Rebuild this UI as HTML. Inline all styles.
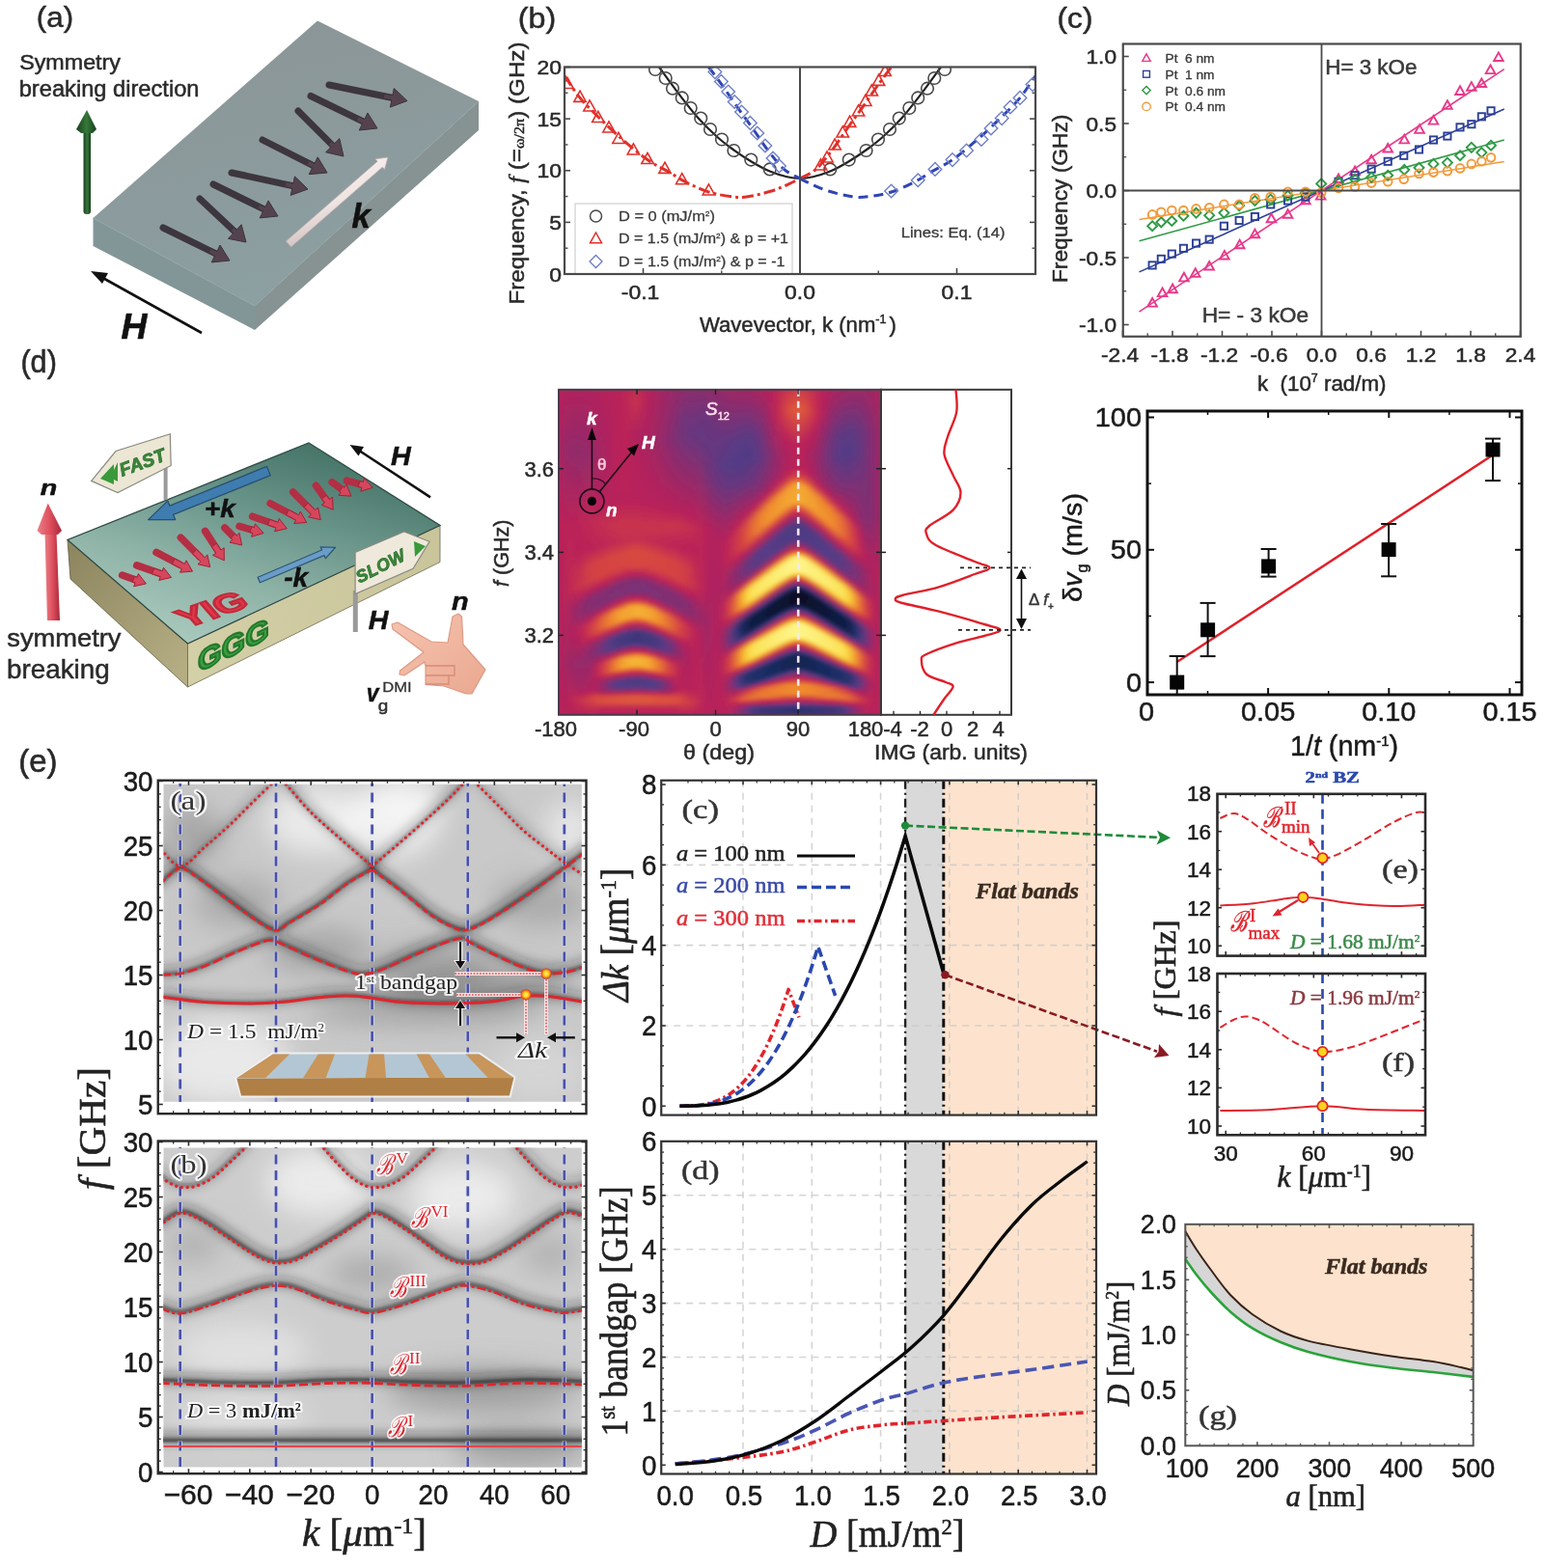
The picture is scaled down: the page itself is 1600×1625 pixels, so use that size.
<!DOCTYPE html>
<html lang="en">
<head>
<meta charset="utf-8">
<title>Figure</title>
<style>
html,body{margin:0;padding:0;background:#fff;}
body{width:1600px;height:1625px;overflow:hidden;font-family:"Liberation Sans",sans-serif;}
svg{display:block;filter:blur(0.6px);}
</style>
</head>
<body>
<svg width="1600" height="1625" viewBox="0 0 1600 1625">
<rect x="0" y="0" width="1600" height="1625" fill="#ffffff"/>
<g id="panel_a">
<text font-family="Liberation Sans, sans-serif" font-size="29.68" fill="#2a2a2a" transform="translate(37.87 28.27) scale(1.057 1)"  stroke="#2a2a2a" stroke-width="0.5">(a)</text>
<text font-family="Liberation Sans, sans-serif" font-size="21.98" fill="#2a2a2a" transform="translate(20.2 71.63) scale(1.060 1)"  stroke="#2a2a2a" stroke-width="0.5">Symmetry</text>
<text font-family="Liberation Sans, sans-serif" font-size="23.53" fill="#2a2a2a" transform="translate(19.71 99.56) scale(1.006 1)"  stroke="#2a2a2a" stroke-width="0.5">breaking direction</text>
<defs><linearGradient id="gA" x1="0" y1="0" x2="1" y2="0"><stop offset="0" stop-color="#1a3f1e"/><stop offset="0.5" stop-color="#35783a"/><stop offset="1" stop-color="#1a3f1e"/></linearGradient><linearGradient id="slabTop" x1="0" y1="0" x2="0.3" y2="1"><stop offset="0" stop-color="#8b9496"/><stop offset="1" stop-color="#8c9fa1"/></linearGradient><linearGradient id="kA" x1="0" y1="0" x2="0.4" y2="1"><stop offset="0" stop-color="#fbf6f6"/><stop offset="0.6" stop-color="#efe4e2"/><stop offset="1" stop-color="#c8b8b8"/></linearGradient></defs>
<rect x="86.5" y="132" width="7.5" height="90" fill="url(#gA)" rx="3"/>
<polygon points="90,114 100,134 96,138 84,138 79,134" fill="url(#gA)" />
<polygon points="96.5,226 264,317 264,342 96.5,255" fill="#829698" />
<polygon points="264,317 496,105 496,135 264,342" fill="#879292" />
<polygon points="329,21.5 496,105 264,317 96.5,226" fill="url(#slabTop)" />
<path d="M96.5,226 L264,317 L496,105" fill="none" stroke="#94a4a5" stroke-width="1" />
<line x1="169" y1="236" x2="224.2" y2="263.2" stroke="#3d363e" stroke-width="7" stroke-linecap="round"/>
<polygon points="216.19,262.04 222.54,265.17 219.23,271.9 238,270 228.07,253.96 224.75,260.69 218.41,257.56" fill="#54434f" stroke="#3d343c" stroke-width="1" stroke-linejoin="round"/>
<line x1="207" y1="206" x2="245.4" y2="242" stroke="#3d363e" stroke-width="7" stroke-linecap="round"/>
<polygon points="238.89,239.32 241.62,241.88 236.49,247.35 255,251 250.17,232.76 245.04,238.23 242.31,235.68" fill="#54434f" stroke="#3d343c" stroke-width="1" stroke-linejoin="round"/>
<line x1="221" y1="191" x2="274.6" y2="217.4" stroke="#3d363e" stroke-width="7" stroke-linecap="round"/>
<polygon points="266.8,216.34 272.54,219.17 269.23,225.9 288,224 278.07,207.96 274.75,214.69 269,211.86" fill="#54434f" stroke="#3d343c" stroke-width="1" stroke-linejoin="round"/>
<line x1="240" y1="179" x2="303.2" y2="192.6" stroke="#3d363e" stroke-width="7" stroke-linecap="round"/>
<polygon points="294.77,193.34 302.83,195.08 301.25,202.41 319,196 305.46,182.86 303.88,190.19 295.83,188.46" fill="#54434f" stroke="#3d343c" stroke-width="1" stroke-linejoin="round"/>
<line x1="272" y1="145" x2="325.6" y2="172.2" stroke="#3d363e" stroke-width="7" stroke-linecap="round"/>
<polygon points="317.77,171.03 323.6,173.99 320.21,180.68 339,179 329.26,162.84 325.86,169.53 320.03,166.57" fill="#54434f" stroke="#3d343c" stroke-width="1" stroke-linejoin="round"/>
<line x1="309" y1="115" x2="346.6" y2="152.6" stroke="#3d363e" stroke-width="7" stroke-linecap="round"/>
<polygon points="340.13,149.67 342.92,152.45 337.62,157.76 356,162 351.76,143.62 346.45,148.92 343.67,146.13" fill="#54434f" stroke="#3d343c" stroke-width="1" stroke-linejoin="round"/>
<line x1="322" y1="99.5" x2="377.2" y2="126.3" stroke="#3d363e" stroke-width="7" stroke-linecap="round"/>
<polygon points="369.21,125.2 375.51,128.26 372.24,135.01 391,133 380.97,117.02 377.7,123.76 371.39,120.7" fill="#54434f" stroke="#3d343c" stroke-width="1" stroke-linejoin="round"/>
<line x1="341" y1="88" x2="405.8" y2="101.2" stroke="#3d363e" stroke-width="7" stroke-linecap="round"/>
<polygon points="397.2,102 405.82,103.76 404.33,111.11 422,104.5 408.32,91.51 406.82,98.86 398.2,97.1" fill="#54434f" stroke="#3d343c" stroke-width="1" stroke-linejoin="round"/>
<polygon points="301.63,256.01 396.35,173.25 398.49,175.7 402,163 388.95,164.78 391.08,167.23 296.37,249.99" fill="url(#kA)" stroke="#b8aaaa" stroke-width="0.8"/>
<text x="364.48" y="236.25" font-family="Liberation Sans, sans-serif" font-size="34.48" font-weight="bold" font-style="italic" fill="#111"  stroke="#111" stroke-width="0.6">k</text>
<line x1="209" y1="345" x2="103" y2="286" stroke="#111" stroke-width="2.6" />
<polygon points="94,281 112,283 106,294" fill="#111" />
<text font-family="Liberation Sans, sans-serif" font-size="36.96" font-weight="bold" font-style="italic" fill="#111" transform="translate(125.51 350.5) scale(1.005 1)"  stroke="#111" stroke-width="0.6">H</text>
<text font-family="Liberation Sans, sans-serif" font-size="33.26" fill="#2a2a2a" transform="translate(21.41 385.51) scale(0.922 1)"  stroke="#2a2a2a" stroke-width="0.6">(d)</text>
</g>
<g id="panel_b">
<text font-family="Liberation Sans, sans-serif" font-size="29.41" fill="#2a2a2a" transform="translate(536.81 28.82) scale(1.097 1)"  stroke="#2a2a2a" stroke-width="0.5">(b)</text>
<rect x="596" y="211" width="225" height="73" fill="#fff" stroke="#cfcfcf" stroke-width="1.2" />
<clipPath id="clipB"><rect x="585" y="69.5" width="488" height="214.5"/></clipPath>
<g clip-path="url(#clipB)">
<path d="M683,69.5 C686.42,74.15 696.83,88.7 703.5,97.4 C710.17,106.1 716.5,114.39 723,121.7 C729.5,129.01 736.54,135.82 742.5,141.25 C748.46,146.68 752.79,149.92 758.75,154.25 C764.71,158.58 771.75,163.36 778.25,167.25 C784.75,171.14 791.52,174.92 797.75,177.6 C803.98,180.28 810.39,182.07 815.6,183.3 C820.81,184.53 824.53,185 829,185 C833.47,185 837.19,184.53 842.4,183.3 C847.61,182.07 854.02,180.28 860.25,177.6 C866.48,174.92 873.25,171.14 879.75,167.25 C886.25,163.36 893.29,158.58 899.25,154.25 C905.21,149.92 909.54,146.68 915.5,141.25 C921.46,135.82 928.5,129.01 935,121.7 C941.5,114.39 947.83,106.1 954.5,97.4 C961.17,88.7 971.58,74.15 975,69.5" fill="none" stroke="#222" stroke-width="2.2" />
<path d="M585,78.5 C587.67,82.32 595.07,94.19 601,101.4 C606.93,108.61 613.27,114.57 620.6,121.75 C627.93,128.93 636.6,137.19 645,144.5 C653.4,151.81 662.88,159.92 671,165.6 C679.12,171.28 687.25,174.8 693.75,178.6 C700.25,182.4 703.23,185 710,188.4 C716.77,191.8 726.27,196.43 734.4,199 C742.52,201.57 751.98,203 758.75,203.8 C765.52,204.6 768.23,204.77 775,203.8 C781.77,202.83 792.36,200.17 799.4,198 C806.44,195.83 812.32,192.97 817.25,190.8 C822.18,188.63 827.04,185.97 829,185" fill="none" stroke="#e0302a" stroke-width="3" stroke-dasharray="12 4 3 4" />
<path d="M829,185 C831.77,183.4 840.1,180.23 845.6,175.4 C851.1,170.57 856.58,163.07 862,156 C867.42,148.93 872.7,140.6 878.1,133 C883.5,125.4 889.25,117.69 894.4,110.4 C899.55,103.11 904.13,96.07 909,89.25 C913.87,82.43 921.17,72.79 923.6,69.5" fill="none" stroke="#e0302a" stroke-width="3" stroke-dasharray="12 4 3 4" />
<path d="M734.4,69.5 C736.83,72.79 744.13,82.43 749,89.25 C753.87,96.07 758.45,103.11 763.6,110.4 C768.75,117.69 774.5,125.4 779.9,133 C785.3,140.6 790.58,148.93 796,156 C801.42,163.07 806.9,170.57 812.4,175.4 C817.9,180.23 826.23,183.4 829,185" fill="none" stroke="#2f45b5" stroke-width="3" stroke-dasharray="10 6" />
<path d="M829,185 C830.96,185.97 835.82,188.63 840.75,190.8 C845.68,192.97 851.56,195.83 858.6,198 C865.64,200.17 876.23,202.83 883,203.8 C889.77,204.77 892.48,204.6 899.25,203.8 C906.02,203 915.48,201.57 923.6,199 C931.73,196.43 941.23,191.8 948,188.4 C954.77,185 957.75,182.4 964.25,178.6 C970.75,174.8 978.88,171.28 987,165.6 C995.12,159.92 1004.6,151.81 1013,144.5 C1021.4,137.19 1030.07,128.93 1037.4,121.75 C1044.73,114.57 1051.07,108.61 1057,101.4 C1062.93,94.19 1070.33,82.32 1073,78.5" fill="none" stroke="#2f45b5" stroke-width="3" stroke-dasharray="10 6" />
<circle cx="679" cy="72" r="6.3" fill="none" stroke="#4a4a4a" stroke-width="1.6" />
<circle cx="979" cy="72" r="6.3" fill="none" stroke="#4a4a4a" stroke-width="1.6" />
<circle cx="689.7" cy="81" r="6.3" fill="none" stroke="#4a4a4a" stroke-width="1.6" />
<circle cx="968.3" cy="81" r="6.3" fill="none" stroke="#4a4a4a" stroke-width="1.6" />
<circle cx="697" cy="91.7" r="6.3" fill="none" stroke="#4a4a4a" stroke-width="1.6" />
<circle cx="961" cy="91.7" r="6.3" fill="none" stroke="#4a4a4a" stroke-width="1.6" />
<circle cx="706.75" cy="101.4" r="6.3" fill="none" stroke="#4a4a4a" stroke-width="1.6" />
<circle cx="951.25" cy="101.4" r="6.3" fill="none" stroke="#4a4a4a" stroke-width="1.6" />
<circle cx="715.7" cy="112" r="6.3" fill="none" stroke="#4a4a4a" stroke-width="1.6" />
<circle cx="942.3" cy="112" r="6.3" fill="none" stroke="#4a4a4a" stroke-width="1.6" />
<circle cx="726.25" cy="122.6" r="6.3" fill="none" stroke="#4a4a4a" stroke-width="1.6" />
<circle cx="931.75" cy="122.6" r="6.3" fill="none" stroke="#4a4a4a" stroke-width="1.6" />
<circle cx="736" cy="134" r="6.3" fill="none" stroke="#4a4a4a" stroke-width="1.6" />
<circle cx="922" cy="134" r="6.3" fill="none" stroke="#4a4a4a" stroke-width="1.6" />
<circle cx="748" cy="144.5" r="6.3" fill="none" stroke="#4a4a4a" stroke-width="1.6" />
<circle cx="910" cy="144.5" r="6.3" fill="none" stroke="#4a4a4a" stroke-width="1.6" />
<circle cx="760.4" cy="156" r="6.3" fill="none" stroke="#4a4a4a" stroke-width="1.6" />
<circle cx="897.6" cy="156" r="6.3" fill="none" stroke="#4a4a4a" stroke-width="1.6" />
<circle cx="778.25" cy="165.6" r="6.3" fill="none" stroke="#4a4a4a" stroke-width="1.6" />
<circle cx="879.75" cy="165.6" r="6.3" fill="none" stroke="#4a4a4a" stroke-width="1.6" />
<circle cx="797.75" cy="175.4" r="6.3" fill="none" stroke="#4a4a4a" stroke-width="1.6" />
<circle cx="860.25" cy="175.4" r="6.3" fill="none" stroke="#4a4a4a" stroke-width="1.6" />
<polygon points="588,80.4 594.2,91.56 581.8,91.56" fill="none" stroke="#e0302a" stroke-width="1.6" />
<polygon points="1070,80.8 1076.8,87.6 1070,94.4 1063.2,87.6" fill="none" stroke="#7080c8" stroke-width="1.4" />
<polygon points="601,94.2 607.2,105.36 594.8,105.36" fill="none" stroke="#e0302a" stroke-width="1.6" />
<polygon points="1057,94.6 1063.8,101.4 1057,108.2 1050.2,101.4" fill="none" stroke="#7080c8" stroke-width="1.4" />
<polygon points="611,103.8 617.2,114.96 604.8,114.96" fill="none" stroke="#e0302a" stroke-width="1.6" />
<polygon points="1047,104.2 1053.8,111 1047,117.8 1040.2,111" fill="none" stroke="#7080c8" stroke-width="1.4" />
<polygon points="619.8,115.4 626,126.56 613.6,126.56" fill="none" stroke="#e0302a" stroke-width="1.6" />
<polygon points="1038.2,115.8 1045,122.6 1038.2,129.4 1031.4,122.6" fill="none" stroke="#7080c8" stroke-width="1.4" />
<polygon points="631,125.8 637.2,136.96 624.8,136.96" fill="none" stroke="#e0302a" stroke-width="1.6" />
<polygon points="1027,126.2 1033.8,133 1027,139.8 1020.2,133" fill="none" stroke="#7080c8" stroke-width="1.4" />
<polygon points="641,137.3 647.2,148.46 634.8,148.46" fill="none" stroke="#e0302a" stroke-width="1.6" />
<polygon points="1017,137.7 1023.8,144.5 1017,151.3 1010.2,144.5" fill="none" stroke="#7080c8" stroke-width="1.4" />
<polygon points="656.4,148.8 662.6,159.96 650.2,159.96" fill="none" stroke="#e0302a" stroke-width="1.6" />
<polygon points="1001.6,149.2 1008.4,156 1001.6,162.8 994.8,156" fill="none" stroke="#7080c8" stroke-width="1.4" />
<polygon points="671,158.4 677.2,169.56 664.8,169.56" fill="none" stroke="#e0302a" stroke-width="1.6" />
<polygon points="987,158.8 993.8,165.6 987,172.4 980.2,165.6" fill="none" stroke="#7080c8" stroke-width="1.4" />
<polygon points="689,168.2 695.2,179.36 682.8,179.36" fill="none" stroke="#e0302a" stroke-width="1.6" />
<polygon points="969,168.6 975.8,175.4 969,182.2 962.2,175.4" fill="none" stroke="#7080c8" stroke-width="1.4" />
<polygon points="706.75,179.55 712.95,190.71 700.55,190.71" fill="none" stroke="#e0302a" stroke-width="1.6" />
<polygon points="951.25,179.95 958.05,186.75 951.25,193.55 944.45,186.75" fill="none" stroke="#7080c8" stroke-width="1.4" />
<polygon points="734.4,190.8 740.6,201.96 728.2,201.96" fill="none" stroke="#e0302a" stroke-width="1.6" />
<polygon points="923.6,191.2 930.4,198 923.6,204.8 916.8,198" fill="none" stroke="#7080c8" stroke-width="1.4" />
<polygon points="740.9,67.8 747.7,74.6 740.9,81.4 734.1,74.6" fill="none" stroke="#7080c8" stroke-width="1.4" />
<polygon points="917.1,67.4 923.3,78.56 910.9,78.56" fill="none" stroke="#e0302a" stroke-width="1.6" />
<polygon points="747.4,77.6 754.2,84.4 747.4,91.2 740.6,84.4" fill="none" stroke="#7080c8" stroke-width="1.4" />
<polygon points="910.6,77.2 916.8,88.36 904.4,88.36" fill="none" stroke="#e0302a" stroke-width="1.6" />
<polygon points="754.7,88.2 761.5,95 754.7,101.8 747.9,95" fill="none" stroke="#7080c8" stroke-width="1.4" />
<polygon points="903.3,87.8 909.5,98.96 897.1,98.96" fill="none" stroke="#e0302a" stroke-width="1.6" />
<polygon points="761.2,98.7 768,105.5 761.2,112.3 754.4,105.5" fill="none" stroke="#7080c8" stroke-width="1.4" />
<polygon points="896.8,98.3 903,109.46 890.6,109.46" fill="none" stroke="#e0302a" stroke-width="1.6" />
<polygon points="768.5,109.2 775.3,116 768.5,122.8 761.7,116" fill="none" stroke="#7080c8" stroke-width="1.4" />
<polygon points="889.5,108.8 895.7,119.96 883.3,119.96" fill="none" stroke="#e0302a" stroke-width="1.6" />
<polygon points="777.4,120.6 784.2,127.4 777.4,134.2 770.6,127.4" fill="none" stroke="#7080c8" stroke-width="1.4" />
<polygon points="880.6,120.2 886.8,131.36 874.4,131.36" fill="none" stroke="#e0302a" stroke-width="1.6" />
<polygon points="784.75,131.2 791.55,138 784.75,144.8 777.95,138" fill="none" stroke="#7080c8" stroke-width="1.4" />
<polygon points="873.25,130.8 879.45,141.96 867.05,141.96" fill="none" stroke="#e0302a" stroke-width="1.6" />
<polygon points="792.9,144.2 799.7,151 792.9,157.8 786.1,151" fill="none" stroke="#7080c8" stroke-width="1.4" />
<polygon points="865.1,143.8 871.3,154.96 858.9,154.96" fill="none" stroke="#e0302a" stroke-width="1.6" />
<polygon points="801,157.2 807.8,164 801,170.8 794.2,164" fill="none" stroke="#7080c8" stroke-width="1.4" />
<polygon points="857,156.8 863.2,167.96 850.8,167.96" fill="none" stroke="#e0302a" stroke-width="1.6" />
<polygon points="807.5,165.2 814.3,172 807.5,178.8 800.7,172" fill="none" stroke="#7080c8" stroke-width="1.4" />
<polygon points="850.5,164.8 856.7,175.96 844.3,175.96" fill="none" stroke="#e0302a" stroke-width="1.6" />
</g>
<rect x="585" y="69.5" width="488" height="214.5" fill="none" stroke="#4a4a4a" stroke-width="2.2" />
<line x1="829" y1="69.5" x2="829" y2="284" stroke="#4a4a4a" stroke-width="2" />
<line x1="585" y1="284" x2="591" y2="284" stroke="#4a4a4a" stroke-width="1.6" />
<line x1="1073" y1="284" x2="1067" y2="284" stroke="#4a4a4a" stroke-width="1.6" />
<text font-family="Liberation Sans, sans-serif" font-size="20.8" text-anchor="end" fill="#2a2a2a" transform="translate(582 291.6) scale(1.100 1)"  stroke="#2a2a2a" stroke-width="0.5">0</text>
<line x1="585" y1="230.38" x2="591" y2="230.38" stroke="#4a4a4a" stroke-width="1.6" />
<line x1="1073" y1="230.38" x2="1067" y2="230.38" stroke="#4a4a4a" stroke-width="1.6" />
<text font-family="Liberation Sans, sans-serif" font-size="20.8" text-anchor="end" fill="#2a2a2a" transform="translate(582 237.97) scale(1.100 1)"  stroke="#2a2a2a" stroke-width="0.5">5</text>
<line x1="585" y1="176.75" x2="591" y2="176.75" stroke="#4a4a4a" stroke-width="1.6" />
<line x1="1073" y1="176.75" x2="1067" y2="176.75" stroke="#4a4a4a" stroke-width="1.6" />
<text font-family="Liberation Sans, sans-serif" font-size="20.8" text-anchor="end" fill="#2a2a2a" transform="translate(582 184.35) scale(1.100 1)"  stroke="#2a2a2a" stroke-width="0.5">10</text>
<line x1="585" y1="123.12" x2="591" y2="123.12" stroke="#4a4a4a" stroke-width="1.6" />
<line x1="1073" y1="123.12" x2="1067" y2="123.12" stroke="#4a4a4a" stroke-width="1.6" />
<text font-family="Liberation Sans, sans-serif" font-size="20.8" text-anchor="end" fill="#2a2a2a" transform="translate(582 130.72) scale(1.100 1)"  stroke="#2a2a2a" stroke-width="0.5">15</text>
<line x1="585" y1="69.5" x2="591" y2="69.5" stroke="#4a4a4a" stroke-width="1.6" />
<line x1="1073" y1="69.5" x2="1067" y2="69.5" stroke="#4a4a4a" stroke-width="1.6" />
<text font-family="Liberation Sans, sans-serif" font-size="20.8" text-anchor="end" fill="#2a2a2a" transform="translate(582 77.1) scale(1.100 1)"  stroke="#2a2a2a" stroke-width="0.5">20</text>
<line x1="585" y1="257.19" x2="588.5" y2="257.19" stroke="#4a4a4a" stroke-width="1.4" />
<line x1="1073" y1="257.19" x2="1069.5" y2="257.19" stroke="#4a4a4a" stroke-width="1.4" />
<line x1="585" y1="203.56" x2="588.5" y2="203.56" stroke="#4a4a4a" stroke-width="1.4" />
<line x1="1073" y1="203.56" x2="1069.5" y2="203.56" stroke="#4a4a4a" stroke-width="1.4" />
<line x1="585" y1="149.94" x2="588.5" y2="149.94" stroke="#4a4a4a" stroke-width="1.4" />
<line x1="1073" y1="149.94" x2="1069.5" y2="149.94" stroke="#4a4a4a" stroke-width="1.4" />
<line x1="585" y1="96.31" x2="588.5" y2="96.31" stroke="#4a4a4a" stroke-width="1.4" />
<line x1="1073" y1="96.31" x2="1069.5" y2="96.31" stroke="#4a4a4a" stroke-width="1.4" />
<line x1="666.5" y1="284" x2="666.5" y2="278" stroke="#4a4a4a" stroke-width="1.6" />
<text font-family="Liberation Sans, sans-serif" font-size="20.8" text-anchor="middle" fill="#2a2a2a" transform="translate(663.5 310) scale(1.100 1)"  stroke="#2a2a2a" stroke-width="0.5">-0.1</text>
<line x1="829" y1="284" x2="829" y2="278" stroke="#4a4a4a" stroke-width="1.6" />
<text font-family="Liberation Sans, sans-serif" font-size="20.8" text-anchor="middle" fill="#2a2a2a" transform="translate(829 310) scale(1.100 1)"  stroke="#2a2a2a" stroke-width="0.5">0.0</text>
<line x1="991.5" y1="284" x2="991.5" y2="278" stroke="#4a4a4a" stroke-width="1.6" />
<text font-family="Liberation Sans, sans-serif" font-size="20.8" text-anchor="middle" fill="#2a2a2a" transform="translate(991.5 310) scale(1.100 1)"  stroke="#2a2a2a" stroke-width="0.5">0.1</text>
<line x1="747.75" y1="284" x2="747.75" y2="280.5" stroke="#4a4a4a" stroke-width="1.4" />
<line x1="910.25" y1="284" x2="910.25" y2="280.5" stroke="#4a4a4a" stroke-width="1.4" />
<text font-family="Liberation Sans, sans-serif" font-size="22.8" fill="#2a2a2a" transform="translate(724.89 343.91) scale(0.971 1)"  stroke="#2a2a2a" stroke-width="0.5">Wavevector, k (nm<tspan dy="-9" font-size="13">-1</tspan><tspan dy="9" dx="3">)</tspan></text>
<text x="543" y="315.5" font-family="Liberation Sans, sans-serif" font-size="22.5" fill="#2a2a2a" transform="rotate(-90 543 315.5)" textLength="272" lengthAdjust="spacingAndGlyphs" stroke="#2a2a2a" stroke-width="0.5">Frequency, <tspan font-style="italic" font-family="Liberation Serif, serif">f</tspan> (=<tspan font-size="15" font-family="Liberation Serif, serif">ω/2π</tspan>) (GHz)</text>
<circle cx="617.5" cy="224" r="6" fill="none" stroke="#4a4a4a" stroke-width="1.5" />
<polygon points="617.5,241 623.5,251.8 611.5,251.8" fill="none" stroke="#e0302a" stroke-width="1.5" />
<polygon points="617.5,264.5 624,271 617.5,277.5 611,271" fill="none" stroke="#6a7ac5" stroke-width="1.3" />
<text x="641" y="228.5" font-family="Liberation Sans, sans-serif" font-size="15.5" fill="#3a3a3a" textLength="100" lengthAdjust="spacingAndGlyphs" stroke="#3a3a3a" stroke-width="0.3">D = 0 (mJ/m<tspan dy="-5" font-size="8">2</tspan><tspan dy="5">)</tspan></text>
<text x="641" y="252" font-family="Liberation Sans, sans-serif" font-size="15.5" fill="#3a3a3a" textLength="176" lengthAdjust="spacingAndGlyphs" stroke="#3a3a3a" stroke-width="0.3">D = 1.5 (mJ/m<tspan dy="-5" font-size="8">2</tspan><tspan dy="5">) &amp; p = +1</tspan></text>
<text x="641" y="275.5" font-family="Liberation Sans, sans-serif" font-size="15.5" fill="#3a3a3a" textLength="172.5" lengthAdjust="spacingAndGlyphs" stroke="#3a3a3a" stroke-width="0.3">D = 1.5 (mJ/m<tspan dy="-5" font-size="8">2</tspan><tspan dy="5">) &amp; p = -1</tspan></text>
<text font-family="Liberation Sans, sans-serif" font-size="15" fill="#3a3a3a" transform="translate(933.67 245.6) scale(1.106 1)"  stroke="#3a3a3a" stroke-width="0.3">Lines: Eq. (14)</text>
</g>
<g id="panel_c">
<text font-family="Liberation Sans, sans-serif" font-size="29.41" fill="#2a2a2a" transform="translate(1095.61 28.82) scale(1.074 1)"  stroke="#2a2a2a" stroke-width="0.5">(c)</text>
<line x1="1180.5" y1="227.46" x2="1558.75" y2="167.5" stroke="#f39a3c" stroke-width="1.6" />
<line x1="1180.5" y1="249.85" x2="1558.75" y2="145.08" stroke="#2f9a45" stroke-width="1.6" />
<line x1="1180.5" y1="281.89" x2="1558.75" y2="113" stroke="#2c3f98" stroke-width="1.6" />
<line x1="1180.5" y1="323.19" x2="1558.75" y2="71.65" stroke="#e8388a" stroke-width="1.6" />
<polygon points="1194.12,308.98 1198.92,317.62 1189.32,317.62" fill="none" stroke="#e8388a" stroke-width="1.9" />
<polygon points="1204.62,298.48 1209.42,307.12 1199.82,307.12" fill="none" stroke="#e8388a" stroke-width="1.9" />
<polygon points="1215.12,294.54 1219.92,303.18 1210.32,303.18" fill="none" stroke="#e8388a" stroke-width="1.9" />
<polygon points="1226.93,282.73 1231.73,291.37 1222.13,291.37" fill="none" stroke="#e8388a" stroke-width="1.9" />
<polygon points="1238.74,278.27 1243.54,286.91 1233.94,286.91" fill="none" stroke="#e8388a" stroke-width="1.9" />
<polygon points="1253.18,270.92 1257.98,279.56 1248.38,279.56" fill="none" stroke="#e8388a" stroke-width="1.9" />
<polygon points="1268.92,259.9 1273.72,268.54 1264.12,268.54" fill="none" stroke="#e8388a" stroke-width="1.9" />
<polygon points="1284.67,248.61 1289.47,257.25 1279.87,257.25" fill="none" stroke="#e8388a" stroke-width="1.9" />
<polygon points="1300.42,237.59 1305.22,246.23 1295.62,246.23" fill="none" stroke="#e8388a" stroke-width="1.9" />
<polygon points="1317.48,221.58 1322.28,230.22 1312.68,230.22" fill="none" stroke="#e8388a" stroke-width="1.9" />
<polygon points="1334.54,217.11 1339.34,225.75 1329.74,225.75" fill="none" stroke="#e8388a" stroke-width="1.9" />
<polygon points="1352.91,202.68 1357.71,211.32 1348.11,211.32" fill="none" stroke="#e8388a" stroke-width="1.9" />
<polygon points="1368.66,197.95 1373.46,206.59 1363.86,206.59" fill="none" stroke="#e8388a" stroke-width="1.9" />
<polygon points="1387.03,180.37 1391.83,189.01 1382.23,189.01" fill="none" stroke="#e8388a" stroke-width="1.9" />
<polygon points="1404.09,172.5 1408.89,181.14 1399.29,181.14" fill="none" stroke="#e8388a" stroke-width="1.9" />
<polygon points="1421.15,160.68 1425.95,169.32 1416.35,169.32" fill="none" stroke="#e8388a" stroke-width="1.9" />
<polygon points="1438.22,148.87 1443.02,157.51 1433.42,157.51" fill="none" stroke="#e8388a" stroke-width="1.9" />
<polygon points="1455.28,139.69 1460.08,148.33 1450.48,148.33" fill="none" stroke="#e8388a" stroke-width="1.9" />
<polygon points="1471.02,129.19 1475.82,137.83 1466.22,137.83" fill="none" stroke="#e8388a" stroke-width="1.9" />
<polygon points="1485.46,120 1490.26,128.64 1480.66,128.64" fill="none" stroke="#e8388a" stroke-width="1.9" />
<polygon points="1499.9,104.25 1504.7,112.89 1495.1,112.89" fill="none" stroke="#e8388a" stroke-width="1.9" />
<polygon points="1513.02,89.29 1517.82,97.93 1508.22,97.93" fill="none" stroke="#e8388a" stroke-width="1.9" />
<polygon points="1524.83,85.09 1529.63,93.73 1520.03,93.73" fill="none" stroke="#e8388a" stroke-width="1.9" />
<polygon points="1535.33,81.42 1540.13,90.06 1530.53,90.06" fill="none" stroke="#e8388a" stroke-width="1.9" />
<polygon points="1544.51,67.51 1549.31,76.15 1539.71,76.15" fill="none" stroke="#e8388a" stroke-width="1.9" />
<polygon points="1552.91,54.39 1557.71,63.03 1548.11,63.03" fill="none" stroke="#e8388a" stroke-width="1.9" />
<rect x="1190.52" y="271.31" width="7.2" height="7.2" fill="none" stroke="#2c3f98" stroke-width="1.9" />
<rect x="1199.71" y="264.75" width="7.2" height="7.2" fill="none" stroke="#2c3f98" stroke-width="1.9" />
<rect x="1210.73" y="259.5" width="7.2" height="7.2" fill="none" stroke="#2c3f98" stroke-width="1.9" />
<rect x="1222.8" y="253.72" width="7.2" height="7.2" fill="none" stroke="#2c3f98" stroke-width="1.9" />
<rect x="1235.93" y="248.47" width="7.2" height="7.2" fill="none" stroke="#2c3f98" stroke-width="1.9" />
<rect x="1249.58" y="244.54" width="7.2" height="7.2" fill="none" stroke="#2c3f98" stroke-width="1.9" />
<rect x="1264.8" y="230.63" width="7.2" height="7.2" fill="none" stroke="#2c3f98" stroke-width="1.9" />
<rect x="1280.55" y="224.85" width="7.2" height="7.2" fill="none" stroke="#2c3f98" stroke-width="1.9" />
<rect x="1296.82" y="220.91" width="7.2" height="7.2" fill="none" stroke="#2c3f98" stroke-width="1.9" />
<rect x="1313.09" y="208.32" width="7.2" height="7.2" fill="none" stroke="#2c3f98" stroke-width="1.9" />
<rect x="1330.94" y="204.38" width="7.2" height="7.2" fill="none" stroke="#2c3f98" stroke-width="1.9" />
<rect x="1349.31" y="200.44" width="7.2" height="7.2" fill="none" stroke="#2c3f98" stroke-width="1.9" />
<rect x="1383.43" y="184.69" width="7.2" height="7.2" fill="none" stroke="#2c3f98" stroke-width="1.9" />
<rect x="1400.49" y="178.13" width="7.2" height="7.2" fill="none" stroke="#2c3f98" stroke-width="1.9" />
<rect x="1417.55" y="171.57" width="7.2" height="7.2" fill="none" stroke="#2c3f98" stroke-width="1.9" />
<rect x="1434.62" y="163.7" width="7.2" height="7.2" fill="none" stroke="#2c3f98" stroke-width="1.9" />
<rect x="1451.15" y="157.66" width="7.2" height="7.2" fill="none" stroke="#2c3f98" stroke-width="1.9" />
<rect x="1466.9" y="151.36" width="7.2" height="7.2" fill="none" stroke="#2c3f98" stroke-width="1.9" />
<rect x="1481.86" y="141.39" width="7.2" height="7.2" fill="none" stroke="#2c3f98" stroke-width="1.9" />
<rect x="1496.3" y="137.45" width="7.2" height="7.2" fill="none" stroke="#2c3f98" stroke-width="1.9" />
<rect x="1509.42" y="128.26" width="7.2" height="7.2" fill="none" stroke="#2c3f98" stroke-width="1.9" />
<rect x="1521.23" y="125.11" width="7.2" height="7.2" fill="none" stroke="#2c3f98" stroke-width="1.9" />
<rect x="1531.73" y="117.24" width="7.2" height="7.2" fill="none" stroke="#2c3f98" stroke-width="1.9" />
<rect x="1541.44" y="111.2" width="7.2" height="7.2" fill="none" stroke="#2c3f98" stroke-width="1.9" />
<polygon points="1194.12,229.23 1199.12,234.23 1194.12,239.23 1189.12,234.23" fill="none" stroke="#2f9a45" stroke-width="1.9" />
<polygon points="1203.31,225.29 1208.31,230.29 1203.31,235.29 1198.31,230.29" fill="none" stroke="#2f9a45" stroke-width="1.9" />
<polygon points="1214.33,223.98 1219.33,228.98 1214.33,233.98 1209.33,228.98" fill="none" stroke="#2f9a45" stroke-width="1.9" />
<polygon points="1226.4,218.73 1231.4,223.73 1226.4,228.73 1221.4,223.73" fill="none" stroke="#2f9a45" stroke-width="1.9" />
<polygon points="1239.53,215.58 1244.53,220.58 1239.53,225.58 1234.53,220.58" fill="none" stroke="#2f9a45" stroke-width="1.9" />
<polygon points="1253.18,218.2 1258.18,223.2 1253.18,228.2 1248.18,223.2" fill="none" stroke="#2f9a45" stroke-width="1.9" />
<polygon points="1268.4,215.58 1273.4,220.58 1268.4,225.58 1263.4,220.58" fill="none" stroke="#2f9a45" stroke-width="1.9" />
<polygon points="1284.15,208.23 1289.15,213.23 1284.15,218.23 1279.15,213.23" fill="none" stroke="#2f9a45" stroke-width="1.9" />
<polygon points="1300.42,202.98 1305.42,207.98 1300.42,212.98 1295.42,207.98" fill="none" stroke="#2f9a45" stroke-width="1.9" />
<polygon points="1316.69,201.67 1321.69,206.67 1316.69,211.67 1311.69,206.67" fill="none" stroke="#2f9a45" stroke-width="1.9" />
<polygon points="1334.54,197.73 1339.54,202.73 1334.54,207.73 1329.54,202.73" fill="none" stroke="#2f9a45" stroke-width="1.9" />
<polygon points="1352.91,195.1 1357.91,200.1 1352.91,205.1 1347.91,200.1" fill="none" stroke="#2f9a45" stroke-width="1.9" />
<polygon points="1369.19,185.39 1374.19,190.39 1369.19,195.39 1364.19,190.39" fill="none" stroke="#2f9a45" stroke-width="1.9" />
<polygon points="1387.03,183.29 1392.03,188.29 1387.03,193.29 1382.03,188.29" fill="none" stroke="#2f9a45" stroke-width="1.9" />
<polygon points="1404.09,180.67 1409.09,185.67 1404.09,190.67 1399.09,185.67" fill="none" stroke="#2f9a45" stroke-width="1.9" />
<polygon points="1421.15,178.83 1426.15,183.83 1421.15,188.83 1416.15,183.83" fill="none" stroke="#2f9a45" stroke-width="1.9" />
<polygon points="1438.22,176.73 1443.22,181.73 1438.22,186.73 1433.22,181.73" fill="none" stroke="#2f9a45" stroke-width="1.9" />
<polygon points="1455.28,170.96 1460.28,175.96 1455.28,180.96 1450.28,175.96" fill="none" stroke="#2f9a45" stroke-width="1.9" />
<polygon points="1470.5,168.86 1475.5,173.86 1470.5,178.86 1465.5,173.86" fill="none" stroke="#2f9a45" stroke-width="1.9" />
<polygon points="1485.46,164.92 1490.46,169.92 1485.46,174.92 1480.46,169.92" fill="none" stroke="#2f9a45" stroke-width="1.9" />
<polygon points="1499.9,163.61 1504.9,168.61 1499.9,173.61 1494.9,168.61" fill="none" stroke="#2f9a45" stroke-width="1.9" />
<polygon points="1513.02,156.26 1518.02,161.26 1513.02,166.26 1508.02,161.26" fill="none" stroke="#2f9a45" stroke-width="1.9" />
<polygon points="1524.83,147.86 1529.83,152.86 1524.83,157.86 1519.83,152.86" fill="none" stroke="#2f9a45" stroke-width="1.9" />
<polygon points="1535.33,153.11 1540.33,158.11 1535.33,163.11 1530.33,158.11" fill="none" stroke="#2f9a45" stroke-width="1.9" />
<polygon points="1545.04,145.76 1550.04,150.76 1545.04,155.76 1540.04,150.76" fill="none" stroke="#2f9a45" stroke-width="1.9" />
<circle cx="1194.12" cy="222.41" r="4.3" fill="none" stroke="#f39a3c" stroke-width="2" />
<circle cx="1203.31" cy="219.79" r="4.3" fill="none" stroke="#f39a3c" stroke-width="2" />
<circle cx="1214.33" cy="217.95" r="4.3" fill="none" stroke="#f39a3c" stroke-width="2" />
<circle cx="1226.4" cy="217.95" r="4.3" fill="none" stroke="#f39a3c" stroke-width="2" />
<circle cx="1239.53" cy="216.38" r="4.3" fill="none" stroke="#f39a3c" stroke-width="2" />
<circle cx="1253.18" cy="215.33" r="4.3" fill="none" stroke="#f39a3c" stroke-width="2" />
<circle cx="1268.4" cy="211.92" r="4.3" fill="none" stroke="#f39a3c" stroke-width="2" />
<circle cx="1284.15" cy="211.92" r="4.3" fill="none" stroke="#f39a3c" stroke-width="2" />
<circle cx="1300.42" cy="205.35" r="4.3" fill="none" stroke="#f39a3c" stroke-width="2" />
<circle cx="1316.69" cy="204.04" r="4.3" fill="none" stroke="#f39a3c" stroke-width="2" />
<circle cx="1334.54" cy="198.79" r="4.3" fill="none" stroke="#f39a3c" stroke-width="2" />
<circle cx="1352.91" cy="198.79" r="4.3" fill="none" stroke="#f39a3c" stroke-width="2" />
<circle cx="1369.19" cy="199.58" r="4.3" fill="none" stroke="#f39a3c" stroke-width="2" />
<circle cx="1387.03" cy="194.86" r="4.3" fill="none" stroke="#f39a3c" stroke-width="2" />
<circle cx="1404.09" cy="193.54" r="4.3" fill="none" stroke="#f39a3c" stroke-width="2" />
<circle cx="1421.15" cy="189.61" r="4.3" fill="none" stroke="#f39a3c" stroke-width="2" />
<circle cx="1438.22" cy="188.29" r="4.3" fill="none" stroke="#f39a3c" stroke-width="2" />
<circle cx="1454.75" cy="185.67" r="4.3" fill="none" stroke="#f39a3c" stroke-width="2" />
<circle cx="1470.5" cy="179.9" r="4.3" fill="none" stroke="#f39a3c" stroke-width="2" />
<circle cx="1485.46" cy="178.58" r="4.3" fill="none" stroke="#f39a3c" stroke-width="2" />
<circle cx="1499.9" cy="177.27" r="4.3" fill="none" stroke="#f39a3c" stroke-width="2" />
<circle cx="1513.02" cy="174.38" r="4.3" fill="none" stroke="#f39a3c" stroke-width="2" />
<circle cx="1524.83" cy="169.92" r="4.3" fill="none" stroke="#f39a3c" stroke-width="2" />
<circle cx="1535.33" cy="167.3" r="4.3" fill="none" stroke="#f39a3c" stroke-width="2" />
<circle cx="1545.04" cy="163.36" r="4.3" fill="none" stroke="#f39a3c" stroke-width="2" />
<rect x="1163.75" y="45.5" width="412" height="303.25" fill="none" stroke="#4a4a4a" stroke-width="2.2" />
<line x1="1369.5" y1="45.5" x2="1369.5" y2="348.75" stroke="#4a4a4a" stroke-width="1.8" />
<line x1="1163.75" y1="197.5" x2="1575.75" y2="197.5" stroke="#4a4a4a" stroke-width="1.8" />
<line x1="1163.75" y1="58.5" x2="1169.75" y2="58.5" stroke="#4a4a4a" stroke-width="1.6" />
<text font-family="Liberation Sans, sans-serif" font-size="20.8" text-anchor="end" fill="#2a2a2a" transform="translate(1157 66.1) scale(1.090 1)"  stroke="#2a2a2a" stroke-width="0.5">1.0</text>
<line x1="1163.75" y1="128" x2="1169.75" y2="128" stroke="#4a4a4a" stroke-width="1.6" />
<text font-family="Liberation Sans, sans-serif" font-size="20.8" text-anchor="end" fill="#2a2a2a" transform="translate(1157 135.6) scale(1.090 1)"  stroke="#2a2a2a" stroke-width="0.5">0.5</text>
<line x1="1163.75" y1="197.5" x2="1169.75" y2="197.5" stroke="#4a4a4a" stroke-width="1.6" />
<text font-family="Liberation Sans, sans-serif" font-size="20.8" text-anchor="end" fill="#2a2a2a" transform="translate(1157 205.1) scale(1.090 1)"  stroke="#2a2a2a" stroke-width="0.5">0.0</text>
<line x1="1163.75" y1="267" x2="1169.75" y2="267" stroke="#4a4a4a" stroke-width="1.6" />
<text font-family="Liberation Sans, sans-serif" font-size="20.8" text-anchor="end" fill="#2a2a2a" transform="translate(1157 274.6) scale(1.090 1)"  stroke="#2a2a2a" stroke-width="0.5">-0.5</text>
<line x1="1163.75" y1="336.5" x2="1169.75" y2="336.5" stroke="#4a4a4a" stroke-width="1.6" />
<text font-family="Liberation Sans, sans-serif" font-size="20.8" text-anchor="end" fill="#2a2a2a" transform="translate(1157 344.1) scale(1.090 1)"  stroke="#2a2a2a" stroke-width="0.5">-1.0</text>
<line x1="1163.75" y1="93.25" x2="1167.25" y2="93.25" stroke="#4a4a4a" stroke-width="1.3" />
<line x1="1163.75" y1="162.75" x2="1167.25" y2="162.75" stroke="#4a4a4a" stroke-width="1.3" />
<line x1="1163.75" y1="232.25" x2="1167.25" y2="232.25" stroke="#4a4a4a" stroke-width="1.3" />
<line x1="1163.75" y1="301.75" x2="1167.25" y2="301.75" stroke="#4a4a4a" stroke-width="1.3" />
<line x1="1163.5" y1="348.75" x2="1163.5" y2="342.75" stroke="#4a4a4a" stroke-width="1.6" />
<text font-family="Liberation Sans, sans-serif" font-size="20.8" text-anchor="middle" fill="#2a2a2a" transform="translate(1160.5 374.5) scale(1.090 1)"  stroke="#2a2a2a" stroke-width="0.5">-2.4</text>
<line x1="1215" y1="348.75" x2="1215" y2="342.75" stroke="#4a4a4a" stroke-width="1.6" />
<text font-family="Liberation Sans, sans-serif" font-size="20.8" text-anchor="middle" fill="#2a2a2a" transform="translate(1212 374.5) scale(1.090 1)"  stroke="#2a2a2a" stroke-width="0.5">-1.8</text>
<line x1="1266.5" y1="348.75" x2="1266.5" y2="342.75" stroke="#4a4a4a" stroke-width="1.6" />
<text font-family="Liberation Sans, sans-serif" font-size="20.8" text-anchor="middle" fill="#2a2a2a" transform="translate(1263.5 374.5) scale(1.090 1)"  stroke="#2a2a2a" stroke-width="0.5">-1.2</text>
<line x1="1318" y1="348.75" x2="1318" y2="342.75" stroke="#4a4a4a" stroke-width="1.6" />
<text font-family="Liberation Sans, sans-serif" font-size="20.8" text-anchor="middle" fill="#2a2a2a" transform="translate(1315 374.5) scale(1.090 1)"  stroke="#2a2a2a" stroke-width="0.5">-0.6</text>
<line x1="1369.5" y1="348.75" x2="1369.5" y2="342.75" stroke="#4a4a4a" stroke-width="1.6" />
<text font-family="Liberation Sans, sans-serif" font-size="20.8" text-anchor="middle" fill="#2a2a2a" transform="translate(1369.5 374.5) scale(1.090 1)"  stroke="#2a2a2a" stroke-width="0.5">0.0</text>
<line x1="1421" y1="348.75" x2="1421" y2="342.75" stroke="#4a4a4a" stroke-width="1.6" />
<text font-family="Liberation Sans, sans-serif" font-size="20.8" text-anchor="middle" fill="#2a2a2a" transform="translate(1421 374.5) scale(1.090 1)"  stroke="#2a2a2a" stroke-width="0.5">0.6</text>
<line x1="1472.5" y1="348.75" x2="1472.5" y2="342.75" stroke="#4a4a4a" stroke-width="1.6" />
<text font-family="Liberation Sans, sans-serif" font-size="20.8" text-anchor="middle" fill="#2a2a2a" transform="translate(1472.5 374.5) scale(1.090 1)"  stroke="#2a2a2a" stroke-width="0.5">1.2</text>
<line x1="1524" y1="348.75" x2="1524" y2="342.75" stroke="#4a4a4a" stroke-width="1.6" />
<text font-family="Liberation Sans, sans-serif" font-size="20.8" text-anchor="middle" fill="#2a2a2a" transform="translate(1524 374.5) scale(1.090 1)"  stroke="#2a2a2a" stroke-width="0.5">1.8</text>
<line x1="1575.5" y1="348.75" x2="1575.5" y2="342.75" stroke="#4a4a4a" stroke-width="1.6" />
<text font-family="Liberation Sans, sans-serif" font-size="20.8" text-anchor="middle" fill="#2a2a2a" transform="translate(1575.5 374.5) scale(1.090 1)"  stroke="#2a2a2a" stroke-width="0.5">2.4</text>
<line x1="1189.25" y1="348.75" x2="1189.25" y2="345.25" stroke="#4a4a4a" stroke-width="1.3" />
<line x1="1240.75" y1="348.75" x2="1240.75" y2="345.25" stroke="#4a4a4a" stroke-width="1.3" />
<line x1="1292.25" y1="348.75" x2="1292.25" y2="345.25" stroke="#4a4a4a" stroke-width="1.3" />
<line x1="1343.75" y1="348.75" x2="1343.75" y2="345.25" stroke="#4a4a4a" stroke-width="1.3" />
<line x1="1395.25" y1="348.75" x2="1395.25" y2="345.25" stroke="#4a4a4a" stroke-width="1.3" />
<line x1="1446.75" y1="348.75" x2="1446.75" y2="345.25" stroke="#4a4a4a" stroke-width="1.3" />
<line x1="1498.25" y1="348.75" x2="1498.25" y2="345.25" stroke="#4a4a4a" stroke-width="1.3" />
<line x1="1549.75" y1="348.75" x2="1549.75" y2="345.25" stroke="#4a4a4a" stroke-width="1.3" />
<text x="1303" y="405" font-family="Liberation Sans, sans-serif" font-size="21.6" fill="#2a2a2a" xml:space="preserve" textLength="133.5" lengthAdjust="spacingAndGlyphs" stroke="#2a2a2a" stroke-width="0.5">k  (10<tspan dy="-9" font-size="12">7</tspan><tspan dy="9"> rad/m)</tspan></text>
<text font-family="Liberation Sans, sans-serif" font-size="22.73" fill="#2a2a2a" transform="translate(1106.48 293.07) rotate(-90) scale(1.001 1)"  stroke="#2a2a2a" stroke-width="0.5">Frequency (GHz)</text>
<text font-family="Liberation Sans, sans-serif" font-size="21.43" fill="#3a3a3a" transform="translate(1373.21 76.79) scale(1.046 1)"  stroke="#3a3a3a" stroke-width="0.5">H= 3 kOe</text>
<text font-family="Liberation Sans, sans-serif" font-size="21.43" fill="#3a3a3a" transform="translate(1245.68 334.29) scale(1.059 1)"  stroke="#3a3a3a" stroke-width="0.5">H= - 3 kOe</text>
<polygon points="1188,55.8 1192.2,63.36 1183.8,63.36" fill="none" stroke="#e8388a" stroke-width="1.4" />
<text x="1207.5" y="65" font-family="Liberation Sans, sans-serif" font-size="12.5" fill="#3a3a3a" xml:space="preserve" textLength="51" lengthAdjust="spacingAndGlyphs" stroke="#3a3a3a" stroke-width="0.3">Pt  6 nm</text>
<rect x="1184.6" y="73.4" width="6.8" height="6.8" fill="none" stroke="#2c3f98" stroke-width="1.4" />
<text x="1207.5" y="81.8" font-family="Liberation Sans, sans-serif" font-size="12.5" fill="#3a3a3a" xml:space="preserve" textLength="51" lengthAdjust="spacingAndGlyphs" stroke="#3a3a3a" stroke-width="0.3">Pt  1 nm</text>
<polygon points="1188,89.4 1192.2,93.6 1188,97.8 1183.8,93.6" fill="none" stroke="#2f9a45" stroke-width="1.4" />
<text x="1207.5" y="98.6" font-family="Liberation Sans, sans-serif" font-size="12.5" fill="#3a3a3a" xml:space="preserve" textLength="62.5" lengthAdjust="spacingAndGlyphs" stroke="#3a3a3a" stroke-width="0.3">Pt  0.6 nm</text>
<circle cx="1188" cy="110.4" r="4.2" fill="none" stroke="#f39a3c" stroke-width="1.4" />
<text x="1207.5" y="115.4" font-family="Liberation Sans, sans-serif" font-size="12.5" fill="#3a3a3a" xml:space="preserve" textLength="62.5" lengthAdjust="spacingAndGlyphs" stroke="#3a3a3a" stroke-width="0.3">Pt  0.4 nm</text>
</g>
<g id="panel_d">
<defs>
<linearGradient id="dTop" gradientUnits="userSpaceOnUse" x1="300" y1="455" x2="230" y2="675"><stop offset="0" stop-color="#477568"/><stop offset="0.35" stop-color="#6a958a"/><stop offset="0.7" stop-color="#90b4a8"/><stop offset="1" stop-color="#a8c8bc"/></linearGradient>
<linearGradient id="dRight" gradientUnits="userSpaceOnUse" x1="200" y1="690" x2="456" y2="560"><stop offset="0" stop-color="#d3cfa6"/><stop offset="1" stop-color="#c9c49a"/></linearGradient>
<linearGradient id="dLeft" gradientUnits="userSpaceOnUse" x1="70" y1="580" x2="196" y2="690"><stop offset="0" stop-color="#8f8760"/><stop offset="1" stop-color="#b5ad83"/></linearGradient>
<linearGradient id="nArr" x1="0" y1="0" x2="1" y2="0"><stop offset="0" stop-color="#e88088"/><stop offset="0.5" stop-color="#e0505e"/><stop offset="1" stop-color="#a82a3c"/></linearGradient>
<linearGradient id="hand" x1="0" y1="0" x2="1" y2="1"><stop offset="0" stop-color="#f6c4b0"/><stop offset="1" stop-color="#eaa890"/></linearGradient>
</defs>
<polygon points="70,559.5 194.5,667 194.5,712 73,600" fill="url(#dLeft)" stroke="#5a5a40" stroke-width="0.8" />
<polygon points="194.5,667 456,544.5 456,582.5 194.5,712" fill="url(#dRight)" stroke="#6a6a50" stroke-width="0.8" />
<polygon points="320,459 456,544.5 194.5,667 70,559.5" fill="url(#dTop)" stroke="#2f4a44" stroke-width="1.3" />
<polygon points="276.52,483.37 175.82,524.2 173.75,519.1 153.6,538.6 181.64,538.56 179.57,533.46 280.28,492.63" fill="#3f7cb0" stroke="#2a5070" stroke-width="1.3" stroke-linejoin="round"/>
<polygon points="269.47,603.76 335.89,575.54 337.26,578.76 347.6,567.3 332.17,566.79 333.54,570.01 267.13,598.24" fill="#6a9cc8" stroke="#2f5878" stroke-width="1.3" stroke-linejoin="round"/>
<line x1="126.6" y1="596" x2="142.98" y2="601.88" stroke="#b42e44" stroke-width="7.5" stroke-linecap="round"/>
<polygon points="137.29,603.02 140.04,604.01 138.69,607.78 151.4,604.9 143.42,594.6 142.06,598.36 139.31,597.38" fill="#d6465c" stroke="#a02438" stroke-width="1" stroke-linejoin="round"/>
<line x1="141.7" y1="585.9" x2="165.36" y2="594.16" stroke="#b42e44" stroke-width="7.5" stroke-linecap="round"/>
<polygon points="157.61,594.63 166.15,597.61 164.84,601.39 177.53,598.41 169.45,588.17 168.13,591.95 159.59,588.97" fill="#d6465c" stroke="#a02438" stroke-width="1" stroke-linejoin="round"/>
<line x1="162" y1="572.4" x2="186.78" y2="585.42" stroke="#b42e44" stroke-width="7.5" stroke-linecap="round"/>
<polygon points="178.3,584.36 188.39,589.66 186.53,593.2 199.52,592.12 193.04,580.8 191.18,584.34 181.1,579.04" fill="#d6465c" stroke="#a02438" stroke-width="1" stroke-linejoin="round"/>
<line x1="187.3" y1="557.2" x2="207.39" y2="577.29" stroke="#b42e44" stroke-width="7.5" stroke-linecap="round"/>
<polygon points="199.53,573.67 207.82,581.97 204.99,584.79 217.72,587.62 214.89,574.89 212.07,577.72 203.77,569.43" fill="#d6465c" stroke="#a02438" stroke-width="1" stroke-linejoin="round"/>
<line x1="212.6" y1="550.4" x2="225.62" y2="570.49" stroke="#b42e44" stroke-width="7.5" stroke-linecap="round"/>
<polygon points="219.38,566.38 223.82,573.22 220.46,575.4 232.32,580.82 232.21,567.78 228.85,569.96 224.42,563.12" fill="#d6465c" stroke="#a02438" stroke-width="1" stroke-linejoin="round"/>
<line x1="232.9" y1="547" x2="244.66" y2="558.9" stroke="#b42e44" stroke-width="7.5" stroke-linecap="round"/>
<polygon points="239.17,557.61 240.84,559.3 238,562.12 250.71,565.02 247.95,552.28 245.11,555.09 243.43,553.39" fill="#d6465c" stroke="#a02438" stroke-width="1" stroke-linejoin="round"/>
<line x1="248" y1="545.4" x2="264.59" y2="550.09" stroke="#b42e44" stroke-width="7.5" stroke-linecap="round"/>
<polygon points="259.03,551.64 261.72,552.4 260.63,556.25 273.12,552.5 264.44,542.77 263.35,546.62 260.67,545.86" fill="#d6465c" stroke="#a02438" stroke-width="1" stroke-linejoin="round"/>
<line x1="261.6" y1="535.2" x2="285.19" y2="543.46" stroke="#b42e44" stroke-width="7.5" stroke-linecap="round"/>
<polygon points="277.46,543.93 285.95,546.9 284.63,550.68 297.32,547.71 289.25,537.47 287.93,541.24 279.44,538.27" fill="#d6465c" stroke="#a02438" stroke-width="1" stroke-linejoin="round"/>
<line x1="280.1" y1="521.7" x2="304.95" y2="534.72" stroke="#b42e44" stroke-width="7.5" stroke-linecap="round"/>
<polygon points="296.46,533.66 306.59,538.97 304.74,542.51 317.73,541.42 311.24,530.11 309.38,533.65 299.24,528.34" fill="#d6465c" stroke="#a02438" stroke-width="1" stroke-linejoin="round"/>
<line x1="303.7" y1="510" x2="322.6" y2="528.9" stroke="#b42e44" stroke-width="7.5" stroke-linecap="round"/>
<polygon points="315.08,525.62 322.42,532.96 319.59,535.79 332.32,538.62 329.49,525.89 326.66,528.72 319.32,521.38" fill="#d6465c" stroke="#a02438" stroke-width="1" stroke-linejoin="round"/>
<line x1="327.4" y1="503.2" x2="339.16" y2="519.72" stroke="#b42e44" stroke-width="7.5" stroke-linecap="round"/>
<polygon points="333.36,516.74 336.38,520.99 333.13,523.31 345.21,528.22 344.53,515.2 341.27,517.51 338.24,513.26" fill="#d6465c" stroke="#a02438" stroke-width="1" stroke-linejoin="round"/>
<line x1="344.2" y1="499.8" x2="357.22" y2="509.25" stroke="#b42e44" stroke-width="7.5" stroke-linecap="round"/>
<polygon points="351.74,508.98 353.25,510.08 350.9,513.31 363.92,514.11 359.13,501.98 356.78,505.22 355.26,504.12" fill="#d6465c" stroke="#a02438" stroke-width="1" stroke-linejoin="round"/>
<line x1="359.4" y1="498.1" x2="377.11" y2="502.86" stroke="#b42e44" stroke-width="7.5" stroke-linecap="round"/>
<polygon points="371.27,504.4 374.82,505.35 373.78,509.21 386.22,505.31 377.41,495.69 376.37,499.56 372.83,498.6" fill="#d6465c" stroke="#a02438" stroke-width="1" stroke-linejoin="round"/>
<text font-family="Liberation Sans, sans-serif" font-size="25.93" font-weight="bold" font-style="italic" fill="#111" transform="translate(212.09 536) scale(1.066 1)"  stroke="#111" stroke-width="0.5">+k</text>
<text font-family="Liberation Sans, sans-serif" font-size="27.03" font-weight="bold" font-style="italic" fill="#111" transform="translate(294.16 608) scale(1.040 1)"  stroke="#111" stroke-width="0.5">-k</text>
<text x="0" y="0" font-family="Liberation Sans, sans-serif" font-size="29" font-weight="bold" fill="#e2364a" stroke="#c02a3a" stroke-width="2" transform="translate(193 651) rotate(-19) skewX(22) scale(1.42 1)">YIG</text>
<text x="0" y="0" font-family="Liberation Sans, sans-serif" font-size="31" font-weight="bold" fill="#3aa03e" stroke="#23782c" stroke-width="2.2" transform="translate(205 697) skewY(-26) scale(1.02 1)">GGG</text>
<polygon points="46.5,552 58.5,552 62,643 49,643" fill="url(#nArr)" />
<polygon points="49.7,521.5 64,550 60,554 43,554 38.5,550" fill="url(#nArr)" />
<text font-family="Liberation Sans, sans-serif" font-size="22.5" font-weight="bold" font-style="italic" fill="#111" transform="translate(41.77 513.4) scale(1.273 1)"  stroke="#111" stroke-width="0.5">n</text>
<text font-family="Liberation Sans, sans-serif" font-size="26.16" fill="#2a2a2a" transform="translate(7.28 669.51) scale(1.043 1)"  stroke="#2a2a2a" stroke-width="0.5">symmetry</text>
<text font-family="Liberation Sans, sans-serif" font-size="28.07" fill="#2a2a2a" transform="translate(6.94 702.85) scale(0.992 1)"  stroke="#2a2a2a" stroke-width="0.5">breaking</text>
<line x1="171.6" y1="482" x2="171.6" y2="518" stroke="#9a9a9a" stroke-width="4" />
<polygon points="94.7,498.4 120,467.5 176.3,449.7 177.2,482.5 121.9,510.6" fill="#ece6d4" stroke="#8a8a80" stroke-width="1.2" />
<polygon points="104,496 118,481 118,487 122,479 122,499 118,497 118,502" fill="#3a9a3a" />
<text x="127" y="494" font-family="Liberation Sans, sans-serif" font-size="19" font-weight="bold" font-style="italic" fill="#3a8a3a" stroke="#2f6f2f" stroke-width="0.8" transform="rotate(-20 126 495.5)" letter-spacing="0.3">FAST</text>
<line x1="368.3" y1="612" x2="368.3" y2="655" stroke="#9a9a9a" stroke-width="5" />
<polygon points="368.1,572.5 418.75,551 445,561.25 428.1,589.4 368.1,615.6" fill="#efe9dc" stroke="#8a8a80" stroke-width="1.2" />
<polygon points="429,561 441,566 430,577" fill="#3a9a3a" />
<text x="373" y="605" font-family="Liberation Sans, sans-serif" font-size="18" font-weight="bold" font-style="italic" fill="#3a8a3a" stroke="#2f6f2f" stroke-width="0.8" transform="rotate(-27 372 606)" letter-spacing="0.3">SLOW</text>
<line x1="446" y1="515.3" x2="370" y2="465.5" stroke="#111" stroke-width="2.6" />
<polygon points="362.5,461 377,463 371.5,472.5" fill="#111" />
<text font-family="Liberation Sans, sans-serif" font-size="27.25" font-weight="bold" font-style="italic" fill="#111" transform="translate(405.03 481.6) scale(1.053 1)"  stroke="#111" stroke-width="0.5">H</text>
<path d="M406.0,647.0 L412.0,645.0 L447.0,665.0 L464.0,666.0 L469.0,639.0 L475.0,636.0 L478.5,639.0 L480.0,668.0 L503.0,694.0 L489.0,719.0 L483.0,719.0 L460.0,711.0 L441.0,709.5 L441.0,690.5 L440.0,686.0 L419.0,700.0 L414.0,699.0 L414.5,695.0 L439.0,676.0 L407.0,652.0 Z" fill="url(#hand)" stroke="#dc9a86" stroke-width="1.2" stroke-linejoin="round"/>
<path d="M441,690 L471,690 L471,700 L441,700 M441,700 L465,700 L465,709 L441,709" fill="none" stroke="#d88a78" stroke-width="1.3" />
<text font-family="Liberation Sans, sans-serif" font-size="27.25" font-weight="bold" font-style="italic" fill="#111" transform="translate(381.63 652.2) scale(1.050 1)"  stroke="#111" stroke-width="0.5">H</text>
<text font-family="Liberation Sans, sans-serif" font-size="26.11" font-weight="bold" font-style="italic" fill="#111" transform="translate(467.97 631.6) scale(1.104 1)"  stroke="#111" stroke-width="0.5">n</text>
<text font-family="Liberation Sans, sans-serif" font-size="26.42" font-weight="bold" font-style="italic" fill="#111" transform="translate(379.74 726.5) scale(0.868 1)"  stroke="#111" stroke-width="0.5">v</text>
<text font-family="Liberation Sans, sans-serif" font-size="15.22" fill="#333" transform="translate(396.17 717) scale(1.089 1)"  stroke="#333" stroke-width="0.3">DMI</text>
<text font-family="Liberation Sans, sans-serif" font-size="16.11" fill="#333" transform="translate(391.74 736.62) scale(1.173 1)"  stroke="#333" stroke-width="0.5">g</text>
</g>
<g id="panel_d2">
<defs><filter id="hb1" x="-20%" y="-20%" width="140%" height="140%"><feGaussianBlur stdDeviation="4.5"/></filter><filter id="hb2" x="-20%" y="-20%" width="140%" height="140%"><feGaussianBlur stdDeviation="11"/></filter><filter id="hb3" x="-20%" y="-20%" width="140%" height="140%"><feGaussianBlur stdDeviation="2.6"/></filter><clipPath id="clipH"><rect x="579" y="403.8" width="334" height="336.99999999999994"/></clipPath></defs>
<defs><linearGradient id="h0" gradientUnits="userSpaceOnUse" x1="0" y1="403.8" x2="0" y2="740.8"><stop offset="0" stop-color="#b2225d"/><stop offset=".187" stop-color="#9f2765"/><stop offset=".418" stop-color="#b92359"/><stop offset=".846" stop-color="#ac245f"/><stop offset="1" stop-color="#b8215a"/></linearGradient>
<linearGradient id="h1" gradientUnits="userSpaceOnUse" x1="0" y1="403.8" x2="0" y2="740.8"><stop offset="0" stop-color="#b1235d"/><stop offset=".187" stop-color="#992968"/><stop offset=".418" stop-color="#ba2358"/><stop offset=".623" stop-color="#bc2657"/><stop offset=".846" stop-color="#a42663"/><stop offset="1" stop-color="#b7215a"/></linearGradient>
<linearGradient id="h2" gradientUnits="userSpaceOnUse" x1="0" y1="403.8" x2="0" y2="740.8"><stop offset="0" stop-color="#b0235e"/><stop offset=".187" stop-color="#942a6a"/><stop offset=".418" stop-color="#bb2458"/><stop offset=".614" stop-color="#c02a54"/><stop offset=".677" stop-color="#a72562"/><stop offset=".757" stop-color="#b0235d"/><stop offset=".846" stop-color="#9d2866"/><stop offset=".953" stop-color="#bb2557"/><stop offset="1" stop-color="#b7215a"/></linearGradient>
<linearGradient id="h3" gradientUnits="userSpaceOnUse" x1="0" y1="403.8" x2="0" y2="740.8"><stop offset="0" stop-color="#af235e"/><stop offset=".187" stop-color="#912a6b"/><stop offset=".401" stop-color="#ba2358"/><stop offset=".499" stop-color="#b8215a"/><stop offset=".561" stop-color="#c42f50"/><stop offset=".614" stop-color="#c42f51"/><stop offset=".641" stop-color="#b92259"/><stop offset=".668" stop-color="#9e2766"/><stop offset=".703" stop-color="#9b2867"/><stop offset=".748" stop-color="#b6225b"/><stop offset=".846" stop-color="#972969"/><stop offset=".917" stop-color="#a72562"/><stop offset=".953" stop-color="#c02b53"/><stop offset="1" stop-color="#b7215b"/></linearGradient>
<linearGradient id="h4" gradientUnits="userSpaceOnUse" x1="0" y1="403.8" x2="0" y2="740.8"><stop offset="0" stop-color="#af235e"/><stop offset=".196" stop-color="#912a6b"/><stop offset=".401" stop-color="#bb2558"/><stop offset=".499" stop-color="#b92259"/><stop offset=".605" stop-color="#c9354c"/><stop offset=".632" stop-color="#ba2359"/><stop offset=".659" stop-color="#952a6a"/><stop offset=".694" stop-color="#912b6b"/><stop offset=".739" stop-color="#bc2657"/><stop offset=".774" stop-color="#b7215a"/><stop offset=".837" stop-color="#952a6a"/><stop offset=".917" stop-color="#a72562"/><stop offset=".935" stop-color="#b7215b"/><stop offset=".953" stop-color="#c7324e"/><stop offset="1" stop-color="#b7215b"/></linearGradient>
<linearGradient id="h5" gradientUnits="userSpaceOnUse" x1="0" y1="403.8" x2="0" y2="740.8"><stop offset="0" stop-color="#b0235e"/><stop offset=".196" stop-color="#932a6b"/><stop offset=".409" stop-color="#bd2756"/><stop offset=".49" stop-color="#b92259"/><stop offset=".552" stop-color="#ce3a49"/><stop offset=".596" stop-color="#cd3a49"/><stop offset=".623" stop-color="#bb2558"/><stop offset=".65" stop-color="#8d2b6d"/><stop offset=".685" stop-color="#892d6f"/><stop offset=".712" stop-color="#b0235e"/><stop offset=".73" stop-color="#c42e51"/><stop offset=".766" stop-color="#c12b53"/><stop offset=".801" stop-color="#9a2868"/><stop offset=".828" stop-color="#922a6b"/><stop offset=".917" stop-color="#a92561"/><stop offset=".935" stop-color="#ba2458"/><stop offset=".953" stop-color="#cd3a49"/><stop offset="1" stop-color="#b7215a"/></linearGradient>
<linearGradient id="h6" gradientUnits="userSpaceOnUse" x1="0" y1="403.8" x2="0" y2="740.8"><stop offset="0" stop-color="#b1235d"/><stop offset=".205" stop-color="#982969"/><stop offset=".409" stop-color="#bf2954"/><stop offset=".49" stop-color="#ba2358"/><stop offset=".543" stop-color="#d13f46"/><stop offset=".588" stop-color="#d13e46"/><stop offset=".623" stop-color="#b1235d"/><stop offset=".641" stop-color="#892c6f"/><stop offset=".668" stop-color="#832e72"/><stop offset=".685" stop-color="#8a2c6f"/><stop offset=".703" stop-color="#b2225d"/><stop offset=".73" stop-color="#ce3a49"/><stop offset=".757" stop-color="#cc384a"/><stop offset=".774" stop-color="#b5225b"/><stop offset=".792" stop-color="#952a6a"/><stop offset=".819" stop-color="#8d2c6d"/><stop offset=".926" stop-color="#b3225c"/><stop offset=".953" stop-color="#d44244"/><stop offset="1" stop-color="#b7215a"/></linearGradient>
<linearGradient id="h7" gradientUnits="userSpaceOnUse" x1="0" y1="403.8" x2="0" y2="740.8"><stop offset="0" stop-color="#b2235d"/><stop offset=".205" stop-color="#9d2866"/><stop offset=".365" stop-color="#b7215a"/><stop offset=".409" stop-color="#c12b53"/><stop offset=".49" stop-color="#bb2557"/><stop offset=".534" stop-color="#d34144"/><stop offset=".579" stop-color="#d44144"/><stop offset=".614" stop-color="#b4225c"/><stop offset=".632" stop-color="#892d6f"/><stop offset=".659" stop-color="#812f73"/><stop offset=".677" stop-color="#872d70"/><stop offset=".694" stop-color="#b4225c"/><stop offset=".721" stop-color="#d74741"/><stop offset=".748" stop-color="#d74642"/><stop offset=".766" stop-color="#bc2557"/><stop offset=".783" stop-color="#8f2b6c"/><stop offset=".81" stop-color="#842e71"/><stop offset=".819" stop-color="#852e71"/><stop offset=".855" stop-color="#b5225b"/><stop offset=".926" stop-color="#b2225d"/><stop offset=".944" stop-color="#d54343"/><stop offset=".953" stop-color="#d84941"/><stop offset="1" stop-color="#b8215a"/></linearGradient>
<linearGradient id="h8" gradientUnits="userSpaceOnUse" x1="0" y1="403.8" x2="0" y2="740.8"><stop offset="0" stop-color="#b3225c"/><stop offset=".214" stop-color="#a32663"/><stop offset=".365" stop-color="#b9225a"/><stop offset=".409" stop-color="#c22d52"/><stop offset=".481" stop-color="#bc2657"/><stop offset=".534" stop-color="#d54343"/><stop offset=".579" stop-color="#d44243"/><stop offset=".605" stop-color="#b7215a"/><stop offset=".623" stop-color="#8b2c6e"/><stop offset=".659" stop-color="#802f73"/><stop offset=".668" stop-color="#852e71"/><stop offset=".685" stop-color="#b5225b"/><stop offset=".703" stop-color="#d84a40"/><stop offset=".712" stop-color="#de5b3b"/><stop offset=".739" stop-color="#de5a3c"/><stop offset=".757" stop-color="#c22d52"/><stop offset=".766" stop-color="#ab2460"/><stop offset=".783" stop-color="#793176"/><stop offset=".81" stop-color="#763278"/><stop offset=".837" stop-color="#b6225b"/><stop offset=".846" stop-color="#c12c53"/><stop offset=".872" stop-color="#c53050"/><stop offset=".89" stop-color="#b6215b"/><stop offset=".899" stop-color="#a52662"/><stop offset=".917" stop-color="#a02765"/><stop offset=".926" stop-color="#a62562"/><stop offset=".935" stop-color="#bf2954"/><stop offset=".944" stop-color="#d74741"/><stop offset=".961" stop-color="#da4e3f"/><stop offset=".979" stop-color="#c02a54"/><stop offset="1" stop-color="#b8215a"/></linearGradient>
<linearGradient id="h9" gradientUnits="userSpaceOnUse" x1="0" y1="403.8" x2="0" y2="740.8"><stop offset="0" stop-color="#b4225c"/><stop offset=".223" stop-color="#a92561"/><stop offset=".356" stop-color="#b8215a"/><stop offset=".409" stop-color="#c42f51"/><stop offset=".481" stop-color="#bd2756"/><stop offset=".525" stop-color="#d64342"/><stop offset=".57" stop-color="#d54343"/><stop offset=".596" stop-color="#ba2359"/><stop offset=".623" stop-color="#812f73"/><stop offset=".65" stop-color="#7f2f74"/><stop offset=".659" stop-color="#822e72"/><stop offset=".677" stop-color="#b5225b"/><stop offset=".694" stop-color="#db533e"/><stop offset=".703" stop-color="#e56d36"/><stop offset=".73" stop-color="#e56e36"/><stop offset=".757" stop-color="#b2225d"/><stop offset=".774" stop-color="#69367e"/><stop offset=".801" stop-color="#66377f"/><stop offset=".81" stop-color="#743379"/><stop offset=".828" stop-color="#b5225b"/><stop offset=".846" stop-color="#d34144"/><stop offset=".872" stop-color="#d34144"/><stop offset=".89" stop-color="#af235e"/><stop offset=".899" stop-color="#912b6c"/><stop offset=".908" stop-color="#8b2c6e"/><stop offset=".926" stop-color="#982968"/><stop offset=".935" stop-color="#bd2756"/><stop offset=".944" stop-color="#d84940"/><stop offset=".961" stop-color="#da503f"/><stop offset=".979" stop-color="#c02a54"/><stop offset="1" stop-color="#b8215a"/></linearGradient>
<linearGradient id="h10" gradientUnits="userSpaceOnUse" x1="0" y1="403.8" x2="0" y2="740.8"><stop offset="0" stop-color="#b6225b"/><stop offset=".196" stop-color="#ad245f"/><stop offset=".347" stop-color="#b7215a"/><stop offset=".418" stop-color="#c6314f"/><stop offset=".472" stop-color="#bf2955"/><stop offset=".516" stop-color="#d64442"/><stop offset=".561" stop-color="#d54342"/><stop offset=".588" stop-color="#bd2656"/><stop offset=".614" stop-color="#812f73"/><stop offset=".641" stop-color="#7e3074"/><stop offset=".65" stop-color="#7f2f73"/><stop offset=".668" stop-color="#b3225c"/><stop offset=".677" stop-color="#c8344d"/><stop offset=".694" stop-color="#eb7f31"/><stop offset=".721" stop-color="#ec8031"/><stop offset=".73" stop-color="#e56e36"/><stop offset=".739" stop-color="#d34045"/><stop offset=".748" stop-color="#bb2458"/><stop offset=".766" stop-color="#66377f"/><stop offset=".774" stop-color="#573c86"/><stop offset=".792" stop-color="#563c87"/><stop offset=".801" stop-color="#573b86"/><stop offset=".819" stop-color="#aa2460"/><stop offset=".828" stop-color="#c6314f"/><stop offset=".837" stop-color="#db513e"/><stop offset=".864" stop-color="#df5d3b"/><stop offset=".872" stop-color="#d74741"/><stop offset=".881" stop-color="#c12c53"/><stop offset=".899" stop-color="#763278"/><stop offset=".908" stop-color="#743379"/><stop offset=".917" stop-color="#753378"/><stop offset=".926" stop-color="#8d2c6e"/><stop offset=".935" stop-color="#bd2756"/><stop offset=".944" stop-color="#d94c40"/><stop offset=".961" stop-color="#db513e"/><stop offset=".979" stop-color="#c02a54"/><stop offset="1" stop-color="#b8215a"/></linearGradient>
<linearGradient id="h11" gradientUnits="userSpaceOnUse" x1="0" y1="403.8" x2="0" y2="740.8"><stop offset="0" stop-color="#b7215a"/><stop offset=".347" stop-color="#b8215a"/><stop offset=".418" stop-color="#c7324e"/><stop offset=".472" stop-color="#c02b53"/><stop offset=".516" stop-color="#d64542"/><stop offset=".552" stop-color="#d64442"/><stop offset=".579" stop-color="#c02b53"/><stop offset=".605" stop-color="#822f72"/><stop offset=".632" stop-color="#7d3074"/><stop offset=".641" stop-color="#7e3074"/><stop offset=".659" stop-color="#ae235e"/><stop offset=".668" stop-color="#c7324e"/><stop offset=".685" stop-color="#f08e2d"/><stop offset=".703" stop-color="#f1902e"/><stop offset=".721" stop-color="#ee872e"/><stop offset=".73" stop-color="#db513e"/><stop offset=".739" stop-color="#c22d52"/><stop offset=".748" stop-color="#9e2766"/><stop offset=".757" stop-color="#6e357c"/><stop offset=".766" stop-color="#4c3a82"/><stop offset=".792" stop-color="#4b3a81"/><stop offset=".801" stop-color="#68367e"/><stop offset=".819" stop-color="#bf2954"/><stop offset=".837" stop-color="#e97833"/><stop offset=".864" stop-color="#e97833"/><stop offset=".872" stop-color="#d64342"/><stop offset=".881" stop-color="#bb2458"/><stop offset=".899" stop-color="#603982"/><stop offset=".917" stop-color="#603982"/><stop offset=".935" stop-color="#be2855"/><stop offset=".944" stop-color="#da4e3f"/><stop offset=".961" stop-color="#db533e"/><stop offset=".979" stop-color="#bf2a54"/><stop offset="1" stop-color="#b8215a"/></linearGradient>
<linearGradient id="h12" gradientUnits="userSpaceOnUse" x1="0" y1="403.8" x2="0" y2="740.8"><stop offset="0" stop-color="#b92259"/><stop offset=".338" stop-color="#b8215a"/><stop offset=".418" stop-color="#c8334d"/><stop offset=".472" stop-color="#c22d52"/><stop offset=".507" stop-color="#d74741"/><stop offset=".543" stop-color="#d64542"/><stop offset=".561" stop-color="#d13e46"/><stop offset=".579" stop-color="#b8215a"/><stop offset=".596" stop-color="#832e72"/><stop offset=".632" stop-color="#7d3075"/><stop offset=".65" stop-color="#a72561"/><stop offset=".659" stop-color="#c22d52"/><stop offset=".668" stop-color="#da503f"/><stop offset=".677" stop-color="#ef8a2d"/><stop offset=".685" stop-color="#f29d30"/><stop offset=".703" stop-color="#f29e31"/><stop offset=".712" stop-color="#f29d30"/><stop offset=".73" stop-color="#cc384a"/><stop offset=".739" stop-color="#ae235f"/><stop offset=".757" stop-color="#4c3a82"/><stop offset=".766" stop-color="#45387e"/><stop offset=".792" stop-color="#4e3a83"/><stop offset=".81" stop-color="#b1235d"/><stop offset=".819" stop-color="#d13f46"/><stop offset=".828" stop-color="#ea7c32"/><stop offset=".837" stop-color="#f1912e"/><stop offset=".855" stop-color="#f1922e"/><stop offset=".864" stop-color="#e77334"/><stop offset=".872" stop-color="#cf3c47"/><stop offset=".881" stop-color="#af235e"/><stop offset=".89" stop-color="#763278"/><stop offset=".899" stop-color="#543c87"/><stop offset=".917" stop-color="#553c87"/><stop offset=".935" stop-color="#c02b53"/><stop offset=".944" stop-color="#da503e"/><stop offset=".961" stop-color="#dc543d"/><stop offset=".979" stop-color="#bf2954"/><stop offset="1" stop-color="#b8215a"/></linearGradient>
<linearGradient id="h13" gradientUnits="userSpaceOnUse" x1="0" y1="403.8" x2="0" y2="740.8"><stop offset="0" stop-color="#bb2557"/><stop offset=".338" stop-color="#b8215a"/><stop offset=".409" stop-color="#c8334e"/><stop offset=".472" stop-color="#c42f50"/><stop offset=".507" stop-color="#d74841"/><stop offset=".543" stop-color="#d74542"/><stop offset=".57" stop-color="#be2855"/><stop offset=".596" stop-color="#802f73"/><stop offset=".623" stop-color="#7c3075"/><stop offset=".632" stop-color="#822f72"/><stop offset=".65" stop-color="#bc2557"/><stop offset=".659" stop-color="#d44243"/><stop offset=".677" stop-color="#f3a532"/><stop offset=".694" stop-color="#f4a732"/><stop offset=".703" stop-color="#f4a632"/><stop offset=".712" stop-color="#ec8130"/><stop offset=".721" stop-color="#d74641"/><stop offset=".73" stop-color="#bd2756"/><stop offset=".748" stop-color="#613881"/><stop offset=".757" stop-color="#43387d"/><stop offset=".783" stop-color="#43387d"/><stop offset=".792" stop-color="#653780"/><stop offset=".801" stop-color="#992968"/><stop offset=".81" stop-color="#c32e51"/><stop offset=".828" stop-color="#f3a432"/><stop offset=".855" stop-color="#f3a632"/><stop offset=".864" stop-color="#e26538"/><stop offset=".872" stop-color="#c8344d"/><stop offset=".881" stop-color="#a32663"/><stop offset=".89" stop-color="#67377f"/><stop offset=".899" stop-color="#523b85"/><stop offset=".917" stop-color="#543c86"/><stop offset=".926" stop-color="#932a6b"/><stop offset=".935" stop-color="#c32e51"/><stop offset=".944" stop-color="#db533e"/><stop offset=".961" stop-color="#dc553d"/><stop offset=".979" stop-color="#bf2954"/><stop offset="1" stop-color="#b8215a"/></linearGradient>
<linearGradient id="h14" gradientUnits="userSpaceOnUse" x1="0" y1="403.8" x2="0" y2="740.8"><stop offset="0" stop-color="#be2855"/><stop offset=".338" stop-color="#b8215a"/><stop offset=".409" stop-color="#c8334d"/><stop offset=".463" stop-color="#c42f50"/><stop offset=".499" stop-color="#d74741"/><stop offset=".543" stop-color="#d74542"/><stop offset=".57" stop-color="#b8215a"/><stop offset=".588" stop-color="#822e72"/><stop offset=".614" stop-color="#7b3176"/><stop offset=".623" stop-color="#7c3075"/><stop offset=".641" stop-color="#ad245f"/><stop offset=".65" stop-color="#c8344d"/><stop offset=".659" stop-color="#e0613a"/><stop offset=".668" stop-color="#f3a432"/><stop offset=".703" stop-color="#f3a332"/><stop offset=".712" stop-color="#e16239"/><stop offset=".721" stop-color="#ca364c"/><stop offset=".73" stop-color="#ac245f"/><stop offset=".748" stop-color="#4b3981"/><stop offset=".774" stop-color="#41377b"/><stop offset=".783" stop-color="#47387f"/><stop offset=".801" stop-color="#ac2460"/><stop offset=".81" stop-color="#cf3c47"/><stop offset=".819" stop-color="#eb7e31"/><stop offset=".828" stop-color="#f4ad34"/><stop offset=".846" stop-color="#f5ae34"/><stop offset=".855" stop-color="#f29c30"/><stop offset=".864" stop-color="#db533e"/><stop offset=".872" stop-color="#c12c53"/><stop offset=".881" stop-color="#982968"/><stop offset=".89" stop-color="#5b3a84"/><stop offset=".899" stop-color="#4f3b84"/><stop offset=".917" stop-color="#593b85"/><stop offset=".926" stop-color="#992968"/><stop offset=".935" stop-color="#c5304f"/><stop offset=".944" stop-color="#dc543d"/><stop offset=".961" stop-color="#dd573d"/><stop offset=".979" stop-color="#bf2954"/><stop offset="1" stop-color="#b8215a"/></linearGradient>
<linearGradient id="h15" gradientUnits="userSpaceOnUse" x1="0" y1="403.8" x2="0" y2="740.8"><stop offset="0" stop-color="#c02b53"/><stop offset=".036" stop-color="#c6324f"/><stop offset=".134" stop-color="#b2225d"/><stop offset=".338" stop-color="#b8215a"/><stop offset=".409" stop-color="#c8334e"/><stop offset=".463" stop-color="#c53050"/><stop offset=".499" stop-color="#d84a40"/><stop offset=".543" stop-color="#d74542"/><stop offset=".57" stop-color="#b1235d"/><stop offset=".588" stop-color="#812f73"/><stop offset=".614" stop-color="#7a3176"/><stop offset=".623" stop-color="#7c3075"/><stop offset=".641" stop-color="#b8225a"/><stop offset=".65" stop-color="#d23f46"/><stop offset=".659" stop-color="#e97833"/><stop offset=".668" stop-color="#f4ab33"/><stop offset=".694" stop-color="#f4ad34"/><stop offset=".703" stop-color="#f08e2d"/><stop offset=".712" stop-color="#db513e"/><stop offset=".721" stop-color="#c22d52"/><stop offset=".73" stop-color="#9f2765"/><stop offset=".739" stop-color="#6f347b"/><stop offset=".748" stop-color="#3f377a"/><stop offset=".774" stop-color="#3f367a"/><stop offset=".783" stop-color="#503b84"/><stop offset=".801" stop-color="#b8215a"/><stop offset=".81" stop-color="#d74741"/><stop offset=".819" stop-color="#f1942f"/><stop offset=".828" stop-color="#f5b235"/><stop offset=".846" stop-color="#f5b335"/><stop offset=".855" stop-color="#f08d2d"/><stop offset=".864" stop-color="#d74841"/><stop offset=".872" stop-color="#bd2756"/><stop offset=".881" stop-color="#912b6b"/><stop offset=".89" stop-color="#533b86"/><stop offset=".899" stop-color="#4d3a82"/><stop offset=".917" stop-color="#5d3a84"/><stop offset=".926" stop-color="#9c2867"/><stop offset=".935" stop-color="#c6324e"/><stop offset=".944" stop-color="#dc563d"/><stop offset=".961" stop-color="#dd583c"/><stop offset=".979" stop-color="#bf2955"/><stop offset="1" stop-color="#b8215a"/></linearGradient>
<linearGradient id="h16" gradientUnits="userSpaceOnUse" x1="0" y1="403.8" x2="0" y2="740.8"><stop offset="0" stop-color="#c02a54"/><stop offset=".036" stop-color="#c6314f"/><stop offset=".134" stop-color="#b0235e"/><stop offset=".338" stop-color="#b8215a"/><stop offset=".409" stop-color="#c7334e"/><stop offset=".463" stop-color="#c53050"/><stop offset=".499" stop-color="#d84b40"/><stop offset=".543" stop-color="#d74642"/><stop offset=".57" stop-color="#af235e"/><stop offset=".588" stop-color="#802f73"/><stop offset=".614" stop-color="#7a3176"/><stop offset=".623" stop-color="#7c3075"/><stop offset=".641" stop-color="#ba2359"/><stop offset=".65" stop-color="#d34144"/><stop offset=".659" stop-color="#ea7d32"/><stop offset=".668" stop-color="#f4ad34"/><stop offset=".694" stop-color="#f5af34"/><stop offset=".703" stop-color="#ef8a2d"/><stop offset=".712" stop-color="#da4e3f"/><stop offset=".721" stop-color="#c12c53"/><stop offset=".739" stop-color="#6c357d"/><stop offset=".748" stop-color="#3e367a"/><stop offset=".774" stop-color="#3e3679"/><stop offset=".783" stop-color="#513b85"/><stop offset=".801" stop-color="#b92259"/><stop offset=".81" stop-color="#d84b40"/><stop offset=".819" stop-color="#f29930"/><stop offset=".828" stop-color="#f5b435"/><stop offset=".846" stop-color="#f5b535"/><stop offset=".855" stop-color="#f08b2d"/><stop offset=".864" stop-color="#d74741"/><stop offset=".872" stop-color="#bc2656"/><stop offset=".89" stop-color="#513b85"/><stop offset=".899" stop-color="#4c3a82"/><stop offset=".917" stop-color="#5d3a83"/><stop offset=".926" stop-color="#9c2866"/><stop offset=".935" stop-color="#c7324e"/><stop offset=".944" stop-color="#dd563d"/><stop offset=".961" stop-color="#dd583c"/><stop offset=".979" stop-color="#bf2954"/><stop offset="1" stop-color="#b8215a"/></linearGradient>
<linearGradient id="h17" gradientUnits="userSpaceOnUse" x1="0" y1="403.8" x2="0" y2="740.8"><stop offset="0" stop-color="#bd2756"/><stop offset=".134" stop-color="#ac245f"/><stop offset=".347" stop-color="#b8225a"/><stop offset=".418" stop-color="#c8334d"/><stop offset=".463" stop-color="#c42f51"/><stop offset=".499" stop-color="#d84940"/><stop offset=".543" stop-color="#d64542"/><stop offset=".57" stop-color="#b5225c"/><stop offset=".588" stop-color="#822f73"/><stop offset=".614" stop-color="#7b3176"/><stop offset=".623" stop-color="#7c3075"/><stop offset=".641" stop-color="#b3225c"/><stop offset=".65" stop-color="#cd394a"/><stop offset=".668" stop-color="#f4a933"/><stop offset=".694" stop-color="#f4ac33"/><stop offset=".703" stop-color="#f29930"/><stop offset=".712" stop-color="#de5a3c"/><stop offset=".721" stop-color="#c6314f"/><stop offset=".73" stop-color="#a62562"/><stop offset=".748" stop-color="#45387d"/><stop offset=".774" stop-color="#40377b"/><stop offset=".783" stop-color="#4b3a81"/><stop offset=".801" stop-color="#b1235d"/><stop offset=".81" stop-color="#d34144"/><stop offset=".819" stop-color="#ee882e"/><stop offset=".828" stop-color="#f5af34"/><stop offset=".846" stop-color="#f5b034"/><stop offset=".855" stop-color="#f1942f"/><stop offset=".864" stop-color="#d94e3f"/><stop offset=".872" stop-color="#bf2954"/><stop offset=".881" stop-color="#952a6a"/><stop offset=".89" stop-color="#573b86"/><stop offset=".899" stop-color="#4e3a83"/><stop offset=".917" stop-color="#5b3a84"/><stop offset=".926" stop-color="#9a2867"/><stop offset=".935" stop-color="#c6314f"/><stop offset=".944" stop-color="#dc553d"/><stop offset=".961" stop-color="#dd573c"/><stop offset=".979" stop-color="#bf2955"/><stop offset="1" stop-color="#b8215a"/></linearGradient>
<linearGradient id="h18" gradientUnits="userSpaceOnUse" x1="0" y1="403.8" x2="0" y2="740.8"><stop offset="0" stop-color="#b8215a"/><stop offset=".178" stop-color="#a92561"/><stop offset=".347" stop-color="#b8215a"/><stop offset=".418" stop-color="#c7334e"/><stop offset=".463" stop-color="#c32d52"/><stop offset=".507" stop-color="#d74841"/><stop offset=".534" stop-color="#d74741"/><stop offset=".561" stop-color="#c9354c"/><stop offset=".57" stop-color="#bc2557"/><stop offset=".588" stop-color="#872d70"/><stop offset=".596" stop-color="#7f2f74"/><stop offset=".623" stop-color="#7c3075"/><stop offset=".641" stop-color="#a42663"/><stop offset=".65" stop-color="#c12b53"/><stop offset=".659" stop-color="#da4e3f"/><stop offset=".668" stop-color="#f08c2d"/><stop offset=".677" stop-color="#f4a732"/><stop offset=".703" stop-color="#f4a833"/><stop offset=".721" stop-color="#d13e46"/><stop offset=".73" stop-color="#b8215a"/><stop offset=".748" stop-color="#563c86"/><stop offset=".757" stop-color="#42377c"/><stop offset=".783" stop-color="#42377c"/><stop offset=".792" stop-color="#6e357c"/><stop offset=".801" stop-color="#a12764"/><stop offset=".81" stop-color="#c8344d"/><stop offset=".819" stop-color="#e56e36"/><stop offset=".828" stop-color="#f4a933"/><stop offset=".846" stop-color="#f4ab33"/><stop offset=".855" stop-color="#f4a933"/><stop offset=".864" stop-color="#df5e3b"/><stop offset=".872" stop-color="#c53050"/><stop offset=".881" stop-color="#9e2766"/><stop offset=".89" stop-color="#623881"/><stop offset=".899" stop-color="#513b85"/><stop offset=".917" stop-color="#563c87"/><stop offset=".926" stop-color="#962969"/><stop offset=".935" stop-color="#c42f50"/><stop offset=".944" stop-color="#dc533e"/><stop offset=".961" stop-color="#dc563d"/><stop offset=".979" stop-color="#bf2954"/><stop offset="1" stop-color="#b8215a"/></linearGradient>
<linearGradient id="h19" gradientUnits="userSpaceOnUse" x1="0" y1="403.8" x2="0" y2="740.8"><stop offset="0" stop-color="#b0235d"/><stop offset=".169" stop-color="#a42663"/><stop offset=".356" stop-color="#b9225a"/><stop offset=".418" stop-color="#c7334e"/><stop offset=".472" stop-color="#c22d52"/><stop offset=".507" stop-color="#d74741"/><stop offset=".552" stop-color="#d64442"/><stop offset=".579" stop-color="#b1235d"/><stop offset=".596" stop-color="#822f72"/><stop offset=".623" stop-color="#7c3075"/><stop offset=".632" stop-color="#7d3075"/><stop offset=".65" stop-color="#b1235d"/><stop offset=".659" stop-color="#c9354c"/><stop offset=".677" stop-color="#f3a031"/><stop offset=".694" stop-color="#f3a231"/><stop offset=".712" stop-color="#f1962f"/><stop offset=".721" stop-color="#de593c"/><stop offset=".73" stop-color="#c6314f"/><stop offset=".739" stop-color="#a32663"/><stop offset=".757" stop-color="#45387e"/><stop offset=".783" stop-color="#44387d"/><stop offset=".792" stop-color="#563c86"/><stop offset=".81" stop-color="#ba2458"/><stop offset=".819" stop-color="#d84a40"/><stop offset=".828" stop-color="#f1902e"/><stop offset=".855" stop-color="#f29b30"/><stop offset=".864" stop-color="#e56e36"/><stop offset=".872" stop-color="#cc394a"/><stop offset=".881" stop-color="#aa2460"/><stop offset=".89" stop-color="#70347b"/><stop offset=".899" stop-color="#533c86"/><stop offset=".917" stop-color="#543c86"/><stop offset=".935" stop-color="#c22c52"/><stop offset=".944" stop-color="#db513e"/><stop offset=".961" stop-color="#dc553d"/><stop offset=".979" stop-color="#bf2954"/><stop offset="1" stop-color="#b8215a"/></linearGradient>
<linearGradient id="h20" gradientUnits="userSpaceOnUse" x1="0" y1="403.8" x2="0" y2="740.8"><stop offset="0" stop-color="#a92561"/><stop offset=".16" stop-color="#9d2866"/><stop offset=".356" stop-color="#b8215a"/><stop offset=".418" stop-color="#c8334e"/><stop offset=".472" stop-color="#c02b53"/><stop offset=".507" stop-color="#d54343"/><stop offset=".552" stop-color="#d64442"/><stop offset=".579" stop-color="#bd2756"/><stop offset=".605" stop-color="#812f73"/><stop offset=".632" stop-color="#7d3075"/><stop offset=".641" stop-color="#812f73"/><stop offset=".659" stop-color="#b92259"/><stop offset=".668" stop-color="#cf3c48"/><stop offset=".685" stop-color="#f1952f"/><stop offset=".703" stop-color="#f1962f"/><stop offset=".712" stop-color="#f1962f"/><stop offset=".721" stop-color="#ea7b32"/><stop offset=".73" stop-color="#d64442"/><stop offset=".739" stop-color="#bc2657"/><stop offset=".757" stop-color="#5f3983"/><stop offset=".766" stop-color="#483980"/><stop offset=".792" stop-color="#483980"/><stop offset=".81" stop-color="#a22664"/><stop offset=".819" stop-color="#c6324f"/><stop offset=".837" stop-color="#ed8330"/><stop offset=".864" stop-color="#e97833"/><stop offset=".872" stop-color="#d44144"/><stop offset=".881" stop-color="#b8215a"/><stop offset=".899" stop-color="#5a3a85"/><stop offset=".917" stop-color="#5a3a85"/><stop offset=".935" stop-color="#bf2955"/><stop offset=".944" stop-color="#da4f3f"/><stop offset=".961" stop-color="#dc533e"/><stop offset=".979" stop-color="#bf2a54"/><stop offset="1" stop-color="#b8215a"/></linearGradient>
<linearGradient id="h21" gradientUnits="userSpaceOnUse" x1="0" y1="403.8" x2="0" y2="740.8"><stop offset="0" stop-color="#a42663"/><stop offset=".16" stop-color="#952a6a"/><stop offset=".365" stop-color="#b8225a"/><stop offset=".418" stop-color="#c8344d"/><stop offset=".472" stop-color="#be2955"/><stop offset=".516" stop-color="#d64442"/><stop offset=".552" stop-color="#d64442"/><stop offset=".57" stop-color="#d03d47"/><stop offset=".588" stop-color="#b92259"/><stop offset=".605" stop-color="#882d6f"/><stop offset=".641" stop-color="#7e3074"/><stop offset=".65" stop-color="#862d70"/><stop offset=".668" stop-color="#bc2557"/><stop offset=".694" stop-color="#ee862f"/><stop offset=".712" stop-color="#ee872f"/><stop offset=".721" stop-color="#ee862f"/><stop offset=".739" stop-color="#cc394a"/><stop offset=".748" stop-color="#b1235d"/><stop offset=".766" stop-color="#553c87"/><stop offset=".774" stop-color="#523b85"/><stop offset=".801" stop-color="#5e3983"/><stop offset=".819" stop-color="#b5225b"/><stop offset=".837" stop-color="#e26638"/><stop offset=".864" stop-color="#e46a37"/><stop offset=".872" stop-color="#d74841"/><stop offset=".881" stop-color="#c02a54"/><stop offset=".899" stop-color="#6d357c"/><stop offset=".917" stop-color="#6c357c"/><stop offset=".926" stop-color="#8a2c6f"/><stop offset=".935" stop-color="#bd2756"/><stop offset=".944" stop-color="#d94d3f"/><stop offset=".961" stop-color="#db523e"/><stop offset=".979" stop-color="#c02a54"/><stop offset="1" stop-color="#b8215a"/></linearGradient>
<linearGradient id="h22" gradientUnits="userSpaceOnUse" x1="0" y1="403.8" x2="0" y2="740.8"><stop offset="0" stop-color="#9e2766"/><stop offset=".151" stop-color="#8c2c6e"/><stop offset=".365" stop-color="#b7215a"/><stop offset=".418" stop-color="#c8344d"/><stop offset=".481" stop-color="#be2756"/><stop offset=".525" stop-color="#d64442"/><stop offset=".561" stop-color="#d54342"/><stop offset=".588" stop-color="#c22c52"/><stop offset=".596" stop-color="#b4225c"/><stop offset=".614" stop-color="#852e71"/><stop offset=".65" stop-color="#7f2f74"/><stop offset=".659" stop-color="#8a2c6f"/><stop offset=".677" stop-color="#bd2756"/><stop offset=".694" stop-color="#e36738"/><stop offset=".721" stop-color="#e87633"/><stop offset=".73" stop-color="#e87534"/><stop offset=".748" stop-color="#c43050"/><stop offset=".757" stop-color="#a72561"/><stop offset=".774" stop-color="#633881"/><stop offset=".801" stop-color="#613881"/><stop offset=".828" stop-color="#bd2756"/><stop offset=".846" stop-color="#d94e3f"/><stop offset=".872" stop-color="#d74641"/><stop offset=".89" stop-color="#ac245f"/><stop offset=".899" stop-color="#872d70"/><stop offset=".908" stop-color="#842e71"/><stop offset=".926" stop-color="#942a6a"/><stop offset=".935" stop-color="#be2856"/><stop offset=".944" stop-color="#d94b40"/><stop offset=".961" stop-color="#db513e"/><stop offset=".979" stop-color="#c02a54"/><stop offset="1" stop-color="#b8215a"/></linearGradient>
<linearGradient id="h23" gradientUnits="userSpaceOnUse" x1="0" y1="403.8" x2="0" y2="740.8"><stop offset="0" stop-color="#992968"/><stop offset=".151" stop-color="#842e72"/><stop offset=".374" stop-color="#b8215a"/><stop offset=".418" stop-color="#c9354d"/><stop offset=".481" stop-color="#bc2657"/><stop offset=".525" stop-color="#d44243"/><stop offset=".57" stop-color="#d54343"/><stop offset=".596" stop-color="#bf2954"/><stop offset=".623" stop-color="#832e72"/><stop offset=".659" stop-color="#802f73"/><stop offset=".685" stop-color="#bd2756"/><stop offset=".703" stop-color="#df5d3b"/><stop offset=".721" stop-color="#e16439"/><stop offset=".739" stop-color="#e16239"/><stop offset=".757" stop-color="#be2955"/><stop offset=".774" stop-color="#812f73"/><stop offset=".783" stop-color="#753278"/><stop offset=".81" stop-color="#753278"/><stop offset=".828" stop-color="#ae235f"/><stop offset=".846" stop-color="#cd394a"/><stop offset=".872" stop-color="#ce3b48"/><stop offset=".89" stop-color="#b92259"/><stop offset=".899" stop-color="#a32663"/><stop offset=".917" stop-color="#9c2867"/><stop offset=".926" stop-color="#a32663"/><stop offset=".935" stop-color="#c02a54"/><stop offset=".944" stop-color="#d84940"/><stop offset=".961" stop-color="#da503f"/><stop offset=".979" stop-color="#c02b53"/><stop offset="1" stop-color="#b8215a"/></linearGradient>
<linearGradient id="h24" gradientUnits="userSpaceOnUse" x1="0" y1="403.8" x2="0" y2="740.8"><stop offset="0" stop-color="#952a6a"/><stop offset=".142" stop-color="#7a3176"/><stop offset=".374" stop-color="#b7215a"/><stop offset=".418" stop-color="#c8344d"/><stop offset=".481" stop-color="#bb2458"/><stop offset=".534" stop-color="#d54243"/><stop offset=".579" stop-color="#d44243"/><stop offset=".605" stop-color="#bd2656"/><stop offset=".632" stop-color="#832e72"/><stop offset=".668" stop-color="#812f73"/><stop offset=".694" stop-color="#bc2657"/><stop offset=".712" stop-color="#da4f3f"/><stop offset=".73" stop-color="#db513e"/><stop offset=".748" stop-color="#d94b40"/><stop offset=".766" stop-color="#ba2458"/><stop offset=".783" stop-color="#8b2c6e"/><stop offset=".792" stop-color="#892d6f"/><stop offset=".819" stop-color="#902b6c"/><stop offset=".837" stop-color="#b5225b"/><stop offset=".855" stop-color="#c22d52"/><stop offset=".926" stop-color="#b3225c"/><stop offset=".944" stop-color="#d74841"/><stop offset=".953" stop-color="#da4e3f"/><stop offset=".961" stop-color="#da4e3f"/><stop offset=".979" stop-color="#c12b53"/><stop offset="1" stop-color="#b8215a"/></linearGradient>
<linearGradient id="h25" gradientUnits="userSpaceOnUse" x1="0" y1="403.8" x2="0" y2="740.8"><stop offset="0" stop-color="#902b6c"/><stop offset=".08" stop-color="#773278"/><stop offset=".142" stop-color="#733379"/><stop offset=".374" stop-color="#b5225b"/><stop offset=".418" stop-color="#c7334e"/><stop offset=".49" stop-color="#ba2358"/><stop offset=".543" stop-color="#d34045"/><stop offset=".588" stop-color="#d24045"/><stop offset=".614" stop-color="#ba2458"/><stop offset=".641" stop-color="#842e72"/><stop offset=".659" stop-color="#822f72"/><stop offset=".677" stop-color="#822f72"/><stop offset=".703" stop-color="#ba2458"/><stop offset=".721" stop-color="#d24045"/><stop offset=".757" stop-color="#cf3c47"/><stop offset=".774" stop-color="#b8225a"/><stop offset=".801" stop-color="#9b2867"/><stop offset=".819" stop-color="#9b2867"/><stop offset=".855" stop-color="#ba2458"/><stop offset=".917" stop-color="#b8215a"/><stop offset=".953" stop-color="#d84941"/><stop offset="1" stop-color="#b8215a"/></linearGradient>
<linearGradient id="h26" gradientUnits="userSpaceOnUse" x1="0" y1="403.8" x2="0" y2="740.8"><stop offset="0" stop-color="#8d2c6d"/><stop offset=".08" stop-color="#71347a"/><stop offset=".142" stop-color="#6d357c"/><stop offset=".383" stop-color="#b7215b"/><stop offset=".418" stop-color="#c5304f"/><stop offset=".49" stop-color="#b92259"/><stop offset=".552" stop-color="#cf3c48"/><stop offset=".596" stop-color="#ce3b48"/><stop offset=".623" stop-color="#b9225a"/><stop offset=".65" stop-color="#872d70"/><stop offset=".659" stop-color="#862d70"/><stop offset=".685" stop-color="#862d70"/><stop offset=".712" stop-color="#b92259"/><stop offset=".73" stop-color="#ca354c"/><stop offset=".757" stop-color="#ca364b"/><stop offset=".783" stop-color="#b8215a"/><stop offset=".828" stop-color="#a92561"/><stop offset=".917" stop-color="#b8215a"/><stop offset=".961" stop-color="#d34144"/><stop offset="1" stop-color="#b8215a"/></linearGradient>
<linearGradient id="h27" gradientUnits="userSpaceOnUse" x1="0" y1="403.8" x2="0" y2="740.8"><stop offset="0" stop-color="#8b2c6e"/><stop offset=".134" stop-color="#67377f"/><stop offset=".392" stop-color="#b8215a"/><stop offset=".427" stop-color="#c42f51"/><stop offset=".49" stop-color="#b8215a"/><stop offset=".552" stop-color="#ca374b"/><stop offset=".605" stop-color="#c9344d"/><stop offset=".632" stop-color="#b6215b"/><stop offset=".659" stop-color="#8e2b6d"/><stop offset=".677" stop-color="#8d2c6d"/><stop offset=".694" stop-color="#8d2b6d"/><stop offset=".721" stop-color="#b6225b"/><stop offset=".739" stop-color="#c22c52"/><stop offset=".81" stop-color="#b3225c"/><stop offset=".917" stop-color="#b8215a"/><stop offset=".961" stop-color="#cd3a49"/><stop offset="1" stop-color="#b8215a"/></linearGradient>
<linearGradient id="h28" gradientUnits="userSpaceOnUse" x1="0" y1="403.8" x2="0" y2="740.8"><stop offset="0" stop-color="#8a2c6f"/><stop offset=".134" stop-color="#653780"/><stop offset=".392" stop-color="#b5225c"/><stop offset=".427" stop-color="#c02a54"/><stop offset=".507" stop-color="#b7215a"/><stop offset=".605" stop-color="#c43050"/><stop offset=".641" stop-color="#b3225c"/><stop offset=".668" stop-color="#952a6a"/><stop offset=".685" stop-color="#942a6a"/><stop offset=".703" stop-color="#942a6a"/><stop offset=".748" stop-color="#bb2458"/><stop offset=".926" stop-color="#b9225a"/><stop offset=".961" stop-color="#c6324e"/><stop offset="1" stop-color="#b8215a"/></linearGradient>
<linearGradient id="h29" gradientUnits="userSpaceOnUse" x1="0" y1="403.8" x2="0" y2="740.8"><stop offset="0" stop-color="#8a2c6f"/><stop offset=".08" stop-color="#6b357d"/><stop offset=".142" stop-color="#643880"/><stop offset=".427" stop-color="#bc2657"/><stop offset=".614" stop-color="#be2855"/><stop offset=".694" stop-color="#9a2868"/><stop offset=".757" stop-color="#b2225d"/><stop offset=".953" stop-color="#c02a54"/><stop offset="1" stop-color="#b8215a"/></linearGradient>
<linearGradient id="h30" gradientUnits="userSpaceOnUse" x1="0" y1="403.8" x2="0" y2="740.8"><stop offset="0" stop-color="#8c2c6e"/><stop offset=".089" stop-color="#6b357d"/><stop offset=".16" stop-color="#643780"/><stop offset=".258" stop-color="#783177"/><stop offset=".427" stop-color="#b8215a"/><stop offset=".623" stop-color="#b7215b"/><stop offset=".703" stop-color="#9e2766"/><stop offset="1" stop-color="#b7215a"/></linearGradient>
<linearGradient id="h31" gradientUnits="userSpaceOnUse" x1="0" y1="403.8" x2="0" y2="740.8"><stop offset="0" stop-color="#8f2b6d"/><stop offset=".098" stop-color="#6c357c"/><stop offset=".178" stop-color="#643780"/><stop offset=".267" stop-color="#72337a"/><stop offset=".436" stop-color="#b4225c"/><stop offset=".712" stop-color="#a52663"/><stop offset="1" stop-color="#b7215a"/></linearGradient>
<linearGradient id="h32" gradientUnits="userSpaceOnUse" x1="0" y1="403.8" x2="0" y2="740.8"><stop offset="0" stop-color="#922a6b"/><stop offset=".116" stop-color="#6b357d"/><stop offset=".214" stop-color="#623881"/><stop offset=".285" stop-color="#6f347b"/><stop offset=".436" stop-color="#b0235e"/><stop offset="1" stop-color="#b7215a"/></linearGradient>
<linearGradient id="h33" gradientUnits="userSpaceOnUse" x1="0" y1="403.8" x2="0" y2="740.8"><stop offset="0" stop-color="#962969"/><stop offset=".134" stop-color="#69367e"/><stop offset=".231" stop-color="#5d3a83"/><stop offset=".294" stop-color="#6b357d"/><stop offset=".418" stop-color="#a82561"/><stop offset=".481" stop-color="#b4225c"/><stop offset=".632" stop-color="#ab2460"/><stop offset=".712" stop-color="#b6225b"/><stop offset=".766" stop-color="#a72562"/><stop offset=".846" stop-color="#b8215a"/><stop offset="1" stop-color="#b8215a"/></linearGradient>
<linearGradient id="h34" gradientUnits="userSpaceOnUse" x1="0" y1="403.8" x2="0" y2="740.8"><stop offset="0" stop-color="#992968"/><stop offset=".151" stop-color="#643780"/><stop offset=".231" stop-color="#583b85"/><stop offset=".294" stop-color="#67377f"/><stop offset=".472" stop-color="#b92259"/><stop offset=".534" stop-color="#bb2458"/><stop offset=".614" stop-color="#a52663"/><stop offset=".668" stop-color="#c22d52"/><stop offset=".703" stop-color="#c32e51"/><stop offset=".721" stop-color="#ba2358"/><stop offset=".748" stop-color="#932a6a"/><stop offset=".766" stop-color="#8f2b6c"/><stop offset=".792" stop-color="#912b6c"/><stop offset=".819" stop-color="#ba2359"/><stop offset=".837" stop-color="#c32e51"/><stop offset=".872" stop-color="#c22d52"/><stop offset=".908" stop-color="#a92561"/><stop offset=".953" stop-color="#bb2557"/><stop offset="1" stop-color="#b8215a"/></linearGradient>
<linearGradient id="h35" gradientUnits="userSpaceOnUse" x1="0" y1="403.8" x2="0" y2="740.8"><stop offset="0" stop-color="#9c2867"/><stop offset=".16" stop-color="#603982"/><stop offset=".231" stop-color="#553c87"/><stop offset=".294" stop-color="#65377f"/><stop offset=".445" stop-color="#b8215a"/><stop offset=".463" stop-color="#bf2954"/><stop offset=".516" stop-color="#c12c53"/><stop offset=".57" stop-color="#9d2866"/><stop offset=".596" stop-color="#9a2867"/><stop offset=".614" stop-color="#9d2866"/><stop offset=".632" stop-color="#b7215b"/><stop offset=".659" stop-color="#d44144"/><stop offset=".694" stop-color="#d44144"/><stop offset=".721" stop-color="#a92561"/><stop offset=".739" stop-color="#71347a"/><stop offset=".757" stop-color="#6a367d"/><stop offset=".783" stop-color="#6e357c"/><stop offset=".801" stop-color="#a92561"/><stop offset=".828" stop-color="#d44144"/><stop offset=".864" stop-color="#d23f45"/><stop offset=".881" stop-color="#b3225c"/><stop offset=".899" stop-color="#8c2c6e"/><stop offset=".917" stop-color="#952a6a"/><stop offset=".953" stop-color="#c32d52"/><stop offset="1" stop-color="#b1235d"/></linearGradient>
<linearGradient id="h36" gradientUnits="userSpaceOnUse" x1="0" y1="403.8" x2="0" y2="740.8"><stop offset="0" stop-color="#9f2765"/><stop offset=".16" stop-color="#5c3a84"/><stop offset=".231" stop-color="#533c86"/><stop offset=".294" stop-color="#67377f"/><stop offset=".427" stop-color="#b8225a"/><stop offset=".454" stop-color="#c6324e"/><stop offset=".507" stop-color="#c7324e"/><stop offset=".534" stop-color="#b4225c"/><stop offset=".561" stop-color="#8d2b6d"/><stop offset=".596" stop-color="#8f2b6c"/><stop offset=".614" stop-color="#a82561"/><stop offset=".623" stop-color="#be2855"/><stop offset=".641" stop-color="#df5c3b"/><stop offset=".677" stop-color="#e36937"/><stop offset=".685" stop-color="#e26538"/><stop offset=".703" stop-color="#c02b53"/><stop offset=".73" stop-color="#493980"/><stop offset=".748" stop-color="#44387d"/><stop offset=".774" stop-color="#4a3981"/><stop offset=".792" stop-color="#a52663"/><stop offset=".801" stop-color="#c6324e"/><stop offset=".81" stop-color="#db533e"/><stop offset=".819" stop-color="#e26538"/><stop offset=".855" stop-color="#e16239"/><stop offset=".872" stop-color="#b6215b"/><stop offset=".89" stop-color="#67377f"/><stop offset=".908" stop-color="#6a367d"/><stop offset=".935" stop-color="#b6225b"/><stop offset=".953" stop-color="#ce3b48"/><stop offset=".97" stop-color="#bc2557"/><stop offset=".979" stop-color="#a92561"/><stop offset="1" stop-color="#a02765"/></linearGradient>
<linearGradient id="h37" gradientUnits="userSpaceOnUse" x1="0" y1="403.8" x2="0" y2="740.8"><stop offset="0" stop-color="#a12765"/><stop offset=".16" stop-color="#593b85"/><stop offset=".231" stop-color="#523b86"/><stop offset=".303" stop-color="#6f347b"/><stop offset=".409" stop-color="#b8215a"/><stop offset=".436" stop-color="#ce3b48"/><stop offset=".49" stop-color="#d23f45"/><stop offset=".516" stop-color="#ba2458"/><stop offset=".552" stop-color="#7f2f74"/><stop offset=".588" stop-color="#842e72"/><stop offset=".596" stop-color="#902b6c"/><stop offset=".605" stop-color="#b0235e"/><stop offset=".614" stop-color="#c9354c"/><stop offset=".632" stop-color="#f08c2d"/><stop offset=".668" stop-color="#f1932e"/><stop offset=".677" stop-color="#ef892e"/><stop offset=".694" stop-color="#c12b53"/><stop offset=".712" stop-color="#543c86"/><stop offset=".721" stop-color="#27306c"/><stop offset=".739" stop-color="#232f6a"/><stop offset=".766" stop-color="#2f3371"/><stop offset=".774" stop-color="#633880"/><stop offset=".783" stop-color="#a22664"/><stop offset=".792" stop-color="#ce3a49"/><stop offset=".801" stop-color="#e67135"/><stop offset=".81" stop-color="#f08f2e"/><stop offset=".846" stop-color="#f08c2d"/><stop offset=".855" stop-color="#dd583c"/><stop offset=".864" stop-color="#be2855"/><stop offset=".881" stop-color="#483980"/><stop offset=".89" stop-color="#42377c"/><stop offset=".908" stop-color="#4d3a82"/><stop offset=".917" stop-color="#653780"/><stop offset=".926" stop-color="#a52662"/><stop offset=".935" stop-color="#c42f50"/><stop offset=".953" stop-color="#da4f3f"/><stop offset=".97" stop-color="#b8215a"/><stop offset=".979" stop-color="#942a6a"/><stop offset="1" stop-color="#892c6f"/></linearGradient>
<linearGradient id="h38" gradientUnits="userSpaceOnUse" x1="0" y1="403.8" x2="0" y2="740.8"><stop offset="0" stop-color="#a22664"/><stop offset=".151" stop-color="#593b85"/><stop offset=".214" stop-color="#503b84"/><stop offset=".285" stop-color="#68367e"/><stop offset=".392" stop-color="#b5225b"/><stop offset=".427" stop-color="#d84841"/><stop offset=".481" stop-color="#d74641"/><stop offset=".507" stop-color="#b6215b"/><stop offset=".534" stop-color="#733379"/><stop offset=".543" stop-color="#70347a"/><stop offset=".579" stop-color="#793177"/><stop offset=".596" stop-color="#bb2458"/><stop offset=".605" stop-color="#d64542"/><stop offset=".614" stop-color="#ec8230"/><stop offset=".623" stop-color="#f6bc37"/><stop offset=".641" stop-color="#f7c238"/><stop offset=".659" stop-color="#f7bf37"/><stop offset=".668" stop-color="#f3a432"/><stop offset=".677" stop-color="#df5e3b"/><stop offset=".685" stop-color="#bf2955"/><stop offset=".694" stop-color="#7f2f73"/><stop offset=".703" stop-color="#3e3679"/><stop offset=".712" stop-color="#152757"/><stop offset=".748" stop-color="#152655"/><stop offset=".757" stop-color="#1c2e66"/><stop offset=".766" stop-color="#573b86"/><stop offset=".774" stop-color="#a22664"/><stop offset=".783" stop-color="#d44243"/><stop offset=".792" stop-color="#f08b2d"/><stop offset=".801" stop-color="#f6bb36"/><stop offset=".837" stop-color="#f6bb36"/><stop offset=".846" stop-color="#ea7a32"/><stop offset=".855" stop-color="#ca364c"/><stop offset=".864" stop-color="#8c2c6e"/><stop offset=".872" stop-color="#44387d"/><stop offset=".881" stop-color="#2c326f"/><stop offset=".899" stop-color="#2e3270"/><stop offset=".908" stop-color="#3d3679"/><stop offset=".917" stop-color="#72337a"/><stop offset=".926" stop-color="#bf2a54"/><stop offset=".944" stop-color="#de5b3b"/><stop offset=".953" stop-color="#e16339"/><stop offset=".961" stop-color="#cd3949"/><stop offset=".97" stop-color="#ac245f"/><stop offset=".979" stop-color="#7a3176"/><stop offset="1" stop-color="#6f347b"/></linearGradient>
<linearGradient id="h39" gradientUnits="userSpaceOnUse" x1="0" y1="403.8" x2="0" y2="740.8"><stop offset="0" stop-color="#a42663"/><stop offset=".142" stop-color="#5d3a83"/><stop offset=".196" stop-color="#513b84"/><stop offset=".276" stop-color="#67367f"/><stop offset=".374" stop-color="#b0235e"/><stop offset=".392" stop-color="#c8334d"/><stop offset=".409" stop-color="#de593c"/><stop offset=".463" stop-color="#e16239"/><stop offset=".472" stop-color="#d84a40"/><stop offset=".499" stop-color="#ac245f"/><stop offset=".525" stop-color="#653780"/><stop offset=".561" stop-color="#68367e"/><stop offset=".57" stop-color="#72337a"/><stop offset=".579" stop-color="#9b2867"/><stop offset=".588" stop-color="#c42f51"/><stop offset=".596" stop-color="#e0613a"/><stop offset=".605" stop-color="#f4ad34"/><stop offset=".614" stop-color="#fadb46"/><stop offset=".632" stop-color="#fbdd4c"/><stop offset=".65" stop-color="#fadb47"/><stop offset=".659" stop-color="#f5b235"/><stop offset=".668" stop-color="#e0603a"/><stop offset=".677" stop-color="#bb2557"/><stop offset=".685" stop-color="#733379"/><stop offset=".694" stop-color="#2f3371"/><stop offset=".703" stop-color="#122048"/><stop offset=".739" stop-color="#111f47"/><stop offset=".748" stop-color="#182b60"/><stop offset=".757" stop-color="#543c87"/><stop offset=".766" stop-color="#a42663"/><stop offset=".774" stop-color="#d84a40"/><stop offset=".783" stop-color="#f3a131"/><stop offset=".792" stop-color="#fada44"/><stop offset=".828" stop-color="#fadb46"/><stop offset=".837" stop-color="#f29e31"/><stop offset=".846" stop-color="#d74841"/><stop offset=".855" stop-color="#a02765"/><stop offset=".864" stop-color="#503b84"/><stop offset=".872" stop-color="#26306b"/><stop offset=".899" stop-color="#29316d"/><stop offset=".908" stop-color="#41377c"/><stop offset=".917" stop-color="#a12764"/><stop offset=".926" stop-color="#d34045"/><stop offset=".944" stop-color="#e56d36"/><stop offset=".953" stop-color="#e26538"/><stop offset=".961" stop-color="#c9354c"/><stop offset=".97" stop-color="#9d2866"/><stop offset=".979" stop-color="#5f3982"/><stop offset="1" stop-color="#563c87"/></linearGradient>
<linearGradient id="h40" gradientUnits="userSpaceOnUse" x1="0" y1="403.8" x2="0" y2="740.8"><stop offset="0" stop-color="#a62562"/><stop offset=".142" stop-color="#613881"/><stop offset=".196" stop-color="#543c87"/><stop offset=".294" stop-color="#773277"/><stop offset=".338" stop-color="#952a6a"/><stop offset=".365" stop-color="#b92259"/><stop offset=".401" stop-color="#e46b37"/><stop offset=".445" stop-color="#e77334"/><stop offset=".463" stop-color="#d84841"/><stop offset=".481" stop-color="#ba2458"/><stop offset=".507" stop-color="#643880"/><stop offset=".516" stop-color="#5b3a84"/><stop offset=".552" stop-color="#613882"/><stop offset=".561" stop-color="#783277"/><stop offset=".57" stop-color="#a62562"/><stop offset=".579" stop-color="#cd3a49"/><stop offset=".588" stop-color="#e97932"/><stop offset=".596" stop-color="#f9cf3a"/><stop offset=".605" stop-color="#fbe35b"/><stop offset=".623" stop-color="#fbe55f"/><stop offset=".641" stop-color="#fbe35a"/><stop offset=".65" stop-color="#f5ae34"/><stop offset=".659" stop-color="#de593c"/><stop offset=".668" stop-color="#b6215b"/><stop offset=".677" stop-color="#6a367d"/><stop offset=".685" stop-color="#27306c"/><stop offset=".694" stop-color="#111e44"/><stop offset=".73" stop-color="#101d43"/><stop offset=".739" stop-color="#182c61"/><stop offset=".748" stop-color="#573b86"/><stop offset=".757" stop-color="#a72562"/><stop offset=".766" stop-color="#da4e3f"/><stop offset=".774" stop-color="#f4a833"/><stop offset=".783" stop-color="#fbe258"/><stop offset=".819" stop-color="#fbe35b"/><stop offset=".828" stop-color="#f6b936"/><stop offset=".837" stop-color="#df5d3b"/><stop offset=".846" stop-color="#b4225c"/><stop offset=".855" stop-color="#633881"/><stop offset=".864" stop-color="#25306b"/><stop offset=".881" stop-color="#1d2e66"/><stop offset=".899" stop-color="#2a316e"/><stop offset=".908" stop-color="#6b357d"/><stop offset=".917" stop-color="#c42f51"/><stop offset=".926" stop-color="#dd573c"/><stop offset=".944" stop-color="#e87534"/><stop offset=".953" stop-color="#df5d3b"/><stop offset=".961" stop-color="#c42f51"/><stop offset=".979" stop-color="#4a3981"/><stop offset="1" stop-color="#45387e"/></linearGradient>
<linearGradient id="h41" gradientUnits="userSpaceOnUse" x1="0" y1="403.8" x2="0" y2="740.8"><stop offset="0" stop-color="#aa2560"/><stop offset=".151" stop-color="#66377f"/><stop offset=".214" stop-color="#5f3982"/><stop offset=".303" stop-color="#842e71"/><stop offset=".347" stop-color="#b3225c"/><stop offset=".365" stop-color="#d03d47"/><stop offset=".383" stop-color="#e97833"/><stop offset=".436" stop-color="#ec8230"/><stop offset=".454" stop-color="#d54343"/><stop offset=".472" stop-color="#b1235d"/><stop offset=".499" stop-color="#573b86"/><stop offset=".543" stop-color="#5d3983"/><stop offset=".561" stop-color="#b3225c"/><stop offset=".57" stop-color="#d64542"/><stop offset=".579" stop-color="#f08d2d"/><stop offset=".588" stop-color="#fbde4d"/><stop offset=".596" stop-color="#fbe561"/><stop offset=".614" stop-color="#fce764"/><stop offset=".632" stop-color="#fbe45e"/><stop offset=".641" stop-color="#f39f31"/><stop offset=".65" stop-color="#d94c40"/><stop offset=".659" stop-color="#ab2460"/><stop offset=".668" stop-color="#5f3982"/><stop offset=".677" stop-color="#1f2e67"/><stop offset=".685" stop-color="#101c40"/><stop offset=".721" stop-color="#0f1c40"/><stop offset=".73" stop-color="#192c63"/><stop offset=".739" stop-color="#583b86"/><stop offset=".748" stop-color="#a72562"/><stop offset=".757" stop-color="#d94c40"/><stop offset=".766" stop-color="#f3a432"/><stop offset=".774" stop-color="#fbe45e"/><stop offset=".81" stop-color="#fbe662"/><stop offset=".819" stop-color="#f8c939"/><stop offset=".828" stop-color="#e46c36"/><stop offset=".837" stop-color="#bf2955"/><stop offset=".846" stop-color="#753278"/><stop offset=".855" stop-color="#303372"/><stop offset=".864" stop-color="#1d2e66"/><stop offset=".89" stop-color="#1e2e67"/><stop offset=".899" stop-color="#42377c"/><stop offset=".908" stop-color="#992968"/><stop offset=".917" stop-color="#d84941"/><stop offset=".926" stop-color="#e36837"/><stop offset=".935" stop-color="#e87534"/><stop offset=".944" stop-color="#e97932"/><stop offset=".961" stop-color="#bf2954"/><stop offset=".97" stop-color="#842e71"/><stop offset=".979" stop-color="#40377b"/><stop offset="1" stop-color="#3d3679"/></linearGradient>
<linearGradient id="h42" gradientUnits="userSpaceOnUse" x1="0" y1="403.8" x2="0" y2="740.8"><stop offset="0" stop-color="#ae235e"/><stop offset=".16" stop-color="#71347a"/><stop offset=".214" stop-color="#6c357c"/><stop offset=".303" stop-color="#8e2b6d"/><stop offset=".338" stop-color="#bc2657"/><stop offset=".374" stop-color="#ed852f"/><stop offset=".418" stop-color="#f08e2d"/><stop offset=".454" stop-color="#be2855"/><stop offset=".481" stop-color="#653780"/><stop offset=".49" stop-color="#553c87"/><stop offset=".507" stop-color="#543c86"/><stop offset=".534" stop-color="#653780"/><stop offset=".552" stop-color="#be2855"/><stop offset=".561" stop-color="#dd573d"/><stop offset=".57" stop-color="#f3a432"/><stop offset=".579" stop-color="#fbe663"/><stop offset=".596" stop-color="#fce869"/><stop offset=".614" stop-color="#fce867"/><stop offset=".623" stop-color="#fbe054"/><stop offset=".632" stop-color="#f1912e"/><stop offset=".641" stop-color="#d44243"/><stop offset=".65" stop-color="#a12764"/><stop offset=".659" stop-color="#563c87"/><stop offset=".668" stop-color="#182c62"/><stop offset=".677" stop-color="#0f1a3d"/><stop offset=".712" stop-color="#0f1a3d"/><stop offset=".721" stop-color="#192d64"/><stop offset=".73" stop-color="#593b85"/><stop offset=".739" stop-color="#a62562"/><stop offset=".748" stop-color="#d84941"/><stop offset=".757" stop-color="#f3a031"/><stop offset=".766" stop-color="#fbe663"/><stop offset=".801" stop-color="#fce868"/><stop offset=".81" stop-color="#fad83e"/><stop offset=".819" stop-color="#ea7a32"/><stop offset=".828" stop-color="#c8334e"/><stop offset=".837" stop-color="#882d70"/><stop offset=".846" stop-color="#3f377a"/><stop offset=".855" stop-color="#1b2d65"/><stop offset=".881" stop-color="#192d63"/><stop offset=".89" stop-color="#25306b"/><stop offset=".899" stop-color="#6a367d"/><stop offset=".908" stop-color="#bc2656"/><stop offset=".917" stop-color="#e16339"/><stop offset=".935" stop-color="#ea7b32"/><stop offset=".944" stop-color="#ea7c32"/><stop offset=".961" stop-color="#bb2458"/><stop offset=".97" stop-color="#7d3075"/><stop offset=".979" stop-color="#3d3679"/><stop offset="1" stop-color="#3b3678"/></linearGradient>
<linearGradient id="h43" gradientUnits="userSpaceOnUse" x1="0" y1="403.8" x2="0" y2="740.8"><stop offset="0" stop-color="#b4225c"/><stop offset=".205" stop-color="#7b3175"/><stop offset=".285" stop-color="#902b6c"/><stop offset=".32" stop-color="#b8215a"/><stop offset=".338" stop-color="#d54343"/><stop offset=".356" stop-color="#ef8a2e"/><stop offset=".409" stop-color="#f1962f"/><stop offset=".427" stop-color="#d94c40"/><stop offset=".445" stop-color="#b7215a"/><stop offset=".472" stop-color="#573b86"/><stop offset=".516" stop-color="#573c86"/><stop offset=".525" stop-color="#71347a"/><stop offset=".534" stop-color="#9d2866"/><stop offset=".543" stop-color="#c6324e"/><stop offset=".552" stop-color="#e36937"/><stop offset=".561" stop-color="#f6bb36"/><stop offset=".57" stop-color="#fce96a"/><stop offset=".588" stop-color="#fcea6e"/><stop offset=".605" stop-color="#fcea6c"/><stop offset=".614" stop-color="#fadb46"/><stop offset=".623" stop-color="#ed842f"/><stop offset=".632" stop-color="#ce3b48"/><stop offset=".641" stop-color="#982968"/><stop offset=".65" stop-color="#4e3a83"/><stop offset=".659" stop-color="#16285a"/><stop offset=".668" stop-color="#0e1839"/><stop offset=".703" stop-color="#0e1839"/><stop offset=".712" stop-color="#1a2d65"/><stop offset=".721" stop-color="#593b85"/><stop offset=".73" stop-color="#a52663"/><stop offset=".739" stop-color="#d74641"/><stop offset=".748" stop-color="#f29b30"/><stop offset=".757" stop-color="#fbe664"/><stop offset=".792" stop-color="#fcea6d"/><stop offset=".801" stop-color="#fbde4f"/><stop offset=".81" stop-color="#ef892e"/><stop offset=".819" stop-color="#d03d47"/><stop offset=".828" stop-color="#992968"/><stop offset=".837" stop-color="#4f3a83"/><stop offset=".846" stop-color="#192d64"/><stop offset=".881" stop-color="#182c61"/><stop offset=".89" stop-color="#48397f"/><stop offset=".899" stop-color="#932a6b"/><stop offset=".908" stop-color="#cf3b48"/><stop offset=".917" stop-color="#e67235"/><stop offset=".926" stop-color="#ea7b32"/><stop offset=".944" stop-color="#eb7d31"/><stop offset=".953" stop-color="#d64442"/><stop offset=".961" stop-color="#b7215b"/><stop offset=".97" stop-color="#773277"/><stop offset=".979" stop-color="#3a3578"/><stop offset="1" stop-color="#393577"/></linearGradient>
<linearGradient id="h44" gradientUnits="userSpaceOnUse" x1="0" y1="403.8" x2="0" y2="740.8"><stop offset="0" stop-color="#ba2359"/><stop offset=".071" stop-color="#b7215b"/><stop offset=".196" stop-color="#8b2c6e"/><stop offset=".267" stop-color="#95296a"/><stop offset=".303" stop-color="#b4225c"/><stop offset=".32" stop-color="#ce3b48"/><stop offset=".338" stop-color="#eb7d31"/><stop offset=".347" stop-color="#f0902e"/><stop offset=".392" stop-color="#f29930"/><stop offset=".401" stop-color="#ee862f"/><stop offset=".418" stop-color="#d34045"/><stop offset=".427" stop-color="#c12c53"/><stop offset=".436" stop-color="#ab2460"/><stop offset=".463" stop-color="#523b85"/><stop offset=".507" stop-color="#563c86"/><stop offset=".525" stop-color="#aa2460"/><stop offset=".534" stop-color="#ce3b48"/><stop offset=".543" stop-color="#e97a32"/><stop offset=".552" stop-color="#f9d13b"/><stop offset=".561" stop-color="#fceb70"/><stop offset=".579" stop-color="#fcec73"/><stop offset=".596" stop-color="#fceb70"/><stop offset=".605" stop-color="#fad43b"/><stop offset=".614" stop-color="#e97933"/><stop offset=".623" stop-color="#c9354c"/><stop offset=".632" stop-color="#902b6c"/><stop offset=".641" stop-color="#48397f"/><stop offset=".65" stop-color="#142552"/><stop offset=".659" stop-color="#0d1736"/><stop offset=".694" stop-color="#0d1736"/><stop offset=".703" stop-color="#1a2d65"/><stop offset=".712" stop-color="#593b85"/><stop offset=".721" stop-color="#a32663"/><stop offset=".73" stop-color="#d54343"/><stop offset=".739" stop-color="#f1942f"/><stop offset=".748" stop-color="#fbe45d"/><stop offset=".757" stop-color="#fcec71"/><stop offset=".766" stop-color="#fcec73"/><stop offset=".783" stop-color="#fcec73"/><stop offset=".792" stop-color="#fbe560"/><stop offset=".801" stop-color="#f29930"/><stop offset=".81" stop-color="#d74841"/><stop offset=".819" stop-color="#aa2460"/><stop offset=".828" stop-color="#613881"/><stop offset=".837" stop-color="#232f6a"/><stop offset=".846" stop-color="#172a5e"/><stop offset=".872" stop-color="#17295d"/><stop offset=".881" stop-color="#2f3371"/><stop offset=".89" stop-color="#6d357c"/><stop offset=".899" stop-color="#b4225c"/><stop offset=".908" stop-color="#db513e"/><stop offset=".917" stop-color="#ea7b32"/><stop offset=".926" stop-color="#ec8031"/><stop offset=".944" stop-color="#e77434"/><stop offset=".953" stop-color="#d13e46"/><stop offset=".961" stop-color="#b0235d"/><stop offset=".97" stop-color="#71347a"/><stop offset=".979" stop-color="#383576"/><stop offset="1" stop-color="#373576"/></linearGradient>
<linearGradient id="h45" gradientUnits="userSpaceOnUse" x1="0" y1="403.8" x2="0" y2="740.8"><stop offset="0" stop-color="#bf2955"/><stop offset=".08" stop-color="#c12b53"/><stop offset=".205" stop-color="#992968"/><stop offset=".258" stop-color="#9f2765"/><stop offset=".285" stop-color="#b2225d"/><stop offset=".312" stop-color="#d84941"/><stop offset=".329" stop-color="#f1942f"/><stop offset=".383" stop-color="#f29d30"/><stop offset=".401" stop-color="#db533e"/><stop offset=".418" stop-color="#bb2458"/><stop offset=".445" stop-color="#5d3a83"/><stop offset=".454" stop-color="#513b84"/><stop offset=".49" stop-color="#523b85"/><stop offset=".499" stop-color="#603982"/><stop offset=".516" stop-color="#b6215b"/><stop offset=".525" stop-color="#d64442"/><stop offset=".534" stop-color="#ef8a2e"/><stop offset=".543" stop-color="#fbdd4b"/><stop offset=".552" stop-color="#fced76"/><stop offset=".57" stop-color="#fcee78"/><stop offset=".588" stop-color="#fced75"/><stop offset=".596" stop-color="#f8c939"/><stop offset=".605" stop-color="#e67035"/><stop offset=".614" stop-color="#c53050"/><stop offset=".623" stop-color="#892d6f"/><stop offset=".632" stop-color="#42377c"/><stop offset=".641" stop-color="#13224d"/><stop offset=".65" stop-color="#0c1532"/><stop offset=".685" stop-color="#0c1533"/><stop offset=".694" stop-color="#1a2d64"/><stop offset=".703" stop-color="#583b86"/><stop offset=".712" stop-color="#a02765"/><stop offset=".721" stop-color="#d23f45"/><stop offset=".73" stop-color="#f08c2d"/><stop offset=".739" stop-color="#fbe155"/><stop offset=".748" stop-color="#fcee76"/><stop offset=".783" stop-color="#fcec73"/><stop offset=".792" stop-color="#f4ab33"/><stop offset=".801" stop-color="#dd573c"/><stop offset=".81" stop-color="#ba2359"/><stop offset=".819" stop-color="#753278"/><stop offset=".828" stop-color="#343473"/><stop offset=".837" stop-color="#17295c"/><stop offset=".872" stop-color="#192d64"/><stop offset=".881" stop-color="#503b84"/><stop offset=".89" stop-color="#902b6c"/><stop offset=".899" stop-color="#c42f50"/><stop offset=".908" stop-color="#e26738"/><stop offset=".917" stop-color="#ec8130"/><stop offset=".935" stop-color="#ed842f"/><stop offset=".944" stop-color="#e46b36"/><stop offset=".953" stop-color="#cd3a49"/><stop offset=".961" stop-color="#ab2460"/><stop offset=".97" stop-color="#6b357d"/><stop offset=".979" stop-color="#363475"/><stop offset="1" stop-color="#353474"/></linearGradient>
<linearGradient id="h46" gradientUnits="userSpaceOnUse" x1="0" y1="403.8" x2="0" y2="740.8"><stop offset="0" stop-color="#c42f50"/><stop offset=".071" stop-color="#cd3a49"/><stop offset=".142" stop-color="#b7215b"/><stop offset=".214" stop-color="#a42663"/><stop offset=".249" stop-color="#a82561"/><stop offset=".276" stop-color="#bb2458"/><stop offset=".294" stop-color="#d23f46"/><stop offset=".32" stop-color="#f29b30"/><stop offset=".365" stop-color="#f3a131"/><stop offset=".374" stop-color="#f1932e"/><stop offset=".392" stop-color="#d74741"/><stop offset=".409" stop-color="#b3225c"/><stop offset=".436" stop-color="#533b86"/><stop offset=".445" stop-color="#4f3b84"/><stop offset=".481" stop-color="#513b85"/><stop offset=".49" stop-color="#68367e"/><stop offset=".507" stop-color="#bd2656"/><stop offset=".516" stop-color="#da4f3f"/><stop offset=".525" stop-color="#f29930"/><stop offset=".534" stop-color="#fbe45c"/><stop offset=".543" stop-color="#fcef7b"/><stop offset=".561" stop-color="#fcf07d"/><stop offset=".579" stop-color="#fcef7a"/><stop offset=".588" stop-color="#f7c138"/><stop offset=".596" stop-color="#e46a37"/><stop offset=".605" stop-color="#c22d52"/><stop offset=".614" stop-color="#852e71"/><stop offset=".623" stop-color="#3f377a"/><stop offset=".632" stop-color="#122049"/><stop offset=".641" stop-color="#0b132f"/><stop offset=".677" stop-color="#0b132f"/><stop offset=".685" stop-color="#182c62"/><stop offset=".694" stop-color="#543c87"/><stop offset=".703" stop-color="#9b2867"/><stop offset=".712" stop-color="#ce3b48"/><stop offset=".721" stop-color="#ed8330"/><stop offset=".73" stop-color="#fadc49"/><stop offset=".739" stop-color="#fcef7b"/><stop offset=".774" stop-color="#fcf07b"/><stop offset=".783" stop-color="#f7bf37"/><stop offset=".792" stop-color="#e36837"/><stop offset=".801" stop-color="#c32e51"/><stop offset=".819" stop-color="#46387e"/><stop offset=".828" stop-color="#16285a"/><stop offset=".864" stop-color="#162757"/><stop offset=".872" stop-color="#393577"/><stop offset=".881" stop-color="#723379"/><stop offset=".89" stop-color="#aa2460"/><stop offset=".899" stop-color="#cf3c47"/><stop offset=".908" stop-color="#e97833"/><stop offset=".917" stop-color="#ed842f"/><stop offset=".935" stop-color="#ee862f"/><stop offset=".953" stop-color="#c9354c"/><stop offset=".961" stop-color="#a62662"/><stop offset=".97" stop-color="#653780"/><stop offset=".979" stop-color="#343474"/><stop offset="1" stop-color="#333473"/></linearGradient>
<linearGradient id="h47" gradientUnits="userSpaceOnUse" x1="0" y1="403.8" x2="0" y2="740.8"><stop offset="0" stop-color="#c9354c"/><stop offset=".062" stop-color="#d84941"/><stop offset=".16" stop-color="#b8215a"/><stop offset=".196" stop-color="#ae235f"/><stop offset=".258" stop-color="#b92359"/><stop offset=".285" stop-color="#d84a40"/><stop offset=".303" stop-color="#f1942f"/><stop offset=".312" stop-color="#f3a231"/><stop offset=".356" stop-color="#f3a532"/><stop offset=".365" stop-color="#ef892e"/><stop offset=".383" stop-color="#d34144"/><stop offset=".392" stop-color="#c22d52"/><stop offset=".401" stop-color="#ac245f"/><stop offset=".427" stop-color="#4f3a83"/><stop offset=".472" stop-color="#503b84"/><stop offset=".499" stop-color="#c02a54"/><stop offset=".507" stop-color="#dc553d"/><stop offset=".516" stop-color="#f3a131"/><stop offset=".525" stop-color="#fce766"/><stop offset=".534" stop-color="#fdf180"/><stop offset=".561" stop-color="#fdf281"/><stop offset=".57" stop-color="#fdf17f"/><stop offset=".579" stop-color="#f7c138"/><stop offset=".588" stop-color="#e36937"/><stop offset=".596" stop-color="#c32d52"/><stop offset=".605" stop-color="#872d70"/><stop offset=".614" stop-color="#41377b"/><stop offset=".623" stop-color="#12214b"/><stop offset=".632" stop-color="#0a122c"/><stop offset=".668" stop-color="#0a122c"/><stop offset=".677" stop-color="#16285a"/><stop offset=".685" stop-color="#4e3a83"/><stop offset=".694" stop-color="#922a6b"/><stop offset=".703" stop-color="#c8344d"/><stop offset=".712" stop-color="#e87534"/><stop offset=".721" stop-color="#f9d23b"/><stop offset=".73" stop-color="#fdf180"/><stop offset=".757" stop-color="#fdf282"/><stop offset=".766" stop-color="#fdf281"/><stop offset=".774" stop-color="#fad83e"/><stop offset=".783" stop-color="#eb7d31"/><stop offset=".792" stop-color="#ce3b48"/><stop offset=".801" stop-color="#a02765"/><stop offset=".81" stop-color="#5c3a84"/><stop offset=".819" stop-color="#202f68"/><stop offset=".828" stop-color="#152655"/><stop offset=".855" stop-color="#152554"/><stop offset=".864" stop-color="#212f68"/><stop offset=".872" stop-color="#563c86"/><stop offset=".89" stop-color="#bb2458"/><stop offset=".899" stop-color="#d74841"/><stop offset=".908" stop-color="#ee852f"/><stop offset=".935" stop-color="#ee882e"/><stop offset=".944" stop-color="#de5a3b"/><stop offset=".953" stop-color="#c6314f"/><stop offset=".961" stop-color="#a12764"/><stop offset=".97" stop-color="#603982"/><stop offset=".979" stop-color="#323372"/><stop offset="1" stop-color="#313372"/></linearGradient>
<linearGradient id="h48" gradientUnits="userSpaceOnUse" x1="0" y1="403.8" x2="0" y2="740.8"><stop offset="0" stop-color="#cd3949"/><stop offset=".062" stop-color="#dd573c"/><stop offset=".169" stop-color="#b92359"/><stop offset=".24" stop-color="#b7215a"/><stop offset=".267" stop-color="#cd3a49"/><stop offset=".276" stop-color="#da503f"/><stop offset=".294" stop-color="#f29d30"/><stop offset=".347" stop-color="#f4a933"/><stop offset=".356" stop-color="#ef892e"/><stop offset=".374" stop-color="#d34044"/><stop offset=".383" stop-color="#c22c52"/><stop offset=".392" stop-color="#ac245f"/><stop offset=".418" stop-color="#4d3a83"/><stop offset=".463" stop-color="#4e3a83"/><stop offset=".49" stop-color="#bd2756"/><stop offset=".499" stop-color="#da4f3f"/><stop offset=".507" stop-color="#f2982f"/><stop offset=".516" stop-color="#fbe45d"/><stop offset=".525" stop-color="#fdf385"/><stop offset=".552" stop-color="#fdf486"/><stop offset=".561" stop-color="#fdf384"/><stop offset=".57" stop-color="#f9d33b"/><stop offset=".579" stop-color="#e87733"/><stop offset=".588" stop-color="#ca354c"/><stop offset=".596" stop-color="#942a6a"/><stop offset=".605" stop-color="#4d3a82"/><stop offset=".614" stop-color="#162758"/><stop offset=".623" stop-color="#091029"/><stop offset=".659" stop-color="#091028"/><stop offset=".668" stop-color="#111f47"/><stop offset=".677" stop-color="#3d3679"/><stop offset=".685" stop-color="#7f2f74"/><stop offset=".694" stop-color="#bd2756"/><stop offset=".703" stop-color="#df5c3b"/><stop offset=".712" stop-color="#f5b235"/><stop offset=".721" stop-color="#fdf17f"/><stop offset=".748" stop-color="#fdf487"/><stop offset=".757" stop-color="#fdf486"/><stop offset=".766" stop-color="#fce868"/><stop offset=".774" stop-color="#f39f31"/><stop offset=".783" stop-color="#db513e"/><stop offset=".792" stop-color="#ba2358"/><stop offset=".801" stop-color="#7c3075"/><stop offset=".81" stop-color="#3c3678"/><stop offset=".819" stop-color="#152553"/><stop offset=".855" stop-color="#142452"/><stop offset=".864" stop-color="#393577"/><stop offset=".872" stop-color="#70347b"/><stop offset=".881" stop-color="#9f2765"/><stop offset=".89" stop-color="#c22d52"/><stop offset=".899" stop-color="#dc543d"/><stop offset=".908" stop-color="#ef882e"/><stop offset=".935" stop-color="#ef8a2e"/><stop offset=".953" stop-color="#c32e51"/><stop offset=".961" stop-color="#9d2866"/><stop offset=".97" stop-color="#5b3a84"/><stop offset=".979" stop-color="#303371"/><stop offset="1" stop-color="#2f3371"/></linearGradient>
<linearGradient id="h49" gradientUnits="userSpaceOnUse" x1="0" y1="403.8" x2="0" y2="740.8"><stop offset="0" stop-color="#ce3b48"/><stop offset=".062" stop-color="#df5d3b"/><stop offset=".169" stop-color="#bb2458"/><stop offset=".24" stop-color="#ba2358"/><stop offset=".267" stop-color="#d54342"/><stop offset=".285" stop-color="#ef8a2e"/><stop offset=".294" stop-color="#f4aa33"/><stop offset=".338" stop-color="#f4ac33"/><stop offset=".347" stop-color="#f3a231"/><stop offset=".365" stop-color="#db503e"/><stop offset=".383" stop-color="#ba2359"/><stop offset=".409" stop-color="#593b85"/><stop offset=".418" stop-color="#4c3a82"/><stop offset=".463" stop-color="#563c87"/><stop offset=".481" stop-color="#a72561"/><stop offset=".49" stop-color="#ca364c"/><stop offset=".499" stop-color="#e56d36"/><stop offset=".507" stop-color="#f7c238"/><stop offset=".516" stop-color="#fdf588"/><stop offset=".552" stop-color="#fdf58a"/><stop offset=".561" stop-color="#fcee78"/><stop offset=".57" stop-color="#f4ad34"/><stop offset=".579" stop-color="#de593c"/><stop offset=".588" stop-color="#bb2458"/><stop offset=".596" stop-color="#783277"/><stop offset=".605" stop-color="#343474"/><stop offset=".614" stop-color="#0e193b"/><stop offset=".623" stop-color="#080f25"/><stop offset=".659" stop-color="#080f25"/><stop offset=".668" stop-color="#172a5e"/><stop offset=".677" stop-color="#523b85"/><stop offset=".685" stop-color="#962969"/><stop offset=".694" stop-color="#c9354c"/><stop offset=".703" stop-color="#e87633"/><stop offset=".712" stop-color="#fad53c"/><stop offset=".721" stop-color="#fdf589"/><stop offset=".748" stop-color="#fdf68b"/><stop offset=".757" stop-color="#fdf68b"/><stop offset=".766" stop-color="#fbdd4b"/><stop offset=".774" stop-color="#ee862f"/><stop offset=".783" stop-color="#d34044"/><stop offset=".792" stop-color="#ab2460"/><stop offset=".801" stop-color="#6a367d"/><stop offset=".81" stop-color="#2b326f"/><stop offset=".819" stop-color="#142350"/><stop offset=".855" stop-color="#162757"/><stop offset=".864" stop-color="#44387d"/><stop offset=".881" stop-color="#a62562"/><stop offset=".89" stop-color="#c53050"/><stop offset=".899" stop-color="#de5a3c"/><stop offset=".908" stop-color="#f08b2d"/><stop offset=".935" stop-color="#f08c2d"/><stop offset=".944" stop-color="#db513e"/><stop offset=".953" stop-color="#c22d52"/><stop offset=".961" stop-color="#9b2867"/><stop offset=".97" stop-color="#583b86"/><stop offset=".979" stop-color="#2e3270"/><stop offset="1" stop-color="#2d3270"/></linearGradient>
<linearGradient id="h50" gradientUnits="userSpaceOnUse" x1="0" y1="403.8" x2="0" y2="740.8"><stop offset="0" stop-color="#cd3a49"/><stop offset=".062" stop-color="#dd593c"/><stop offset=".169" stop-color="#b92359"/><stop offset=".24" stop-color="#b8215a"/><stop offset=".267" stop-color="#cf3c47"/><stop offset=".276" stop-color="#dc553d"/><stop offset=".294" stop-color="#f3a432"/><stop offset=".347" stop-color="#f4a933"/><stop offset=".365" stop-color="#df5c3b"/><stop offset=".383" stop-color="#bf2954"/><stop offset=".418" stop-color="#4d3a82"/><stop offset=".463" stop-color="#4e3a83"/><stop offset=".481" stop-color="#9a2867"/><stop offset=".49" stop-color="#c12c53"/><stop offset=".499" stop-color="#dd583c"/><stop offset=".507" stop-color="#f3a432"/><stop offset=".516" stop-color="#fce96b"/><stop offset=".525" stop-color="#fdf486"/><stop offset=".552" stop-color="#fdf487"/><stop offset=".561" stop-color="#fdf385"/><stop offset=".57" stop-color="#f8c739"/><stop offset=".579" stop-color="#e56d36"/><stop offset=".588" stop-color="#c53050"/><stop offset=".605" stop-color="#45387e"/><stop offset=".614" stop-color="#13234f"/><stop offset=".623" stop-color="#091028"/><stop offset=".659" stop-color="#091028"/><stop offset=".668" stop-color="#13234f"/><stop offset=".677" stop-color="#44387d"/><stop offset=".694" stop-color="#c12b53"/><stop offset=".703" stop-color="#e26439"/><stop offset=".712" stop-color="#f6bc37"/><stop offset=".721" stop-color="#fdf385"/><stop offset=".748" stop-color="#fdf488"/><stop offset=".757" stop-color="#fdf487"/><stop offset=".766" stop-color="#fbe45f"/><stop offset=".774" stop-color="#f1972f"/><stop offset=".783" stop-color="#d94b40"/><stop offset=".792" stop-color="#b6215b"/><stop offset=".801" stop-color="#773277"/><stop offset=".81" stop-color="#373475"/><stop offset=".819" stop-color="#142553"/><stop offset=".855" stop-color="#142451"/><stop offset=".864" stop-color="#3d3679"/><stop offset=".872" stop-color="#733379"/><stop offset=".881" stop-color="#a12764"/><stop offset=".89" stop-color="#c32e51"/><stop offset=".899" stop-color="#dc563d"/><stop offset=".908" stop-color="#ef892e"/><stop offset=".935" stop-color="#ef8a2e"/><stop offset=".953" stop-color="#c32e51"/><stop offset=".961" stop-color="#9d2866"/><stop offset=".97" stop-color="#5a3a85"/><stop offset=".979" stop-color="#2f3371"/><stop offset="1" stop-color="#2f3271"/></linearGradient>
<linearGradient id="h51" gradientUnits="userSpaceOnUse" x1="0" y1="403.8" x2="0" y2="740.8"><stop offset="0" stop-color="#ca364c"/><stop offset=".062" stop-color="#d94c40"/><stop offset=".16" stop-color="#b8215a"/><stop offset=".196" stop-color="#ad245f"/><stop offset=".258" stop-color="#ba2358"/><stop offset=".285" stop-color="#db513e"/><stop offset=".303" stop-color="#f39f31"/><stop offset=".356" stop-color="#f3a532"/><stop offset=".374" stop-color="#de5a3c"/><stop offset=".392" stop-color="#be2855"/><stop offset=".427" stop-color="#4e3a83"/><stop offset=".472" stop-color="#513b85"/><stop offset=".49" stop-color="#a02765"/><stop offset=".499" stop-color="#c6314f"/><stop offset=".507" stop-color="#e16339"/><stop offset=".516" stop-color="#f5b335"/><stop offset=".525" stop-color="#fcef7a"/><stop offset=".561" stop-color="#fdf282"/><stop offset=".57" stop-color="#fcee78"/><stop offset=".579" stop-color="#f5af34"/><stop offset=".588" stop-color="#de5b3b"/><stop offset=".596" stop-color="#bc2557"/><stop offset=".605" stop-color="#7a3176"/><stop offset=".614" stop-color="#363475"/><stop offset=".623" stop-color="#0f1b3e"/><stop offset=".632" stop-color="#0a112b"/><stop offset=".668" stop-color="#0a122b"/><stop offset=".677" stop-color="#1a2d65"/><stop offset=".685" stop-color="#583b86"/><stop offset=".694" stop-color="#9d2866"/><stop offset=".703" stop-color="#ce3b48"/><stop offset=".712" stop-color="#ec8130"/><stop offset=".721" stop-color="#fadb47"/><stop offset=".73" stop-color="#fdf281"/><stop offset=".748" stop-color="#fdf283"/><stop offset=".766" stop-color="#fdf282"/><stop offset=".774" stop-color="#f8cc3a"/><stop offset=".783" stop-color="#e77334"/><stop offset=".792" stop-color="#c9354c"/><stop offset=".801" stop-color="#982968"/><stop offset=".81" stop-color="#543c86"/><stop offset=".819" stop-color="#192d64"/><stop offset=".828" stop-color="#152655"/><stop offset=".855" stop-color="#152554"/><stop offset=".864" stop-color="#26306c"/><stop offset=".872" stop-color="#5c3a84"/><stop offset=".89" stop-color="#bd2656"/><stop offset=".899" stop-color="#d84b40"/><stop offset=".908" stop-color="#ee862f"/><stop offset=".935" stop-color="#ef882e"/><stop offset=".944" stop-color="#de593c"/><stop offset=".953" stop-color="#c5314f"/><stop offset=".961" stop-color="#a02765"/><stop offset=".97" stop-color="#5f3982"/><stop offset=".979" stop-color="#313372"/><stop offset="1" stop-color="#313372"/></linearGradient>
<linearGradient id="h52" gradientUnits="userSpaceOnUse" x1="0" y1="403.8" x2="0" y2="740.8"><stop offset="0" stop-color="#c53050"/><stop offset=".071" stop-color="#cf3c48"/><stop offset=".142" stop-color="#b6215b"/><stop offset=".205" stop-color="#a32663"/><stop offset=".267" stop-color="#b3225c"/><stop offset=".294" stop-color="#d54343"/><stop offset=".312" stop-color="#f08c2d"/><stop offset=".32" stop-color="#f29b30"/><stop offset=".365" stop-color="#f3a131"/><stop offset=".374" stop-color="#ee872e"/><stop offset=".392" stop-color="#d34045"/><stop offset=".401" stop-color="#c12c52"/><stop offset=".409" stop-color="#ab2460"/><stop offset=".436" stop-color="#4f3b84"/><stop offset=".481" stop-color="#513b85"/><stop offset=".499" stop-color="#9c2867"/><stop offset=".507" stop-color="#c32e51"/><stop offset=".516" stop-color="#e05e3a"/><stop offset=".525" stop-color="#f4ad34"/><stop offset=".534" stop-color="#fcec73"/><stop offset=".561" stop-color="#fcf07e"/><stop offset=".579" stop-color="#fced75"/><stop offset=".588" stop-color="#f4ad34"/><stop offset=".596" stop-color="#de5a3c"/><stop offset=".605" stop-color="#ba2458"/><stop offset=".614" stop-color="#763278"/><stop offset=".623" stop-color="#333373"/><stop offset=".632" stop-color="#0e193b"/><stop offset=".641" stop-color="#0b132e"/><stop offset=".677" stop-color="#0b132f"/><stop offset=".685" stop-color="#222f69"/><stop offset=".694" stop-color="#623881"/><stop offset=".703" stop-color="#a82561"/><stop offset=".712" stop-color="#d54343"/><stop offset=".721" stop-color="#f1912e"/><stop offset=".73" stop-color="#fbe35b"/><stop offset=".739" stop-color="#fcf07c"/><stop offset=".774" stop-color="#fcef79"/><stop offset=".783" stop-color="#f5b034"/><stop offset=".792" stop-color="#df5d3b"/><stop offset=".801" stop-color="#be2855"/><stop offset=".81" stop-color="#812f73"/><stop offset=".819" stop-color="#3e367a"/><stop offset=".828" stop-color="#162859"/><stop offset=".864" stop-color="#152656"/><stop offset=".872" stop-color="#40377a"/><stop offset=".881" stop-color="#793177"/><stop offset=".89" stop-color="#ae235e"/><stop offset=".899" stop-color="#d13f46"/><stop offset=".908" stop-color="#ea7b32"/><stop offset=".917" stop-color="#ed852f"/><stop offset=".935" stop-color="#ee862f"/><stop offset=".953" stop-color="#c9344d"/><stop offset=".961" stop-color="#a52663"/><stop offset=".97" stop-color="#643780"/><stop offset=".979" stop-color="#333473"/><stop offset="1" stop-color="#333373"/></linearGradient>
<linearGradient id="h53" gradientUnits="userSpaceOnUse" x1="0" y1="403.8" x2="0" y2="740.8"><stop offset="0" stop-color="#c02a54"/><stop offset=".08" stop-color="#c22c52"/><stop offset=".116" stop-color="#b6215b"/><stop offset=".205" stop-color="#972969"/><stop offset=".258" stop-color="#9e2766"/><stop offset=".285" stop-color="#b4225c"/><stop offset=".303" stop-color="#cc384a"/><stop offset=".329" stop-color="#f1942f"/><stop offset=".374" stop-color="#f29c30"/><stop offset=".383" stop-color="#f1942f"/><stop offset=".401" stop-color="#d84941"/><stop offset=".418" stop-color="#b5225c"/><stop offset=".445" stop-color="#543c87"/><stop offset=".454" stop-color="#503b84"/><stop offset=".49" stop-color="#523b85"/><stop offset=".499" stop-color="#69367e"/><stop offset=".516" stop-color="#be2855"/><stop offset=".525" stop-color="#dc533e"/><stop offset=".534" stop-color="#f29f31"/><stop offset=".543" stop-color="#fbe663"/><stop offset=".552" stop-color="#fcee77"/><stop offset=".57" stop-color="#fcef79"/><stop offset=".588" stop-color="#fced75"/><stop offset=".596" stop-color="#f5b435"/><stop offset=".605" stop-color="#e05f3a"/><stop offset=".614" stop-color="#bd2656"/><stop offset=".623" stop-color="#793176"/><stop offset=".632" stop-color="#353474"/><stop offset=".641" stop-color="#0f1b3e"/><stop offset=".65" stop-color="#0c1431"/><stop offset=".685" stop-color="#0c1532"/><stop offset=".694" stop-color="#26306b"/><stop offset=".703" stop-color="#66377f"/><stop offset=".712" stop-color="#ad245f"/><stop offset=".721" stop-color="#d84a40"/><stop offset=".73" stop-color="#f29e31"/><stop offset=".739" stop-color="#fce868"/><stop offset=".748" stop-color="#fcee78"/><stop offset=".774" stop-color="#fcee79"/><stop offset=".783" stop-color="#fbe663"/><stop offset=".792" stop-color="#f29b30"/><stop offset=".801" stop-color="#d94c40"/><stop offset=".81" stop-color="#b1235d"/><stop offset=".819" stop-color="#6b357d"/><stop offset=".828" stop-color="#2b326f"/><stop offset=".837" stop-color="#17295b"/><stop offset=".864" stop-color="#162859"/><stop offset=".872" stop-color="#202f68"/><stop offset=".881" stop-color="#573c86"/><stop offset=".89" stop-color="#962969"/><stop offset=".899" stop-color="#c7324e"/><stop offset=".908" stop-color="#e46a37"/><stop offset=".917" stop-color="#ec8130"/><stop offset=".935" stop-color="#ed842f"/><stop offset=".944" stop-color="#e46a37"/><stop offset=".953" stop-color="#cc394a"/><stop offset=".961" stop-color="#aa2560"/><stop offset=".97" stop-color="#6a367d"/><stop offset=".979" stop-color="#353475"/><stop offset="1" stop-color="#353474"/></linearGradient>
<linearGradient id="h54" gradientUnits="userSpaceOnUse" x1="0" y1="403.8" x2="0" y2="740.8"><stop offset="0" stop-color="#bb2458"/><stop offset=".071" stop-color="#b8215a"/><stop offset=".151" stop-color="#932a6b"/><stop offset=".205" stop-color="#892d6f"/><stop offset=".267" stop-color="#942a6a"/><stop offset=".303" stop-color="#b6215b"/><stop offset=".32" stop-color="#d24045"/><stop offset=".338" stop-color="#ee882e"/><stop offset=".392" stop-color="#f29930"/><stop offset=".409" stop-color="#dd563d"/><stop offset=".427" stop-color="#bc2656"/><stop offset=".454" stop-color="#613982"/><stop offset=".463" stop-color="#523b85"/><stop offset=".499" stop-color="#533b86"/><stop offset=".507" stop-color="#5f3982"/><stop offset=".525" stop-color="#b7215a"/><stop offset=".534" stop-color="#d74542"/><stop offset=".543" stop-color="#f08c2d"/><stop offset=".552" stop-color="#fbde4e"/><stop offset=".561" stop-color="#fcec72"/><stop offset=".579" stop-color="#fced74"/><stop offset=".596" stop-color="#fceb71"/><stop offset=".605" stop-color="#f7bf37"/><stop offset=".614" stop-color="#e36738"/><stop offset=".623" stop-color="#c02b53"/><stop offset=".632" stop-color="#802f73"/><stop offset=".641" stop-color="#3a3577"/><stop offset=".65" stop-color="#101d44"/><stop offset=".659" stop-color="#0c1635"/><stop offset=".694" stop-color="#0d1736"/><stop offset=".703" stop-color="#27306c"/><stop offset=".712" stop-color="#68367e"/><stop offset=".721" stop-color="#b1235d"/><stop offset=".73" stop-color="#db503e"/><stop offset=".739" stop-color="#f4a632"/><stop offset=".748" stop-color="#fceb6f"/><stop offset=".783" stop-color="#fcec73"/><stop offset=".792" stop-color="#fbdf4f"/><stop offset=".801" stop-color="#ef8a2e"/><stop offset=".81" stop-color="#d23f46"/><stop offset=".819" stop-color="#9f2765"/><stop offset=".828" stop-color="#563c86"/><stop offset=".837" stop-color="#1a2d65"/><stop offset=".872" stop-color="#17295c"/><stop offset=".881" stop-color="#363475"/><stop offset=".89" stop-color="#753278"/><stop offset=".899" stop-color="#b92259"/><stop offset=".908" stop-color="#dc563d"/><stop offset=".917" stop-color="#ea7c32"/><stop offset=".926" stop-color="#ec8130"/><stop offset=".944" stop-color="#e77334"/><stop offset=".953" stop-color="#d03d47"/><stop offset=".961" stop-color="#af235e"/><stop offset=".97" stop-color="#70347b"/><stop offset=".979" stop-color="#383576"/><stop offset="1" stop-color="#373475"/></linearGradient>
<linearGradient id="h55" gradientUnits="userSpaceOnUse" x1="0" y1="403.8" x2="0" y2="740.8"><stop offset="0" stop-color="#b5225c"/><stop offset=".062" stop-color="#aa2460"/><stop offset=".169" stop-color="#7d3075"/><stop offset=".223" stop-color="#7b3176"/><stop offset=".285" stop-color="#8f2b6c"/><stop offset=".32" stop-color="#bb2458"/><stop offset=".338" stop-color="#d94c40"/><stop offset=".356" stop-color="#ef8a2e"/><stop offset=".401" stop-color="#f1952f"/><stop offset=".409" stop-color="#ef8a2e"/><stop offset=".427" stop-color="#d54343"/><stop offset=".436" stop-color="#c32e51"/><stop offset=".445" stop-color="#ae235e"/><stop offset=".472" stop-color="#533c86"/><stop offset=".516" stop-color="#583b86"/><stop offset=".534" stop-color="#aa2460"/><stop offset=".543" stop-color="#cf3b48"/><stop offset=".552" stop-color="#ea7b32"/><stop offset=".561" stop-color="#f9d23b"/><stop offset=".57" stop-color="#fcea6c"/><stop offset=".588" stop-color="#fceb6f"/><stop offset=".605" stop-color="#fcea6c"/><stop offset=".614" stop-color="#f8cb3a"/><stop offset=".623" stop-color="#e77235"/><stop offset=".632" stop-color="#c5304f"/><stop offset=".641" stop-color="#882d70"/><stop offset=".65" stop-color="#40377b"/><stop offset=".659" stop-color="#12214b"/><stop offset=".668" stop-color="#0d1838"/><stop offset=".703" stop-color="#0e1839"/><stop offset=".712" stop-color="#27306c"/><stop offset=".721" stop-color="#69367e"/><stop offset=".73" stop-color="#b3225c"/><stop offset=".739" stop-color="#dc553d"/><stop offset=".748" stop-color="#f4ad34"/><stop offset=".757" stop-color="#fce96a"/><stop offset=".792" stop-color="#fcea6e"/><stop offset=".801" stop-color="#fad83e"/><stop offset=".81" stop-color="#ea7b32"/><stop offset=".819" stop-color="#c9354c"/><stop offset=".828" stop-color="#8e2b6d"/><stop offset=".837" stop-color="#46387e"/><stop offset=".846" stop-color="#192c63"/><stop offset=".881" stop-color="#182b61"/><stop offset=".89" stop-color="#4f3a83"/><stop offset=".899" stop-color="#9a2868"/><stop offset=".908" stop-color="#d23f45"/><stop offset=".917" stop-color="#e77434"/><stop offset=".926" stop-color="#ea7c32"/><stop offset=".944" stop-color="#ea7b32"/><stop offset=".953" stop-color="#d54343"/><stop offset=".961" stop-color="#b5225b"/><stop offset=".97" stop-color="#763278"/><stop offset=".979" stop-color="#3a3577"/><stop offset="1" stop-color="#393576"/></linearGradient>
<linearGradient id="h56" gradientUnits="userSpaceOnUse" x1="0" y1="403.8" x2="0" y2="740.8"><stop offset="0" stop-color="#ae235e"/><stop offset=".16" stop-color="#6f347b"/><stop offset=".214" stop-color="#6b357d"/><stop offset=".294" stop-color="#892c6f"/><stop offset=".329" stop-color="#b1235d"/><stop offset=".347" stop-color="#d03c47"/><stop offset=".365" stop-color="#ec8130"/><stop offset=".418" stop-color="#f1902e"/><stop offset=".436" stop-color="#da503f"/><stop offset=".454" stop-color="#ba2359"/><stop offset=".481" stop-color="#5b3a84"/><stop offset=".49" stop-color="#543c87"/><stop offset=".525" stop-color="#583b86"/><stop offset=".534" stop-color="#6f347b"/><stop offset=".543" stop-color="#9c2867"/><stop offset=".552" stop-color="#c6314f"/><stop offset=".561" stop-color="#e36937"/><stop offset=".57" stop-color="#f6bb36"/><stop offset=".579" stop-color="#fce766"/><stop offset=".596" stop-color="#fce96a"/><stop offset=".614" stop-color="#fce868"/><stop offset=".623" stop-color="#fad83e"/><stop offset=".632" stop-color="#eb7d31"/><stop offset=".641" stop-color="#cb374b"/><stop offset=".65" stop-color="#912b6c"/><stop offset=".659" stop-color="#47397f"/><stop offset=".668" stop-color="#142553"/><stop offset=".677" stop-color="#0e193c"/><stop offset=".712" stop-color="#0f1a3d"/><stop offset=".721" stop-color="#26306b"/><stop offset=".73" stop-color="#69367e"/><stop offset=".739" stop-color="#b5225b"/><stop offset=".748" stop-color="#de593c"/><stop offset=".757" stop-color="#f5b335"/><stop offset=".766" stop-color="#fce765"/><stop offset=".801" stop-color="#fce868"/><stop offset=".81" stop-color="#f8c839"/><stop offset=".819" stop-color="#e56d36"/><stop offset=".828" stop-color="#c12b53"/><stop offset=".837" stop-color="#7c3075"/><stop offset=".846" stop-color="#363475"/><stop offset=".855" stop-color="#1a2d64"/><stop offset=".881" stop-color="#192c63"/><stop offset=".89" stop-color="#2c326f"/><stop offset=".899" stop-color="#733379"/><stop offset=".908" stop-color="#c02b53"/><stop offset=".917" stop-color="#e36738"/><stop offset=".935" stop-color="#ea7c32"/><stop offset=".944" stop-color="#eb7d31"/><stop offset=".961" stop-color="#ba2458"/><stop offset=".97" stop-color="#7c3075"/><stop offset=".979" stop-color="#3c3679"/><stop offset="1" stop-color="#3b3578"/></linearGradient>
<linearGradient id="h57" gradientUnits="userSpaceOnUse" x1="0" y1="403.8" x2="0" y2="740.8"><stop offset="0" stop-color="#a92561"/><stop offset=".151" stop-color="#653780"/><stop offset=".214" stop-color="#5f3982"/><stop offset=".312" stop-color="#8c2c6e"/><stop offset=".347" stop-color="#b92259"/><stop offset=".365" stop-color="#d64442"/><stop offset=".383" stop-color="#ea7c32"/><stop offset=".427" stop-color="#ee852f"/><stop offset=".436" stop-color="#ea7b32"/><stop offset=".463" stop-color="#c02a54"/><stop offset=".472" stop-color="#a92561"/><stop offset=".499" stop-color="#563c86"/><stop offset=".516" stop-color="#553c87"/><stop offset=".543" stop-color="#633880"/><stop offset=".561" stop-color="#bd2756"/><stop offset=".57" stop-color="#dc563d"/><stop offset=".579" stop-color="#f3a432"/><stop offset=".588" stop-color="#fbe55f"/><stop offset=".605" stop-color="#fce765"/><stop offset=".623" stop-color="#fbe663"/><stop offset=".632" stop-color="#fbdd4d"/><stop offset=".641" stop-color="#ef8a2e"/><stop offset=".65" stop-color="#d13e46"/><stop offset=".659" stop-color="#9a2867"/><stop offset=".668" stop-color="#4f3b84"/><stop offset=".677" stop-color="#17295b"/><stop offset=".685" stop-color="#0f1b3f"/><stop offset=".721" stop-color="#0f1c40"/><stop offset=".73" stop-color="#25306b"/><stop offset=".739" stop-color="#68367e"/><stop offset=".748" stop-color="#b6215b"/><stop offset=".757" stop-color="#df5c3b"/><stop offset=".766" stop-color="#f6b736"/><stop offset=".774" stop-color="#fbe560"/><stop offset=".81" stop-color="#fbe662"/><stop offset=".819" stop-color="#f6b936"/><stop offset=".828" stop-color="#df5e3a"/><stop offset=".837" stop-color="#b8215a"/><stop offset=".846" stop-color="#69367e"/><stop offset=".855" stop-color="#27316c"/><stop offset=".864" stop-color="#1c2e65"/><stop offset=".89" stop-color="#1e2e67"/><stop offset=".899" stop-color="#493980"/><stop offset=".908" stop-color="#a12764"/><stop offset=".917" stop-color="#da503f"/><stop offset=".935" stop-color="#e87633"/><stop offset=".944" stop-color="#e97a32"/><stop offset=".961" stop-color="#be2855"/><stop offset=".97" stop-color="#822e72"/><stop offset=".979" stop-color="#3f377a"/><stop offset="1" stop-color="#3d3679"/></linearGradient>
<linearGradient id="h58" gradientUnits="userSpaceOnUse" x1="0" y1="403.8" x2="0" y2="740.8"><stop offset="0" stop-color="#a42663"/><stop offset=".142" stop-color="#5f3982"/><stop offset=".205" stop-color="#553c87"/><stop offset=".303" stop-color="#812f73"/><stop offset=".356" stop-color="#b1235d"/><stop offset=".374" stop-color="#cb374b"/><stop offset=".392" stop-color="#e46b37"/><stop offset=".445" stop-color="#e87733"/><stop offset=".463" stop-color="#d54243"/><stop offset=".481" stop-color="#b4225c"/><stop offset=".507" stop-color="#5b3a84"/><stop offset=".525" stop-color="#593b85"/><stop offset=".552" stop-color="#613881"/><stop offset=".57" stop-color="#b3225c"/><stop offset=".579" stop-color="#d64442"/><stop offset=".588" stop-color="#f08c2d"/><stop offset=".596" stop-color="#fbdd4c"/><stop offset=".605" stop-color="#fbe45d"/><stop offset=".623" stop-color="#fbe560"/><stop offset=".641" stop-color="#fbe25a"/><stop offset=".65" stop-color="#f29930"/><stop offset=".659" stop-color="#d74641"/><stop offset=".668" stop-color="#a52663"/><stop offset=".677" stop-color="#583b86"/><stop offset=".685" stop-color="#192d64"/><stop offset=".694" stop-color="#101d43"/><stop offset=".73" stop-color="#101d43"/><stop offset=".739" stop-color="#23306a"/><stop offset=".748" stop-color="#67377f"/><stop offset=".757" stop-color="#b7215a"/><stop offset=".766" stop-color="#e05f3a"/><stop offset=".774" stop-color="#f6bb36"/><stop offset=".783" stop-color="#fbe35b"/><stop offset=".819" stop-color="#fbe35b"/><stop offset=".828" stop-color="#f4a933"/><stop offset=".837" stop-color="#da4f3f"/><stop offset=".846" stop-color="#a72562"/><stop offset=".855" stop-color="#563c86"/><stop offset=".864" stop-color="#232f6a"/><stop offset=".881" stop-color="#1d2e66"/><stop offset=".899" stop-color="#2a316e"/><stop offset=".908" stop-color="#753278"/><stop offset=".917" stop-color="#c8344d"/><stop offset=".926" stop-color="#de5b3b"/><stop offset=".944" stop-color="#e87633"/><stop offset=".953" stop-color="#df5c3b"/><stop offset=".961" stop-color="#c32e51"/><stop offset=".979" stop-color="#47387f"/><stop offset="1" stop-color="#43387d"/></linearGradient>
<linearGradient id="h59" gradientUnits="userSpaceOnUse" x1="0" y1="403.8" x2="0" y2="740.8"><stop offset="0" stop-color="#a02765"/><stop offset=".134" stop-color="#5e3983"/><stop offset=".187" stop-color="#523b85"/><stop offset=".267" stop-color="#6b357d"/><stop offset=".347" stop-color="#9a2867"/><stop offset=".374" stop-color="#b8215a"/><stop offset=".409" stop-color="#df5d3b"/><stop offset=".454" stop-color="#e26439"/><stop offset=".472" stop-color="#d64442"/><stop offset=".49" stop-color="#bb2458"/><stop offset=".516" stop-color="#6d357c"/><stop offset=".525" stop-color="#623881"/><stop offset=".561" stop-color="#67377f"/><stop offset=".57" stop-color="#7a3176"/><stop offset=".579" stop-color="#a62562"/><stop offset=".588" stop-color="#cc384a"/><stop offset=".596" stop-color="#e77434"/><stop offset=".605" stop-color="#f8c639"/><stop offset=".614" stop-color="#fbde4d"/><stop offset=".632" stop-color="#fbdf51"/><stop offset=".65" stop-color="#fbdd4b"/><stop offset=".659" stop-color="#f3a131"/><stop offset=".668" stop-color="#da4f3f"/><stop offset=".677" stop-color="#ae235e"/><stop offset=".685" stop-color="#623881"/><stop offset=".694" stop-color="#212f69"/><stop offset=".703" stop-color="#111f46"/><stop offset=".739" stop-color="#111f47"/><stop offset=".748" stop-color="#222f69"/><stop offset=".757" stop-color="#653780"/><stop offset=".766" stop-color="#b5225b"/><stop offset=".774" stop-color="#df5d3b"/><stop offset=".783" stop-color="#f6b736"/><stop offset=".792" stop-color="#fbdd4b"/><stop offset=".828" stop-color="#fbdc4a"/><stop offset=".837" stop-color="#f1912e"/><stop offset=".846" stop-color="#d13f46"/><stop offset=".855" stop-color="#942a6a"/><stop offset=".864" stop-color="#46387f"/><stop offset=".872" stop-color="#24306b"/><stop offset=".899" stop-color="#29316d"/><stop offset=".908" stop-color="#493980"/><stop offset=".917" stop-color="#ab2460"/><stop offset=".926" stop-color="#d64442"/><stop offset=".944" stop-color="#e66f35"/><stop offset=".953" stop-color="#e16439"/><stop offset=".961" stop-color="#c8344d"/><stop offset=".97" stop-color="#9a2867"/><stop offset=".979" stop-color="#5a3b85"/><stop offset="1" stop-color="#523b85"/></linearGradient>
<linearGradient id="h60" gradientUnits="userSpaceOnUse" x1="0" y1="403.8" x2="0" y2="740.8"><stop offset="0" stop-color="#9d2866"/><stop offset=".134" stop-color="#5d3a83"/><stop offset=".187" stop-color="#533c86"/><stop offset=".258" stop-color="#68367e"/><stop offset=".365" stop-color="#9e2766"/><stop offset=".392" stop-color="#b8225a"/><stop offset=".418" stop-color="#d64442"/><stop offset=".472" stop-color="#da4e3f"/><stop offset=".481" stop-color="#d34144"/><stop offset=".507" stop-color="#ad245f"/><stop offset=".534" stop-color="#6c357c"/><stop offset=".579" stop-color="#783277"/><stop offset=".588" stop-color="#9b2867"/><stop offset=".596" stop-color="#c12c53"/><stop offset=".605" stop-color="#dd573d"/><stop offset=".614" stop-color="#f2982f"/><stop offset=".623" stop-color="#f8c538"/><stop offset=".641" stop-color="#f8ca39"/><stop offset=".659" stop-color="#f8c639"/><stop offset=".668" stop-color="#f2982f"/><stop offset=".677" stop-color="#da503e"/><stop offset=".685" stop-color="#b5225b"/><stop offset=".694" stop-color="#6e357c"/><stop offset=".703" stop-color="#2e3270"/><stop offset=".712" stop-color="#142452"/><stop offset=".748" stop-color="#142451"/><stop offset=".757" stop-color="#25306b"/><stop offset=".766" stop-color="#653780"/><stop offset=".774" stop-color="#b1235d"/><stop offset=".783" stop-color="#db523e"/><stop offset=".792" stop-color="#f3a131"/><stop offset=".801" stop-color="#f8c538"/><stop offset=".837" stop-color="#f7c138"/><stop offset=".846" stop-color="#e77235"/><stop offset=".855" stop-color="#c42f50"/><stop offset=".864" stop-color="#7f2f74"/><stop offset=".872" stop-color="#393577"/><stop offset=".881" stop-color="#28316d"/><stop offset=".899" stop-color="#2c326f"/><stop offset=".908" stop-color="#3c3678"/><stop offset=".917" stop-color="#7a3176"/><stop offset=".926" stop-color="#c32e51"/><stop offset=".944" stop-color="#e0603a"/><stop offset=".953" stop-color="#e26539"/><stop offset=".961" stop-color="#cd394a"/><stop offset=".97" stop-color="#a92561"/><stop offset=".979" stop-color="#753278"/><stop offset="1" stop-color="#6a367d"/></linearGradient>
<linearGradient id="h61" gradientUnits="userSpaceOnUse" x1="0" y1="403.8" x2="0" y2="740.8"><stop offset="0" stop-color="#9b2867"/><stop offset=".125" stop-color="#633880"/><stop offset=".187" stop-color="#593b85"/><stop offset=".383" stop-color="#9b2867"/><stop offset=".409" stop-color="#b2235d"/><stop offset=".436" stop-color="#c9354c"/><stop offset=".49" stop-color="#cc394a"/><stop offset=".516" stop-color="#b1235d"/><stop offset=".543" stop-color="#7b3176"/><stop offset=".552" stop-color="#783277"/><stop offset=".588" stop-color="#812f73"/><stop offset=".605" stop-color="#b8215a"/><stop offset=".614" stop-color="#d03d47"/><stop offset=".632" stop-color="#f2982f"/><stop offset=".65" stop-color="#f29e31"/><stop offset=".668" stop-color="#f29b30"/><stop offset=".677" stop-color="#ed842f"/><stop offset=".685" stop-color="#d94b40"/><stop offset=".694" stop-color="#ba2359"/><stop offset=".712" stop-color="#45387e"/><stop offset=".721" stop-color="#202f68"/><stop offset=".757" stop-color="#1f2f68"/><stop offset=".766" stop-color="#353474"/><stop offset=".774" stop-color="#6d357c"/><stop offset=".783" stop-color="#ae235e"/><stop offset=".792" stop-color="#d64442"/><stop offset=".801" stop-color="#ed8230"/><stop offset=".81" stop-color="#f29930"/><stop offset=".828" stop-color="#f29e31"/><stop offset=".846" stop-color="#f1902e"/><stop offset=".855" stop-color="#db513e"/><stop offset=".864" stop-color="#b92259"/><stop offset=".872" stop-color="#763278"/><stop offset=".881" stop-color="#41377b"/><stop offset=".908" stop-color="#483980"/><stop offset=".917" stop-color="#623881"/><stop offset=".926" stop-color="#ab2460"/><stop offset=".935" stop-color="#c7334e"/><stop offset=".953" stop-color="#dc543d"/><stop offset=".97" stop-color="#b6225b"/><stop offset=".979" stop-color="#8f2b6c"/><stop offset="1" stop-color="#842e71"/></linearGradient>
<linearGradient id="h62" gradientUnits="userSpaceOnUse" x1="0" y1="403.8" x2="0" y2="740.8"><stop offset="0" stop-color="#9b2867"/><stop offset=".125" stop-color="#6a367d"/><stop offset=".187" stop-color="#633880"/><stop offset=".392" stop-color="#8e2b6d"/><stop offset=".445" stop-color="#b92259"/><stop offset=".499" stop-color="#c12c52"/><stop offset=".525" stop-color="#b1235d"/><stop offset=".552" stop-color="#8c2c6e"/><stop offset=".57" stop-color="#852e71"/><stop offset=".596" stop-color="#8b2c6e"/><stop offset=".614" stop-color="#ad245f"/><stop offset=".632" stop-color="#d74641"/><stop offset=".641" stop-color="#e46c36"/><stop offset=".677" stop-color="#e67035"/><stop offset=".685" stop-color="#e36937"/><stop offset=".703" stop-color="#bc2557"/><stop offset=".721" stop-color="#623881"/><stop offset=".73" stop-color="#40377b"/><stop offset=".748" stop-color="#3d3679"/><stop offset=".774" stop-color="#4c3a82"/><stop offset=".792" stop-color="#ae235f"/><stop offset=".81" stop-color="#e16239"/><stop offset=".819" stop-color="#e56f36"/><stop offset=".855" stop-color="#e26439"/><stop offset=".872" stop-color="#ae235e"/><stop offset=".881" stop-color="#7c3075"/><stop offset=".89" stop-color="#5e3983"/><stop offset=".908" stop-color="#633880"/><stop offset=".917" stop-color="#763278"/><stop offset=".935" stop-color="#b92259"/><stop offset=".953" stop-color="#d13e46"/><stop offset=".97" stop-color="#bb2558"/><stop offset=".979" stop-color="#a52662"/><stop offset="1" stop-color="#9c2866"/></linearGradient>
<linearGradient id="h63" gradientUnits="userSpaceOnUse" x1="0" y1="403.8" x2="0" y2="740.8"><stop offset="0" stop-color="#9c2866"/><stop offset=".116" stop-color="#763278"/><stop offset=".187" stop-color="#70347a"/><stop offset=".401" stop-color="#842e71"/><stop offset=".516" stop-color="#b8215a"/><stop offset=".57" stop-color="#922a6b"/><stop offset=".596" stop-color="#952a6a"/><stop offset=".614" stop-color="#9b2867"/><stop offset=".632" stop-color="#ba2458"/><stop offset=".65" stop-color="#d44144"/><stop offset=".685" stop-color="#d84941"/><stop offset=".694" stop-color="#d74641"/><stop offset=".712" stop-color="#bc2557"/><stop offset=".739" stop-color="#653780"/><stop offset=".757" stop-color="#623881"/><stop offset=".783" stop-color="#6c357c"/><stop offset=".801" stop-color="#af235e"/><stop offset=".819" stop-color="#d44243"/><stop offset=".828" stop-color="#d74841"/><stop offset=".864" stop-color="#d34045"/><stop offset=".881" stop-color="#ad245f"/><stop offset=".89" stop-color="#8f2b6d"/><stop offset=".899" stop-color="#842e71"/><stop offset=".917" stop-color="#902b6c"/><stop offset=".935" stop-color="#ad245f"/><stop offset=".953" stop-color="#c53050"/><stop offset="1" stop-color="#ae235e"/></linearGradient>
<linearGradient id="h64" gradientUnits="userSpaceOnUse" x1="0" y1="403.8" x2="0" y2="740.8"><stop offset="0" stop-color="#a02765"/><stop offset=".142" stop-color="#7f2f74"/><stop offset=".392" stop-color="#822f72"/><stop offset=".525" stop-color="#b0235e"/><stop offset=".623" stop-color="#a42663"/><stop offset=".659" stop-color="#c32e51"/><stop offset=".694" stop-color="#c7334e"/><stop offset=".721" stop-color="#ba2458"/><stop offset=".748" stop-color="#8c2c6e"/><stop offset=".774" stop-color="#8a2c6f"/><stop offset=".792" stop-color="#8e2b6d"/><stop offset=".81" stop-color="#b1235d"/><stop offset=".828" stop-color="#c5304f"/><stop offset=".872" stop-color="#c42f51"/><stop offset=".908" stop-color="#a52663"/><stop offset=".953" stop-color="#bd2656"/><stop offset="1" stop-color="#b8215a"/></linearGradient>
<linearGradient id="h65" gradientUnits="userSpaceOnUse" x1="0" y1="403.8" x2="0" y2="740.8"><stop offset="0" stop-color="#a52663"/><stop offset=".134" stop-color="#8e2b6d"/><stop offset=".392" stop-color="#8d2c6d"/><stop offset=".543" stop-color="#b0235e"/><stop offset=".632" stop-color="#ae245f"/><stop offset=".677" stop-color="#bb2458"/><stop offset=".774" stop-color="#a82561"/><stop offset=".837" stop-color="#bb2458"/><stop offset="1" stop-color="#b8215a"/></linearGradient>
<linearGradient id="h66" gradientUnits="userSpaceOnUse" x1="0" y1="403.8" x2="0" y2="740.8"><stop offset="0" stop-color="#aa2460"/><stop offset=".134" stop-color="#9a2867"/><stop offset=".392" stop-color="#9d2866"/><stop offset=".57" stop-color="#b4225c"/><stop offset="1" stop-color="#b8215a"/></linearGradient>
<filter id="hbx" x="-5%" y="-5%" width="110%" height="110%"><feGaussianBlur stdDeviation="3 1.5"/></filter></defs>
<g clip-path="url(#clipH)">
<rect x="574" y="398.8" width="344" height="347" fill="#b8215a" />
<g filter="url(#hbx)"><rect x="578.7" y="403.8" width="5.6" height="337.0" fill="url(#h0)"/>
<rect x="583.7" y="403.8" width="5.6" height="337.0" fill="url(#h1)"/>
<rect x="588.7" y="403.8" width="5.6" height="337.0" fill="url(#h2)"/>
<rect x="593.7" y="403.8" width="5.6" height="337.0" fill="url(#h3)"/>
<rect x="598.7" y="403.8" width="5.6" height="337.0" fill="url(#h4)"/>
<rect x="603.7" y="403.8" width="5.6" height="337.0" fill="url(#h5)"/>
<rect x="608.7" y="403.8" width="5.6" height="337.0" fill="url(#h6)"/>
<rect x="613.7" y="403.8" width="5.6" height="337.0" fill="url(#h7)"/>
<rect x="618.7" y="403.8" width="5.6" height="337.0" fill="url(#h8)"/>
<rect x="623.7" y="403.8" width="5.6" height="337.0" fill="url(#h9)"/>
<rect x="628.7" y="403.8" width="5.6" height="337.0" fill="url(#h10)"/>
<rect x="633.7" y="403.8" width="5.6" height="337.0" fill="url(#h11)"/>
<rect x="638.7" y="403.8" width="5.6" height="337.0" fill="url(#h12)"/>
<rect x="643.7" y="403.8" width="5.6" height="337.0" fill="url(#h13)"/>
<rect x="648.7" y="403.8" width="5.6" height="337.0" fill="url(#h14)"/>
<rect x="653.7" y="403.8" width="5.6" height="337.0" fill="url(#h15)"/>
<rect x="658.7" y="403.8" width="5.6" height="337.0" fill="url(#h16)"/>
<rect x="663.7" y="403.8" width="5.6" height="337.0" fill="url(#h17)"/>
<rect x="668.7" y="403.8" width="5.6" height="337.0" fill="url(#h18)"/>
<rect x="673.7" y="403.8" width="5.6" height="337.0" fill="url(#h19)"/>
<rect x="678.7" y="403.8" width="5.6" height="337.0" fill="url(#h20)"/>
<rect x="683.7" y="403.8" width="5.6" height="337.0" fill="url(#h21)"/>
<rect x="688.7" y="403.8" width="5.6" height="337.0" fill="url(#h22)"/>
<rect x="693.7" y="403.8" width="5.6" height="337.0" fill="url(#h23)"/>
<rect x="698.7" y="403.8" width="5.6" height="337.0" fill="url(#h24)"/>
<rect x="703.7" y="403.8" width="5.6" height="337.0" fill="url(#h25)"/>
<rect x="708.7" y="403.8" width="5.6" height="337.0" fill="url(#h26)"/>
<rect x="713.7" y="403.8" width="5.6" height="337.0" fill="url(#h27)"/>
<rect x="718.7" y="403.8" width="5.6" height="337.0" fill="url(#h28)"/>
<rect x="723.7" y="403.8" width="5.6" height="337.0" fill="url(#h29)"/>
<rect x="728.7" y="403.8" width="5.6" height="337.0" fill="url(#h30)"/>
<rect x="733.7" y="403.8" width="5.6" height="337.0" fill="url(#h31)"/>
<rect x="738.7" y="403.8" width="5.6" height="337.0" fill="url(#h32)"/>
<rect x="743.7" y="403.8" width="5.6" height="337.0" fill="url(#h33)"/>
<rect x="748.7" y="403.8" width="5.6" height="337.0" fill="url(#h34)"/>
<rect x="753.7" y="403.8" width="5.6" height="337.0" fill="url(#h35)"/>
<rect x="758.7" y="403.8" width="5.6" height="337.0" fill="url(#h36)"/>
<rect x="763.7" y="403.8" width="5.6" height="337.0" fill="url(#h37)"/>
<rect x="768.7" y="403.8" width="5.6" height="337.0" fill="url(#h38)"/>
<rect x="773.7" y="403.8" width="5.6" height="337.0" fill="url(#h39)"/>
<rect x="778.7" y="403.8" width="5.6" height="337.0" fill="url(#h40)"/>
<rect x="783.7" y="403.8" width="5.6" height="337.0" fill="url(#h41)"/>
<rect x="788.7" y="403.8" width="5.6" height="337.0" fill="url(#h42)"/>
<rect x="793.7" y="403.8" width="5.6" height="337.0" fill="url(#h43)"/>
<rect x="798.7" y="403.8" width="5.6" height="337.0" fill="url(#h44)"/>
<rect x="803.7" y="403.8" width="5.6" height="337.0" fill="url(#h45)"/>
<rect x="808.7" y="403.8" width="5.6" height="337.0" fill="url(#h46)"/>
<rect x="813.7" y="403.8" width="5.6" height="337.0" fill="url(#h47)"/>
<rect x="818.7" y="403.8" width="5.6" height="337.0" fill="url(#h48)"/>
<rect x="823.7" y="403.8" width="5.6" height="337.0" fill="url(#h49)"/>
<rect x="828.7" y="403.8" width="5.6" height="337.0" fill="url(#h50)"/>
<rect x="833.7" y="403.8" width="5.6" height="337.0" fill="url(#h51)"/>
<rect x="838.7" y="403.8" width="5.6" height="337.0" fill="url(#h52)"/>
<rect x="843.7" y="403.8" width="5.6" height="337.0" fill="url(#h53)"/>
<rect x="848.7" y="403.8" width="5.6" height="337.0" fill="url(#h54)"/>
<rect x="853.7" y="403.8" width="5.6" height="337.0" fill="url(#h55)"/>
<rect x="858.7" y="403.8" width="5.6" height="337.0" fill="url(#h56)"/>
<rect x="863.7" y="403.8" width="5.6" height="337.0" fill="url(#h57)"/>
<rect x="868.7" y="403.8" width="5.6" height="337.0" fill="url(#h58)"/>
<rect x="873.7" y="403.8" width="5.6" height="337.0" fill="url(#h59)"/>
<rect x="878.7" y="403.8" width="5.6" height="337.0" fill="url(#h60)"/>
<rect x="883.7" y="403.8" width="5.6" height="337.0" fill="url(#h61)"/>
<rect x="888.7" y="403.8" width="5.6" height="337.0" fill="url(#h62)"/>
<rect x="893.7" y="403.8" width="5.6" height="337.0" fill="url(#h63)"/>
<rect x="898.7" y="403.8" width="5.6" height="337.0" fill="url(#h64)"/>
<rect x="903.7" y="403.8" width="5.6" height="337.0" fill="url(#h65)"/>
<rect x="908.7" y="403.8" width="5.6" height="337.0" fill="url(#h66)"/>
</g>
<line x1="827.2" y1="403.8" x2="827.2" y2="740.8" stroke="#f4e8f0" stroke-width="2.6" stroke-dasharray="7 5" />
</g>
<circle cx="613.4" cy="519.4" r="12.5" fill="none" stroke="#1a0a18" stroke-width="1.6" />
<circle cx="613.4" cy="519.4" r="4.6" fill="#0a0408" />
<line x1="613.4" y1="507" x2="613.4" y2="452" stroke="#1a0a18" stroke-width="1.6" />
<polygon points="613.4,443 609,456 617.8,456" fill="#0a0408" />
<line x1="621" y1="510" x2="655" y2="468" stroke="#1a0a18" stroke-width="1.6" />
<polygon points="662,460 650,465 657,472.5" fill="#0a0408" />
<path d="M613.4,496 Q622,495 628,502" fill="none" stroke="#2a1020" stroke-width="1.2" />
<text x="608" y="440" font-family="Liberation Sans, sans-serif" font-size="19" font-weight="bold" font-style="italic" fill="#fff"  stroke="#fff" stroke-width="0.5">k</text>
<text x="665" y="465" font-family="Liberation Sans, sans-serif" font-size="19" font-weight="bold" font-style="italic" fill="#fff"  stroke="#fff" stroke-width="0.5">H</text>
<text x="628" y="535" font-family="Liberation Sans, sans-serif" font-size="19" font-weight="bold" font-style="italic" fill="#fff"  stroke="#fff" stroke-width="0.5">n</text>
<text x="619" y="487" font-family="Liberation Sans, sans-serif" font-size="17" fill="#f8c8d8"  stroke="#f8c8d8" stroke-width="0.5">θ</text>
<text x="731" y="430" font-family="Liberation Sans, sans-serif" font-size="19" fill="#fde0ec"  stroke="#fde0ec" stroke-width="0.5"><tspan font-style="italic">S</tspan><tspan dy="5" font-size="11">12</tspan></text>
<rect x="579" y="403.8" width="334" height="337" fill="none" stroke="#4a3a4a" stroke-width="2" />
<rect x="913" y="403.8" width="135" height="337" fill="#fff" stroke="#3a3a3a" stroke-width="2" />
<line x1="579" y1="485.7" x2="584" y2="485.7" stroke="#222" stroke-width="1.5" />
<line x1="908" y1="485.7" x2="918" y2="485.7" stroke="#222" stroke-width="1.5" />
<line x1="1044" y1="485.7" x2="1048" y2="485.7" stroke="#222" stroke-width="1.5" />
<text x="574" y="493.5" font-family="Liberation Sans, sans-serif" font-size="22" text-anchor="end" fill="#2a2a2a"  stroke="#2a2a2a" stroke-width="0.5">3.6</text>
<line x1="579" y1="572.4" x2="584" y2="572.4" stroke="#222" stroke-width="1.5" />
<line x1="908" y1="572.4" x2="918" y2="572.4" stroke="#222" stroke-width="1.5" />
<line x1="1044" y1="572.4" x2="1048" y2="572.4" stroke="#222" stroke-width="1.5" />
<text x="574" y="580.2" font-family="Liberation Sans, sans-serif" font-size="22" text-anchor="end" fill="#2a2a2a"  stroke="#2a2a2a" stroke-width="0.5">3.4</text>
<line x1="579" y1="658.4" x2="584" y2="658.4" stroke="#222" stroke-width="1.5" />
<line x1="908" y1="658.4" x2="918" y2="658.4" stroke="#222" stroke-width="1.5" />
<line x1="1044" y1="658.4" x2="1048" y2="658.4" stroke="#222" stroke-width="1.5" />
<text x="574" y="666.2" font-family="Liberation Sans, sans-serif" font-size="22" text-anchor="end" fill="#2a2a2a"  stroke="#2a2a2a" stroke-width="0.5">3.2</text>
<text x="576" y="763" font-family="Liberation Sans, sans-serif" font-size="22" text-anchor="middle" fill="#2a2a2a"  stroke="#2a2a2a" stroke-width="0.5">-180</text>
<text x="657" y="763" font-family="Liberation Sans, sans-serif" font-size="22" text-anchor="middle" fill="#2a2a2a"  stroke="#2a2a2a" stroke-width="0.5">-90</text>
<text x="741.5" y="763" font-family="Liberation Sans, sans-serif" font-size="22" text-anchor="middle" fill="#2a2a2a"  stroke="#2a2a2a" stroke-width="0.5">0</text>
<text x="827" y="763" font-family="Liberation Sans, sans-serif" font-size="22" text-anchor="middle" fill="#2a2a2a"  stroke="#2a2a2a" stroke-width="0.5">90</text>
<text x="897" y="763" font-family="Liberation Sans, sans-serif" font-size="22" text-anchor="middle" fill="#2a2a2a"  stroke="#2a2a2a" stroke-width="0.5">180</text>
<line x1="660" y1="740.8" x2="660" y2="735.8" stroke="#222" stroke-width="1.5" />
<line x1="660" y1="403.8" x2="660" y2="408.8" stroke="#222" stroke-width="1.5" />
<line x1="741.5" y1="740.8" x2="741.5" y2="735.8" stroke="#222" stroke-width="1.5" />
<line x1="741.5" y1="403.8" x2="741.5" y2="408.8" stroke="#222" stroke-width="1.5" />
<line x1="827" y1="740.8" x2="827" y2="735.8" stroke="#222" stroke-width="1.5" />
<line x1="827" y1="403.8" x2="827" y2="408.8" stroke="#222" stroke-width="1.5" />
<text x="925" y="763" font-family="Liberation Sans, sans-serif" font-size="22" text-anchor="middle" fill="#2a2a2a"  stroke="#2a2a2a" stroke-width="0.5">-4</text>
<line x1="926" y1="740.8" x2="926" y2="736.8" stroke="#222" stroke-width="1.3" />
<text x="953" y="763" font-family="Liberation Sans, sans-serif" font-size="22" text-anchor="middle" fill="#2a2a2a"  stroke="#2a2a2a" stroke-width="0.5">-2</text>
<line x1="953.5" y1="740.8" x2="953.5" y2="736.8" stroke="#222" stroke-width="1.3" />
<text x="981" y="763" font-family="Liberation Sans, sans-serif" font-size="22" text-anchor="middle" fill="#2a2a2a"  stroke="#2a2a2a" stroke-width="0.5">0</text>
<line x1="981" y1="740.8" x2="981" y2="736.8" stroke="#222" stroke-width="1.3" />
<text x="1008" y="763" font-family="Liberation Sans, sans-serif" font-size="22" text-anchor="middle" fill="#2a2a2a"  stroke="#2a2a2a" stroke-width="0.5">2</text>
<line x1="1008.5" y1="740.8" x2="1008.5" y2="736.8" stroke="#222" stroke-width="1.3" />
<text x="1034.5" y="763" font-family="Liberation Sans, sans-serif" font-size="22" text-anchor="middle" fill="#2a2a2a"  stroke="#2a2a2a" stroke-width="0.5">4</text>
<line x1="1036" y1="740.8" x2="1036" y2="736.8" stroke="#222" stroke-width="1.3" />
<text font-family="Liberation Sans, sans-serif" font-size="22" text-anchor="middle" fill="#2a2a2a" transform="translate(745 787) scale(1.060 1)"  stroke="#2a2a2a" stroke-width="0.5">θ (deg)</text>
<text font-family="Liberation Sans, sans-serif" font-size="22" text-anchor="middle" fill="#2a2a2a" transform="translate(985.5 787) scale(1.040 1)"  stroke="#2a2a2a" stroke-width="0.5">IMG (arb. units)</text>
<text x="526.5" y="608" font-family="Liberation Sans, sans-serif" font-size="22" fill="#2a2a2a" transform="rotate(-90 526.5 608)" textLength="69.5" lengthAdjust="spacingAndGlyphs" stroke="#2a2a2a" stroke-width="0.5"><tspan font-style="italic">f</tspan> (GHz)</text>
<path d="M990.5,403.6 C990.62,407.52 992.6,418.95 991.2,427.1 C989.8,435.25 984.22,445.25 982.1,452.5 C979.98,459.75 977.58,463.95 978.5,470.6 C979.42,477.25 984.77,485.75 987.6,492.4 C990.43,499.05 995.5,504.47 995.5,510.5 C995.5,516.53 993.02,522.85 987.6,528.6 C982.18,534.35 967.6,540.93 963,545 C958.4,549.07 958.93,549.7 960,553 C961.07,556.3 961.07,559.97 969.4,564.8 C977.73,569.63 1000.63,578.07 1010,582 C1019.37,585.93 1025.6,586.23 1025.6,588.4 C1025.6,590.57 1018.77,591.68 1010,595 C1001.23,598.32 985.5,604.63 973,608.3 C960.5,611.97 942.53,614.88 935,617 C927.47,619.12 927.8,619.67 927.8,621 C927.8,622.33 927.47,622.88 935,625 C942.53,627.12 958.83,630.03 973,633.7 C987.17,637.37 1009.42,643.8 1020,647 C1030.58,650.2 1036.5,650.9 1036.5,652.9 C1036.5,654.9 1027.55,656.77 1020,659 C1012.45,661.23 1001.2,663.13 991.2,666.3 C981.2,669.47 966.05,674.95 960,678 C953.95,681.05 954.83,681.1 954.9,684.6 C954.97,688.1 956.22,695.27 960.4,699 C964.58,702.73 975.47,704.9 980,707 C984.53,709.1 987.85,708.72 987.6,711.6 C987.35,714.48 981.83,719.47 978.5,724.3 C975.17,729.13 969.42,737.88 967.6,740.6" fill="none" stroke="#e0202a" stroke-width="2.4" />
<line x1="995" y1="588.4" x2="1068" y2="588.4" stroke="#222" stroke-width="1.6" stroke-dasharray="4 4" />
<line x1="993" y1="652.9" x2="1068" y2="652.9" stroke="#222" stroke-width="1.6" stroke-dasharray="4 4" />
<line x1="1058.5" y1="598" x2="1058.5" y2="643" stroke="#111" stroke-width="1.6" />
<polygon points="1058.5,589.5 1053,600 1064,600" fill="#111" />
<polygon points="1058.5,652 1053,641 1064,641" fill="#111" />
<text x="1066" y="627" font-family="Liberation Sans, sans-serif" font-size="17" fill="#3a3a3a"  stroke="#3a3a3a" stroke-width="0.5">Δ <tspan font-style="italic">f</tspan><tspan dy="5" font-size="10">+</tspan></text>
</g>
<g id="panel_d3">
<line x1="1219.7" y1="686" x2="1547" y2="471.5" stroke="#e0202a" stroke-width="2.5" />
<line x1="1219.7" y1="680" x2="1219.7" y2="720" stroke="#111" stroke-width="2" />
<line x1="1211.7" y1="680" x2="1227.7" y2="680" stroke="#111" stroke-width="2" />
<rect x="1212.2" y="699.6" width="15" height="15" fill="#050505" />
<line x1="1251.6" y1="624.9" x2="1251.6" y2="680.1" stroke="#111" stroke-width="2" />
<line x1="1243.6" y1="624.9" x2="1259.6" y2="624.9" stroke="#111" stroke-width="2" />
<line x1="1243.6" y1="680.1" x2="1259.6" y2="680.1" stroke="#111" stroke-width="2" />
<rect x="1244.1" y="645.3" width="15" height="15" fill="#050505" />
<line x1="1314.6" y1="569" x2="1314.6" y2="597.6" stroke="#111" stroke-width="2" />
<line x1="1306.6" y1="569" x2="1322.6" y2="569" stroke="#111" stroke-width="2" />
<line x1="1306.6" y1="597.6" x2="1322.6" y2="597.6" stroke="#111" stroke-width="2" />
<rect x="1307.1" y="579.4" width="15" height="15" fill="#050505" />
<line x1="1439.1" y1="543" x2="1439.1" y2="597.3" stroke="#111" stroke-width="2" />
<line x1="1431.1" y1="543" x2="1447.1" y2="543" stroke="#111" stroke-width="2" />
<line x1="1431.1" y1="597.3" x2="1447.1" y2="597.3" stroke="#111" stroke-width="2" />
<rect x="1431.6" y="562.1" width="15" height="15" fill="#050505" />
<line x1="1547" y1="454.6" x2="1547" y2="498.1" stroke="#111" stroke-width="2" />
<line x1="1539" y1="454.6" x2="1555" y2="454.6" stroke="#111" stroke-width="2" />
<line x1="1539" y1="498.1" x2="1555" y2="498.1" stroke="#111" stroke-width="2" />
<rect x="1539.5" y="458.5" width="15" height="15" fill="#050505" />
<rect x="1189" y="426" width="388" height="294" fill="none" stroke="#111" stroke-width="3" />
<line x1="1189" y1="707.1" x2="1196" y2="707.1" stroke="#111" stroke-width="2" />
<line x1="1577" y1="707.1" x2="1570" y2="707.1" stroke="#111" stroke-width="2" />
<text font-family="Liberation Sans, sans-serif" font-size="27" text-anchor="end" fill="#1a1a1a" transform="translate(1183 716.6) scale(1.070 1)"  stroke="#1a1a1a" stroke-width="0.5">0</text>
<line x1="1189" y1="569.8" x2="1196" y2="569.8" stroke="#111" stroke-width="2" />
<line x1="1577" y1="569.8" x2="1570" y2="569.8" stroke="#111" stroke-width="2" />
<text font-family="Liberation Sans, sans-serif" font-size="27" text-anchor="end" fill="#1a1a1a" transform="translate(1183 579.3) scale(1.070 1)"  stroke="#1a1a1a" stroke-width="0.5">50</text>
<line x1="1189" y1="432.5" x2="1196" y2="432.5" stroke="#111" stroke-width="2" />
<line x1="1577" y1="432.5" x2="1570" y2="432.5" stroke="#111" stroke-width="2" />
<text font-family="Liberation Sans, sans-serif" font-size="27" text-anchor="end" fill="#1a1a1a" transform="translate(1183 442) scale(1.070 1)"  stroke="#1a1a1a" stroke-width="0.5">100</text>
<line x1="1189" y1="638.45" x2="1193" y2="638.45" stroke="#111" stroke-width="1.5" />
<line x1="1577" y1="638.45" x2="1573" y2="638.45" stroke="#111" stroke-width="1.5" />
<line x1="1189" y1="501.15" x2="1193" y2="501.15" stroke="#111" stroke-width="1.5" />
<line x1="1577" y1="501.15" x2="1573" y2="501.15" stroke="#111" stroke-width="1.5" />
<text font-family="Liberation Sans, sans-serif" font-size="27" text-anchor="middle" fill="#1a1a1a" transform="translate(1188 747) scale(1.070 1)"  stroke="#1a1a1a" stroke-width="0.5">0</text>
<line x1="1314.1" y1="720" x2="1314.1" y2="713" stroke="#111" stroke-width="2" />
<line x1="1314.1" y1="426" x2="1314.1" y2="433" stroke="#111" stroke-width="2" />
<text font-family="Liberation Sans, sans-serif" font-size="27" text-anchor="middle" fill="#1a1a1a" transform="translate(1314.1 747) scale(1.070 1)"  stroke="#1a1a1a" stroke-width="0.5">0.05</text>
<line x1="1439.3" y1="720" x2="1439.3" y2="713" stroke="#111" stroke-width="2" />
<line x1="1439.3" y1="426" x2="1439.3" y2="433" stroke="#111" stroke-width="2" />
<text font-family="Liberation Sans, sans-serif" font-size="27" text-anchor="middle" fill="#1a1a1a" transform="translate(1439.3 747) scale(1.070 1)"  stroke="#1a1a1a" stroke-width="0.5">0.10</text>
<line x1="1564.5" y1="720" x2="1564.5" y2="713" stroke="#111" stroke-width="2" />
<line x1="1564.5" y1="426" x2="1564.5" y2="433" stroke="#111" stroke-width="2" />
<text font-family="Liberation Sans, sans-serif" font-size="27" text-anchor="middle" fill="#1a1a1a" transform="translate(1564.5 747) scale(1.070 1)"  stroke="#1a1a1a" stroke-width="0.5">0.15</text>
<line x1="1251.5" y1="720" x2="1251.5" y2="716" stroke="#111" stroke-width="1.5" />
<line x1="1251.5" y1="426" x2="1251.5" y2="430" stroke="#111" stroke-width="1.5" />
<line x1="1376.7" y1="720" x2="1376.7" y2="716" stroke="#111" stroke-width="1.5" />
<line x1="1376.7" y1="426" x2="1376.7" y2="430" stroke="#111" stroke-width="1.5" />
<line x1="1501.9" y1="720" x2="1501.9" y2="716" stroke="#111" stroke-width="1.5" />
<line x1="1501.9" y1="426" x2="1501.9" y2="430" stroke="#111" stroke-width="1.5" />
<text x="1337" y="783" font-family="Liberation Sans, sans-serif" font-size="29" fill="#1a1a1a" textLength="112" lengthAdjust="spacingAndGlyphs" stroke="#1a1a1a" stroke-width="0.5">1/<tspan font-style="italic">t</tspan> (nm<tspan dy="-10" font-size="15">-1</tspan><tspan dy="10">)</tspan></text>
<text x="1121" y="624" font-family="Liberation Sans, sans-serif" font-size="28.5" fill="#1a1a1a" transform="rotate(-90 1121 624)" textLength="113" lengthAdjust="spacingAndGlyphs" stroke="#1a1a1a" stroke-width="0.5">δ<tspan font-style="italic">v</tspan><tspan dy="6" font-size="16">g</tspan><tspan dy="-6"> (m/s)</tspan></text>
</g>
<g id="panel_e1">
<text font-family="Liberation Sans, sans-serif" font-size="33.42" fill="#2a2a2a" transform="translate(19.27 800.48) scale(0.986 1)"  stroke="#2a2a2a" stroke-width="0.6">(e)</text>
<defs>
<filter id="gb1" x="-10%" y="-10%" width="120%" height="120%"><feGaussianBlur stdDeviation="3.2"/></filter>
<filter id="gb2" x="-10%" y="-10%" width="120%" height="120%"><feGaussianBlur stdDeviation="14"/></filter>
<filter id="gb0" x="-10%" y="-10%" width="120%" height="120%"><feGaussianBlur stdDeviation="1.4"/></filter>
<filter id="gb3" x="-10%" y="-10%" width="120%" height="120%"><feGaussianBlur stdDeviation="5"/></filter>
<clipPath id="clipEa"><rect x="169.5" y="812.7" width="433.3" height="329"/></clipPath>
<clipPath id="clipEb"><rect x="169.5" y="1189.5" width="433.3" height="331"/></clipPath>
<radialGradient id="dotG"><stop offset="0" stop-color="#fff27a"/><stop offset="0.45" stop-color="#ffd21f"/><stop offset="0.75" stop-color="#f07a1a"/><stop offset="1" stop-color="#e0252d"/></radialGradient>
</defs>
<g clip-path="url(#clipEa)">
<rect x="160" y="805" width="450" height="345" fill="#c9c9c9" />
<g filter="url(#gb2)">
<ellipse cx="330" cy="850" rx="55" ry="35" fill="#f2f2f2" opacity="0.8"/>
<ellipse cx="420" cy="835" rx="40" ry="30" fill="#f4f4f4" opacity="0.8"/>
<ellipse cx="590" cy="860" rx="25" ry="30" fill="#f4f4f4" opacity="0.7"/>
<ellipse cx="230" cy="1100" rx="70" ry="45" fill="#ececec" opacity="0.9"/>
<ellipse cx="560" cy="1110" rx="50" ry="35" fill="#d8d8d8" opacity="0.7"/>
<ellipse cx="200" cy="865" rx="30" ry="30" fill="#8a8a8a" opacity="0.55"/>
<ellipse cx="330" cy="985" rx="55" ry="22" fill="#8f8f8f" opacity="0.6"/>
<ellipse cx="450" cy="1000" rx="60" ry="22" fill="#8f8f8f" opacity="0.6"/>
<ellipse cx="440" cy="1045" rx="120" ry="16" fill="#8a8a8a" opacity="0.6"/>
<ellipse cx="500" cy="1020" rx="100" ry="14" fill="#6f6f6f" opacity="0.6"/>
<ellipse cx="405" cy="850" rx="50" ry="40" fill="#fafafa" opacity="0.7"/>
<ellipse cx="560" cy="935" rx="50" ry="25" fill="#8f8f8f" opacity="0.5"/>
<ellipse cx="245" cy="935" rx="45" ry="25" fill="#8f8f8f" opacity="0.5"/>
</g>
<g filter="url(#gb3)">
<path d="M167,877.6 C170.42,880.47 179.92,895.32 187.5,894.8 C195.08,894.28 204.17,881.53 212.5,874.5 C220.83,867.47 229.68,859.88 237.5,852.6 C245.32,845.32 251.65,838.4 259.4,830.8 C267.15,823.2 279.9,810.97 284,807" fill="none" stroke="#1a1a1a" stroke-width="13" opacity="0.105" stroke-linecap="round"/>
<path d="M292,807 C292.82,807.57 291.92,805.13 296.9,810.4 C301.88,815.67 312.53,829.22 321.9,838.6 C331.27,847.98 342.48,857.33 353.1,866.7 C363.72,876.07 380.18,890.12 385.6,894.8" fill="none" stroke="#1a1a1a" stroke-width="13" opacity="0.165" stroke-linecap="round"/>
<path d="M385.6,894.8 C392.9,888.55 416.38,868.77 429.4,857.3 C442.42,845.83 454.98,834.38 463.75,826 C472.52,817.62 478.96,810.17 482,807" fill="none" stroke="#1a1a1a" stroke-width="13" opacity="0.165" stroke-linecap="round"/>
<path d="M492,807 C492.5,807.57 490.6,805.92 495,810.4 C499.4,814.88 510.58,826.08 518.4,833.9 C526.22,841.72 534.08,850.28 541.9,857.3 C549.72,864.32 558.28,870.53 565.3,876 C572.32,881.47 576.97,885.14 584,890.1 C591.03,895.06 603.58,903.14 607.5,905.75" fill="none" stroke="#1a1a1a" stroke-width="13" opacity="0.09" stroke-linecap="round"/>
<path d="M167,912 C168.83,910.33 174.58,904.58 178,902 C181.42,899.42 183.83,896.33 187.5,896.5 C191.17,896.67 192.92,898.25 200,903 C207.08,907.75 220,917.67 230,925 C240,932.33 251.72,941.25 260,947 C268.28,952.75 274.7,957.25 279.7,959.5 C284.7,961.75 286.88,961.38 290,960.5 C293.12,959.62 291.78,958.38 298.4,954.2 C305.02,950.02 319.28,942.43 329.7,935.4 C340.12,928.37 351.58,918.23 360.9,912 C370.22,905.77 381.48,900.33 385.6,898" fill="none" stroke="#1a1a1a" stroke-width="13" opacity="0.3" stroke-linecap="round"/>
<path d="M385.6,898 C390.82,901.9 406.48,913.33 416.9,921.4 C427.32,929.47 438.98,940.15 448.1,946.4 C457.22,952.65 465.62,956.55 471.6,958.9 C477.58,961.25 478.8,961.55 484,960.5 C489.2,959.45 493.15,958.08 502.8,952.6 C512.45,947.12 528.88,936.45 541.9,927.6 C554.92,918.75 569.97,907.57 580.9,899.5 C591.83,891.43 603.07,882.58 607.5,879.2" fill="none" stroke="#1a1a1a" stroke-width="13" opacity="0.3" stroke-linecap="round"/>
<path d="M167.2,1007.3 C170.58,1007.04 179.95,1007.3 187.5,1005.75 C195.05,1004.2 203.12,1001.64 212.5,998 C221.88,994.36 233.85,988.08 243.75,983.9 C253.65,979.72 265.36,974.97 271.9,972.9 C278.44,970.83 279.88,971.23 283,971.5 C286.12,971.77 284.12,971.65 290.6,974.5 C297.08,977.35 311.48,984.18 321.9,988.6 C332.32,993.02 344.75,998.02 353.1,1001 C361.45,1003.98 366.58,1005.83 372,1006.5 C377.42,1007.17 380.73,1006.17 385.6,1005 C390.48,1003.83 393.43,1002.77 401.25,999.5 C409.07,996.23 422.08,989.83 432.5,985.4 C442.92,980.97 455.83,975.55 463.75,972.9 C471.67,970.25 475.83,969.23 480,969.5 C484.17,969.77 483.65,971.85 488.75,974.5 C493.85,977.15 501.74,981.23 510.6,985.4 C519.46,989.57 532.78,996.11 541.9,999.5 C551.02,1002.89 557.49,1005 565.3,1005.75 C573.11,1006.5 581.72,1005.29 588.75,1004 C595.78,1002.71 604.38,999 607.5,998" fill="none" stroke="#1a1a1a" stroke-width="13" opacity="0.255" stroke-linecap="round"/>
<path d="M167.2,1030 C174.75,1030.93 197.13,1034.43 212.5,1035.6 C227.87,1036.77 246.38,1037 259.4,1037 C272.42,1037 277.58,1036.77 290.6,1035.6 C303.62,1034.43 324.48,1031.05 337.5,1030 C350.52,1028.95 355.52,1028.37 368.75,1029.3 C381.98,1030.23 401.07,1034.32 416.9,1035.6 C432.73,1036.88 448.13,1037.13 463.75,1037 C479.37,1036.87 497.58,1036.08 510.6,1034.8 C523.62,1033.52 532.78,1030.22 541.9,1029.3 C551.02,1028.38 554.37,1028.25 565.3,1029.3 C576.23,1030.35 600.47,1034.55 607.5,1035.6" fill="none" stroke="#1a1a1a" stroke-width="13" opacity="0.21" stroke-linecap="round"/>
</g>
<g filter="url(#gb0)">
<path d="M167,879.8 C170.42,882.67 179.92,897.52 187.5,897 C195.08,896.48 204.17,883.73 212.5,876.7 C220.83,869.67 229.68,862.08 237.5,854.8 C245.32,847.52 251.65,840.6 259.4,833 C267.15,825.4 279.9,813.17 284,809.2" fill="none" stroke="#1a1a1a" stroke-width="3.6" opacity="0.217" stroke-linecap="round"/>
<path d="M292,809.2 C292.82,809.77 291.92,807.33 296.9,812.6 C301.88,817.87 312.53,831.42 321.9,840.8 C331.27,850.18 342.48,859.53 353.1,868.9 C363.72,878.27 380.18,892.32 385.6,897" fill="none" stroke="#1a1a1a" stroke-width="3.6" opacity="0.341" stroke-linecap="round"/>
<path d="M385.6,897 C392.9,890.75 416.38,870.97 429.4,859.5 C442.42,848.03 454.98,836.58 463.75,828.2 C472.52,819.82 478.96,812.37 482,809.2" fill="none" stroke="#1a1a1a" stroke-width="3.6" opacity="0.341" stroke-linecap="round"/>
<path d="M492,809.2 C492.5,809.77 490.6,808.12 495,812.6 C499.4,817.08 510.58,828.28 518.4,836.1 C526.22,843.92 534.08,852.48 541.9,859.5 C549.72,866.52 558.28,872.73 565.3,878.2 C572.32,883.67 576.97,887.34 584,892.3 C591.03,897.26 603.58,905.34 607.5,907.95" fill="none" stroke="#1a1a1a" stroke-width="3.6" opacity="0.186" stroke-linecap="round"/>
<path d="M167,914.2 C168.83,912.53 174.58,906.78 178,904.2 C181.42,901.62 183.83,898.53 187.5,898.7 C191.17,898.87 192.92,900.45 200,905.2 C207.08,909.95 220,919.87 230,927.2 C240,934.53 251.72,943.45 260,949.2 C268.28,954.95 274.7,959.45 279.7,961.7 C284.7,963.95 286.88,963.58 290,962.7 C293.12,961.82 291.78,960.58 298.4,956.4 C305.02,952.22 319.28,944.63 329.7,937.6 C340.12,930.57 351.58,920.43 360.9,914.2 C370.22,907.97 381.48,902.53 385.6,900.2" fill="none" stroke="#1a1a1a" stroke-width="3.6" opacity="0.62" stroke-linecap="round"/>
<path d="M385.6,900.2 C390.82,904.1 406.48,915.53 416.9,923.6 C427.32,931.67 438.98,942.35 448.1,948.6 C457.22,954.85 465.62,958.75 471.6,961.1 C477.58,963.45 478.8,963.75 484,962.7 C489.2,961.65 493.15,960.28 502.8,954.8 C512.45,949.32 528.88,938.65 541.9,929.8 C554.92,920.95 569.97,909.77 580.9,901.7 C591.83,893.63 603.07,884.78 607.5,881.4" fill="none" stroke="#1a1a1a" stroke-width="3.6" opacity="0.62" stroke-linecap="round"/>
<path d="M167.2,1009.5 C170.58,1009.24 179.95,1009.5 187.5,1007.95 C195.05,1006.4 203.12,1003.84 212.5,1000.2 C221.88,996.56 233.85,990.28 243.75,986.1 C253.65,981.92 265.36,977.17 271.9,975.1 C278.44,973.03 279.88,973.43 283,973.7 C286.12,973.97 284.12,973.85 290.6,976.7 C297.08,979.55 311.48,986.38 321.9,990.8 C332.32,995.22 344.75,1000.22 353.1,1003.2 C361.45,1006.18 366.58,1008.03 372,1008.7 C377.42,1009.37 380.73,1008.37 385.6,1007.2 C390.48,1006.03 393.43,1004.97 401.25,1001.7 C409.07,998.43 422.08,992.03 432.5,987.6 C442.92,983.17 455.83,977.75 463.75,975.1 C471.67,972.45 475.83,971.43 480,971.7 C484.17,971.97 483.65,974.05 488.75,976.7 C493.85,979.35 501.74,983.43 510.6,987.6 C519.46,991.77 532.78,998.31 541.9,1001.7 C551.02,1005.09 557.49,1007.2 565.3,1007.95 C573.11,1008.7 581.72,1007.49 588.75,1006.2 C595.78,1004.91 604.38,1001.2 607.5,1000.2" fill="none" stroke="#1a1a1a" stroke-width="3.6" opacity="0.527" stroke-linecap="round"/>
<path d="M167.2,1032.2 C174.75,1033.13 197.13,1036.63 212.5,1037.8 C227.87,1038.97 246.38,1039.2 259.4,1039.2 C272.42,1039.2 277.58,1038.97 290.6,1037.8 C303.62,1036.63 324.48,1033.25 337.5,1032.2 C350.52,1031.15 355.52,1030.57 368.75,1031.5 C381.98,1032.43 401.07,1036.52 416.9,1037.8 C432.73,1039.08 448.13,1039.33 463.75,1039.2 C479.37,1039.07 497.58,1038.28 510.6,1037 C523.62,1035.72 532.78,1032.42 541.9,1031.5 C551.02,1030.58 554.37,1030.45 565.3,1031.5 C576.23,1032.55 600.47,1036.75 607.5,1037.8" fill="none" stroke="#1a1a1a" stroke-width="3.6" opacity="0.434" stroke-linecap="round"/>
</g>
<line x1="186.7" y1="805" x2="186.7" y2="1150" stroke="#d8dcf4" stroke-width="4.6" stroke-dasharray="10 6.5" opacity="0.8"/>
<line x1="186.7" y1="805" x2="186.7" y2="1150" stroke="#4a52a8" stroke-width="2.7" stroke-dasharray="10 6.5" />
<line x1="286" y1="805" x2="286" y2="1150" stroke="#d8dcf4" stroke-width="4.6" stroke-dasharray="10 6.5" opacity="0.8"/>
<line x1="286" y1="805" x2="286" y2="1150" stroke="#4a52a8" stroke-width="2.7" stroke-dasharray="10 6.5" />
<line x1="385.6" y1="805" x2="385.6" y2="1150" stroke="#d8dcf4" stroke-width="4.6" stroke-dasharray="10 6.5" opacity="0.8"/>
<line x1="385.6" y1="805" x2="385.6" y2="1150" stroke="#4a52a8" stroke-width="2.7" stroke-dasharray="10 6.5" />
<line x1="484.8" y1="805" x2="484.8" y2="1150" stroke="#d8dcf4" stroke-width="4.6" stroke-dasharray="10 6.5" opacity="0.8"/>
<line x1="484.8" y1="805" x2="484.8" y2="1150" stroke="#4a52a8" stroke-width="2.7" stroke-dasharray="10 6.5" />
<line x1="584.8" y1="805" x2="584.8" y2="1150" stroke="#d8dcf4" stroke-width="4.6" stroke-dasharray="10 6.5" opacity="0.8"/>
<line x1="584.8" y1="805" x2="584.8" y2="1150" stroke="#4a52a8" stroke-width="2.7" stroke-dasharray="10 6.5" />
<path d="M167,880.6 C170.42,883.47 179.92,898.32 187.5,897.8 C195.08,897.28 204.17,884.53 212.5,877.5 C220.83,870.47 229.68,862.88 237.5,855.6 C245.32,848.32 251.65,841.4 259.4,833.8 C267.15,826.2 279.9,813.97 284,810" fill="none" stroke="#e0252d" stroke-width="3.1" stroke-dasharray="0.1 5.6" stroke-linecap="round"/>
<path d="M292,810 C292.82,810.57 291.92,808.13 296.9,813.4 C301.88,818.67 312.53,832.22 321.9,841.6 C331.27,850.98 342.48,860.33 353.1,869.7 C363.72,879.07 380.18,893.12 385.6,897.8" fill="none" stroke="#e0252d" stroke-width="3.1" stroke-dasharray="0.1 5.6" stroke-linecap="round"/>
<path d="M385.6,897.8 C392.9,891.55 416.38,871.77 429.4,860.3 C442.42,848.83 454.98,837.38 463.75,829 C472.52,820.62 478.96,813.17 482,810" fill="none" stroke="#e0252d" stroke-width="3.1" stroke-dasharray="0.1 5.6" stroke-linecap="round"/>
<path d="M492,810 C492.5,810.57 490.6,808.92 495,813.4 C499.4,817.88 510.58,829.08 518.4,836.9 C526.22,844.72 534.08,853.28 541.9,860.3 C549.72,867.32 558.28,873.53 565.3,879 C572.32,884.47 576.97,888.14 584,893.1 C591.03,898.06 603.58,906.14 607.5,908.75" fill="none" stroke="#e0252d" stroke-width="3.1" stroke-dasharray="0.1 5.6" stroke-linecap="round"/>
<path d="M167,915 C168.83,913.33 174.58,907.58 178,905 C181.42,902.42 183.83,899.33 187.5,899.5 C191.17,899.67 192.92,901.25 200,906 C207.08,910.75 220,920.67 230,928 C240,935.33 251.72,944.25 260,950 C268.28,955.75 274.7,960.25 279.7,962.5 C284.7,964.75 286.88,964.38 290,963.5 C293.12,962.62 291.78,961.38 298.4,957.2 C305.02,953.02 319.28,945.43 329.7,938.4 C340.12,931.37 351.58,921.23 360.9,915 C370.22,908.77 381.48,903.33 385.6,901" fill="none" stroke="#e0252d" stroke-width="2.8" stroke-dasharray="6 3.5" />
<path d="M385.6,901 C390.82,904.9 406.48,916.33 416.9,924.4 C427.32,932.47 438.98,943.15 448.1,949.4 C457.22,955.65 465.62,959.55 471.6,961.9 C477.58,964.25 478.8,964.55 484,963.5 C489.2,962.45 493.15,961.08 502.8,955.6 C512.45,950.12 528.88,939.45 541.9,930.6 C554.92,921.75 569.97,910.57 580.9,902.5 C591.83,894.43 603.07,885.58 607.5,882.2" fill="none" stroke="#e0252d" stroke-width="2.8" stroke-dasharray="6 3.5" />
<path d="M167.2,1010.3 C170.58,1010.04 179.95,1010.3 187.5,1008.75 C195.05,1007.2 203.12,1004.64 212.5,1001 C221.88,997.36 233.85,991.08 243.75,986.9 C253.65,982.72 265.36,977.97 271.9,975.9 C278.44,973.83 279.88,974.23 283,974.5 C286.12,974.77 284.12,974.65 290.6,977.5 C297.08,980.35 311.48,987.18 321.9,991.6 C332.32,996.02 344.75,1001.02 353.1,1004 C361.45,1006.98 366.58,1008.83 372,1009.5 C377.42,1010.17 380.73,1009.17 385.6,1008 C390.48,1006.83 393.43,1005.77 401.25,1002.5 C409.07,999.23 422.08,992.83 432.5,988.4 C442.92,983.97 455.83,978.55 463.75,975.9 C471.67,973.25 475.83,972.23 480,972.5 C484.17,972.77 483.65,974.85 488.75,977.5 C493.85,980.15 501.74,984.23 510.6,988.4 C519.46,992.57 532.78,999.11 541.9,1002.5 C551.02,1005.89 557.49,1008 565.3,1008.75 C573.11,1009.5 581.72,1008.29 588.75,1007 C595.78,1005.71 604.38,1002 607.5,1001" fill="none" stroke="#e0252d" stroke-width="2.8" stroke-dasharray="10 4" />
<path d="M167.2,1033 C174.75,1033.93 197.13,1037.43 212.5,1038.6 C227.87,1039.77 246.38,1040 259.4,1040 C272.42,1040 277.58,1039.77 290.6,1038.6 C303.62,1037.43 324.48,1034.05 337.5,1033 C350.52,1031.95 355.52,1031.37 368.75,1032.3 C381.98,1033.23 401.07,1037.32 416.9,1038.6 C432.73,1039.88 448.13,1040.13 463.75,1040 C479.37,1039.87 497.58,1039.08 510.6,1037.8 C523.62,1036.52 532.78,1033.22 541.9,1032.3 C551.02,1031.38 554.37,1031.25 565.3,1032.3 C576.23,1033.35 600.47,1037.55 607.5,1038.6" fill="none" stroke="#e0252d" stroke-width="3" />
</g>
<rect x="163.75" y="808.75" width="443.75" height="345.45" fill="none" stroke="#2a2a2a" stroke-width="2.4" />
<line x1="195.46" y1="1154.2" x2="195.46" y2="1149.2" stroke="#2a2a2a" stroke-width="1.6" />
<line x1="195.46" y1="808.75" x2="195.46" y2="813.75" stroke="#2a2a2a" stroke-width="1.6" />
<line x1="258.84" y1="1154.2" x2="258.84" y2="1149.2" stroke="#2a2a2a" stroke-width="1.6" />
<line x1="258.84" y1="808.75" x2="258.84" y2="813.75" stroke="#2a2a2a" stroke-width="1.6" />
<line x1="322.22" y1="1154.2" x2="322.22" y2="1149.2" stroke="#2a2a2a" stroke-width="1.6" />
<line x1="322.22" y1="808.75" x2="322.22" y2="813.75" stroke="#2a2a2a" stroke-width="1.6" />
<line x1="385.6" y1="1154.2" x2="385.6" y2="1149.2" stroke="#2a2a2a" stroke-width="1.6" />
<line x1="385.6" y1="808.75" x2="385.6" y2="813.75" stroke="#2a2a2a" stroke-width="1.6" />
<line x1="448.98" y1="1154.2" x2="448.98" y2="1149.2" stroke="#2a2a2a" stroke-width="1.6" />
<line x1="448.98" y1="808.75" x2="448.98" y2="813.75" stroke="#2a2a2a" stroke-width="1.6" />
<line x1="512.36" y1="1154.2" x2="512.36" y2="1149.2" stroke="#2a2a2a" stroke-width="1.6" />
<line x1="512.36" y1="808.75" x2="512.36" y2="813.75" stroke="#2a2a2a" stroke-width="1.6" />
<line x1="575.74" y1="1154.2" x2="575.74" y2="1149.2" stroke="#2a2a2a" stroke-width="1.6" />
<line x1="575.74" y1="808.75" x2="575.74" y2="813.75" stroke="#2a2a2a" stroke-width="1.6" />
<line x1="179.62" y1="1154.2" x2="179.62" y2="1151.2" stroke="#2a2a2a" stroke-width="1.3" />
<line x1="179.62" y1="808.75" x2="179.62" y2="811.75" stroke="#2a2a2a" stroke-width="1.3" />
<line x1="211.31" y1="1154.2" x2="211.31" y2="1151.2" stroke="#2a2a2a" stroke-width="1.3" />
<line x1="211.31" y1="808.75" x2="211.31" y2="811.75" stroke="#2a2a2a" stroke-width="1.3" />
<line x1="227.15" y1="1154.2" x2="227.15" y2="1151.2" stroke="#2a2a2a" stroke-width="1.3" />
<line x1="227.15" y1="808.75" x2="227.15" y2="811.75" stroke="#2a2a2a" stroke-width="1.3" />
<line x1="243" y1="1154.2" x2="243" y2="1151.2" stroke="#2a2a2a" stroke-width="1.3" />
<line x1="243" y1="808.75" x2="243" y2="811.75" stroke="#2a2a2a" stroke-width="1.3" />
<line x1="274.69" y1="1154.2" x2="274.69" y2="1151.2" stroke="#2a2a2a" stroke-width="1.3" />
<line x1="274.69" y1="808.75" x2="274.69" y2="811.75" stroke="#2a2a2a" stroke-width="1.3" />
<line x1="290.53" y1="1154.2" x2="290.53" y2="1151.2" stroke="#2a2a2a" stroke-width="1.3" />
<line x1="290.53" y1="808.75" x2="290.53" y2="811.75" stroke="#2a2a2a" stroke-width="1.3" />
<line x1="306.38" y1="1154.2" x2="306.38" y2="1151.2" stroke="#2a2a2a" stroke-width="1.3" />
<line x1="306.38" y1="808.75" x2="306.38" y2="811.75" stroke="#2a2a2a" stroke-width="1.3" />
<line x1="338.06" y1="1154.2" x2="338.06" y2="1151.2" stroke="#2a2a2a" stroke-width="1.3" />
<line x1="338.06" y1="808.75" x2="338.06" y2="811.75" stroke="#2a2a2a" stroke-width="1.3" />
<line x1="353.91" y1="1154.2" x2="353.91" y2="1151.2" stroke="#2a2a2a" stroke-width="1.3" />
<line x1="353.91" y1="808.75" x2="353.91" y2="811.75" stroke="#2a2a2a" stroke-width="1.3" />
<line x1="369.75" y1="1154.2" x2="369.75" y2="1151.2" stroke="#2a2a2a" stroke-width="1.3" />
<line x1="369.75" y1="808.75" x2="369.75" y2="811.75" stroke="#2a2a2a" stroke-width="1.3" />
<line x1="401.45" y1="1154.2" x2="401.45" y2="1151.2" stroke="#2a2a2a" stroke-width="1.3" />
<line x1="401.45" y1="808.75" x2="401.45" y2="811.75" stroke="#2a2a2a" stroke-width="1.3" />
<line x1="417.29" y1="1154.2" x2="417.29" y2="1151.2" stroke="#2a2a2a" stroke-width="1.3" />
<line x1="417.29" y1="808.75" x2="417.29" y2="811.75" stroke="#2a2a2a" stroke-width="1.3" />
<line x1="433.14" y1="1154.2" x2="433.14" y2="1151.2" stroke="#2a2a2a" stroke-width="1.3" />
<line x1="433.14" y1="808.75" x2="433.14" y2="811.75" stroke="#2a2a2a" stroke-width="1.3" />
<line x1="464.83" y1="1154.2" x2="464.83" y2="1151.2" stroke="#2a2a2a" stroke-width="1.3" />
<line x1="464.83" y1="808.75" x2="464.83" y2="811.75" stroke="#2a2a2a" stroke-width="1.3" />
<line x1="480.67" y1="1154.2" x2="480.67" y2="1151.2" stroke="#2a2a2a" stroke-width="1.3" />
<line x1="480.67" y1="808.75" x2="480.67" y2="811.75" stroke="#2a2a2a" stroke-width="1.3" />
<line x1="496.52" y1="1154.2" x2="496.52" y2="1151.2" stroke="#2a2a2a" stroke-width="1.3" />
<line x1="496.52" y1="808.75" x2="496.52" y2="811.75" stroke="#2a2a2a" stroke-width="1.3" />
<line x1="528.21" y1="1154.2" x2="528.21" y2="1151.2" stroke="#2a2a2a" stroke-width="1.3" />
<line x1="528.21" y1="808.75" x2="528.21" y2="811.75" stroke="#2a2a2a" stroke-width="1.3" />
<line x1="544.05" y1="1154.2" x2="544.05" y2="1151.2" stroke="#2a2a2a" stroke-width="1.3" />
<line x1="544.05" y1="808.75" x2="544.05" y2="811.75" stroke="#2a2a2a" stroke-width="1.3" />
<line x1="559.89" y1="1154.2" x2="559.89" y2="1151.2" stroke="#2a2a2a" stroke-width="1.3" />
<line x1="559.89" y1="808.75" x2="559.89" y2="811.75" stroke="#2a2a2a" stroke-width="1.3" />
<line x1="591.59" y1="1154.2" x2="591.59" y2="1151.2" stroke="#2a2a2a" stroke-width="1.3" />
<line x1="591.59" y1="808.75" x2="591.59" y2="811.75" stroke="#2a2a2a" stroke-width="1.3" />
<line x1="163.75" y1="1144.5" x2="168.75" y2="1144.5" stroke="#2a2a2a" stroke-width="1.6" />
<line x1="607.5" y1="1144.5" x2="602.5" y2="1144.5" stroke="#2a2a2a" stroke-width="1.6" />
<line x1="163.75" y1="1077.5" x2="168.75" y2="1077.5" stroke="#2a2a2a" stroke-width="1.6" />
<line x1="607.5" y1="1077.5" x2="602.5" y2="1077.5" stroke="#2a2a2a" stroke-width="1.6" />
<line x1="163.75" y1="1010.5" x2="168.75" y2="1010.5" stroke="#2a2a2a" stroke-width="1.6" />
<line x1="607.5" y1="1010.5" x2="602.5" y2="1010.5" stroke="#2a2a2a" stroke-width="1.6" />
<line x1="163.75" y1="943.5" x2="168.75" y2="943.5" stroke="#2a2a2a" stroke-width="1.6" />
<line x1="607.5" y1="943.5" x2="602.5" y2="943.5" stroke="#2a2a2a" stroke-width="1.6" />
<line x1="163.75" y1="876.5" x2="168.75" y2="876.5" stroke="#2a2a2a" stroke-width="1.6" />
<line x1="607.5" y1="876.5" x2="602.5" y2="876.5" stroke="#2a2a2a" stroke-width="1.6" />
<line x1="163.75" y1="809.5" x2="168.75" y2="809.5" stroke="#2a2a2a" stroke-width="1.6" />
<line x1="607.5" y1="809.5" x2="602.5" y2="809.5" stroke="#2a2a2a" stroke-width="1.6" />
<line x1="163.75" y1="1131.1" x2="166.75" y2="1131.1" stroke="#2a2a2a" stroke-width="1.3" />
<line x1="607.5" y1="1131.1" x2="604.5" y2="1131.1" stroke="#2a2a2a" stroke-width="1.3" />
<line x1="163.75" y1="1117.7" x2="166.75" y2="1117.7" stroke="#2a2a2a" stroke-width="1.3" />
<line x1="607.5" y1="1117.7" x2="604.5" y2="1117.7" stroke="#2a2a2a" stroke-width="1.3" />
<line x1="163.75" y1="1104.3" x2="166.75" y2="1104.3" stroke="#2a2a2a" stroke-width="1.3" />
<line x1="607.5" y1="1104.3" x2="604.5" y2="1104.3" stroke="#2a2a2a" stroke-width="1.3" />
<line x1="163.75" y1="1090.9" x2="166.75" y2="1090.9" stroke="#2a2a2a" stroke-width="1.3" />
<line x1="607.5" y1="1090.9" x2="604.5" y2="1090.9" stroke="#2a2a2a" stroke-width="1.3" />
<line x1="163.75" y1="1064.1" x2="166.75" y2="1064.1" stroke="#2a2a2a" stroke-width="1.3" />
<line x1="607.5" y1="1064.1" x2="604.5" y2="1064.1" stroke="#2a2a2a" stroke-width="1.3" />
<line x1="163.75" y1="1050.7" x2="166.75" y2="1050.7" stroke="#2a2a2a" stroke-width="1.3" />
<line x1="607.5" y1="1050.7" x2="604.5" y2="1050.7" stroke="#2a2a2a" stroke-width="1.3" />
<line x1="163.75" y1="1037.3" x2="166.75" y2="1037.3" stroke="#2a2a2a" stroke-width="1.3" />
<line x1="607.5" y1="1037.3" x2="604.5" y2="1037.3" stroke="#2a2a2a" stroke-width="1.3" />
<line x1="163.75" y1="1023.9" x2="166.75" y2="1023.9" stroke="#2a2a2a" stroke-width="1.3" />
<line x1="607.5" y1="1023.9" x2="604.5" y2="1023.9" stroke="#2a2a2a" stroke-width="1.3" />
<line x1="163.75" y1="997.1" x2="166.75" y2="997.1" stroke="#2a2a2a" stroke-width="1.3" />
<line x1="607.5" y1="997.1" x2="604.5" y2="997.1" stroke="#2a2a2a" stroke-width="1.3" />
<line x1="163.75" y1="983.7" x2="166.75" y2="983.7" stroke="#2a2a2a" stroke-width="1.3" />
<line x1="607.5" y1="983.7" x2="604.5" y2="983.7" stroke="#2a2a2a" stroke-width="1.3" />
<line x1="163.75" y1="970.3" x2="166.75" y2="970.3" stroke="#2a2a2a" stroke-width="1.3" />
<line x1="607.5" y1="970.3" x2="604.5" y2="970.3" stroke="#2a2a2a" stroke-width="1.3" />
<line x1="163.75" y1="956.9" x2="166.75" y2="956.9" stroke="#2a2a2a" stroke-width="1.3" />
<line x1="607.5" y1="956.9" x2="604.5" y2="956.9" stroke="#2a2a2a" stroke-width="1.3" />
<line x1="163.75" y1="930.1" x2="166.75" y2="930.1" stroke="#2a2a2a" stroke-width="1.3" />
<line x1="607.5" y1="930.1" x2="604.5" y2="930.1" stroke="#2a2a2a" stroke-width="1.3" />
<line x1="163.75" y1="916.7" x2="166.75" y2="916.7" stroke="#2a2a2a" stroke-width="1.3" />
<line x1="607.5" y1="916.7" x2="604.5" y2="916.7" stroke="#2a2a2a" stroke-width="1.3" />
<line x1="163.75" y1="903.3" x2="166.75" y2="903.3" stroke="#2a2a2a" stroke-width="1.3" />
<line x1="607.5" y1="903.3" x2="604.5" y2="903.3" stroke="#2a2a2a" stroke-width="1.3" />
<line x1="163.75" y1="889.9" x2="166.75" y2="889.9" stroke="#2a2a2a" stroke-width="1.3" />
<line x1="607.5" y1="889.9" x2="604.5" y2="889.9" stroke="#2a2a2a" stroke-width="1.3" />
<line x1="163.75" y1="863.1" x2="166.75" y2="863.1" stroke="#2a2a2a" stroke-width="1.3" />
<line x1="607.5" y1="863.1" x2="604.5" y2="863.1" stroke="#2a2a2a" stroke-width="1.3" />
<line x1="163.75" y1="849.7" x2="166.75" y2="849.7" stroke="#2a2a2a" stroke-width="1.3" />
<line x1="607.5" y1="849.7" x2="604.5" y2="849.7" stroke="#2a2a2a" stroke-width="1.3" />
<line x1="163.75" y1="836.3" x2="166.75" y2="836.3" stroke="#2a2a2a" stroke-width="1.3" />
<line x1="607.5" y1="836.3" x2="604.5" y2="836.3" stroke="#2a2a2a" stroke-width="1.3" />
<line x1="163.75" y1="822.9" x2="166.75" y2="822.9" stroke="#2a2a2a" stroke-width="1.3" />
<line x1="607.5" y1="822.9" x2="604.5" y2="822.9" stroke="#2a2a2a" stroke-width="1.3" />
<text font-family="Liberation Sans, sans-serif" font-size="29.5" text-anchor="end" fill="#1a1a1a" transform="translate(158.5 1154.8) scale(0.940 1)"  stroke="#1a1a1a" stroke-width="0.5">5</text>
<text font-family="Liberation Sans, sans-serif" font-size="29.5" text-anchor="end" fill="#1a1a1a" transform="translate(158.5 1087.8) scale(0.940 1)"  stroke="#1a1a1a" stroke-width="0.5">10</text>
<text font-family="Liberation Sans, sans-serif" font-size="29.5" text-anchor="end" fill="#1a1a1a" transform="translate(158.5 1020.8) scale(0.940 1)"  stroke="#1a1a1a" stroke-width="0.5">15</text>
<text font-family="Liberation Sans, sans-serif" font-size="29.5" text-anchor="end" fill="#1a1a1a" transform="translate(158.5 953.8) scale(0.940 1)"  stroke="#1a1a1a" stroke-width="0.5">20</text>
<text font-family="Liberation Sans, sans-serif" font-size="29.5" text-anchor="end" fill="#1a1a1a" transform="translate(158.5 886.8) scale(0.940 1)"  stroke="#1a1a1a" stroke-width="0.5">25</text>
<text font-family="Liberation Sans, sans-serif" font-size="29.5" text-anchor="end" fill="#1a1a1a" transform="translate(158.5 819.8) scale(0.940 1)"  stroke="#1a1a1a" stroke-width="0.5">30</text>
<text x="176.5" y="838.5" font-family="Liberation Serif, serif" font-size="28" fill="#333" stroke="#fff" stroke-width="4.2" stroke-opacity="0.85" stroke-linejoin="round" paint-order="stroke" textLength="37" lengthAdjust="spacingAndGlyphs">(a)</text>
<text x="194" y="1076" font-family="Liberation Serif, serif" font-size="22" fill="#222" stroke="#fff" stroke-width="4.2" stroke-opacity="0.85" stroke-linejoin="round" paint-order="stroke" xml:space="preserve" textLength="142" lengthAdjust="spacingAndGlyphs"><tspan font-style="italic">D</tspan> = 1.5  mJ/m<tspan dy="-7" font-size="12">2</tspan></text>
<polygon points="243,1117.5 282,1090.5 497.5,1090.5 534.5,1116 529.5,1137.5 249,1137.5" fill="#f2f2f2" opacity="0.9"/>
<polygon points="245.3,1117.5 532.5,1116.5 527.8,1135.5 250,1135.5" fill="#b07f45" />
<polygon points="245.3,1117.5 282.8,1092.5 496.6,1092.5 532.5,1116.5" fill="#b3c6d3" />
<polygon points="245.3,1117.2 282.8,1092.5 300,1092.5 275,1117.2" fill="#c8955a" />
<polygon points="314,1117.2 329.7,1092.5 347,1092.5 337.5,1117.2" fill="#c8955a" />
<polygon points="378.5,1117.2 382.5,1092.5 398,1092.5 400,1117.2" fill="#c8955a" />
<polygon points="445,1117.2 431.7,1092.5 445,1092.5 462,1117.2" fill="#c8955a" />
<polygon points="506,1117.2 482.5,1092.5 496.6,1092.5 532.5,1117.2" fill="#c8955a" />
<line x1="471.5" y1="1009" x2="562" y2="1009" stroke="#fbe8e8" stroke-width="4" opacity="0.9"/>
<line x1="471.5" y1="1009" x2="562" y2="1009" stroke="#e86a70" stroke-width="2" stroke-dasharray="1.6 1.6" />
<line x1="473" y1="1031" x2="541" y2="1031" stroke="#fbe8e8" stroke-width="4" opacity="0.9"/>
<line x1="473" y1="1031" x2="541" y2="1031" stroke="#e86a70" stroke-width="2" stroke-dasharray="1.6 1.6" />
<line x1="566" y1="1015" x2="566" y2="1072" stroke="#fbe8e8" stroke-width="4" opacity="0.9"/>
<line x1="566" y1="1015" x2="566" y2="1072" stroke="#e86a70" stroke-width="2" stroke-dasharray="1.6 1.6" />
<line x1="545" y1="1036" x2="545" y2="1072" stroke="#fbe8e8" stroke-width="4" opacity="0.9"/>
<line x1="545" y1="1036" x2="545" y2="1072" stroke="#e86a70" stroke-width="2" stroke-dasharray="1.6 1.6" />
<circle cx="566" cy="1009" r="5.6" fill="url(#dotG)" />
<circle cx="545" cy="1030.8" r="5.6" fill="url(#dotG)" />
<text x="368" y="1025" font-family="Liberation Serif, serif" font-size="21" fill="#222" stroke="#fff" stroke-width="4.2" stroke-opacity="0.85" stroke-linejoin="round" paint-order="stroke" textLength="106" lengthAdjust="spacingAndGlyphs">1<tspan dy="-7" font-size="11">st</tspan><tspan dy="7"> bandgap</tspan></text>
<line x1="477" y1="976" x2="477" y2="998" stroke="#fff" stroke-width="5" opacity="0.8"/>
<polygon points="477,1005.5 470,995 484,995" fill="#fff" opacity="0.8"/>
<line x1="477" y1="976" x2="477" y2="998" stroke="#111" stroke-width="2.2" />
<polygon points="477,1004 472,996 482,996" fill="#111" />
<line x1="477" y1="1063" x2="477" y2="1043" stroke="#fff" stroke-width="5" opacity="0.8"/>
<polygon points="477,1035.5 470,1046 484,1046" fill="#fff" opacity="0.8"/>
<line x1="477" y1="1063" x2="477" y2="1043" stroke="#111" stroke-width="2.2" />
<polygon points="477,1037 472,1045 482,1045" fill="#111" />
<line x1="514.5" y1="1075.3" x2="538" y2="1075.3" stroke="#111" stroke-width="2.4" />
<polygon points="544,1075.3 535,1070.3 535,1080.3" fill="#111" />
<line x1="595.8" y1="1075.3" x2="573" y2="1075.3" stroke="#111" stroke-width="2.4" />
<polygon points="567,1075.3 576,1070.3 576,1080.3" fill="#111" />
<text x="537" y="1096" font-family="Liberation Serif, serif" font-size="23" font-style="italic" fill="#222" stroke="#fff" stroke-width="4.2" stroke-opacity="0.85" stroke-linejoin="round" paint-order="stroke" textLength="30" lengthAdjust="spacingAndGlyphs">Δk</text>
<g clip-path="url(#clipEb)">
<rect x="160" y="1180" width="450" height="345" fill="#cdcdcd" />
<g filter="url(#gb2)">
<ellipse cx="330" cy="1225" rx="55" ry="35" fill="#f0f0f0" opacity="0.85"/>
<ellipse cx="480" cy="1240" rx="55" ry="35" fill="#f0f0f0" opacity="0.85"/>
<ellipse cx="250" cy="1400" rx="70" ry="30" fill="#e8e8e8" opacity="0.7"/>
<ellipse cx="250" cy="1470" rx="70" ry="25" fill="#e4e4e4" opacity="0.7"/>
<ellipse cx="385" cy="1320" rx="45" ry="16" fill="#8a8a8a" opacity="0.55"/>
<ellipse cx="500" cy="1440" rx="100" ry="22" fill="#7a7a7a" opacity="0.55"/>
<ellipse cx="540" cy="1500" rx="70" ry="18" fill="#7a7a7a" opacity="0.55"/>
<ellipse cx="200" cy="1290" rx="30" ry="20" fill="#9a9a9a" opacity="0.5"/>
<ellipse cx="570" cy="1300" rx="30" ry="20" fill="#9a9a9a" opacity="0.5"/>
</g>
<g filter="url(#gb3)">
<path d="M135,1182 C137.5,1184.83 144.67,1193.33 150,1199 C155.33,1204.67 161.67,1211.67 167,1216 C172.33,1220.33 177.83,1223.25 182,1225 C186.17,1226.75 188.33,1226.5 192,1226.5 C195.67,1226.5 199.17,1226.75 204,1225 C208.83,1223.25 215,1220.33 221,1216 C227,1211.67 233.83,1204.67 240,1199 C246.17,1193.33 255,1184.83 258,1182" fill="none" stroke="#1a1a1a" stroke-width="13" opacity="0.18" stroke-linecap="round"/>
<path d="M332,1182 C334.5,1184.83 341.67,1193.33 347,1199 C352.33,1204.67 358.67,1211.67 364,1216 C369.33,1220.33 374.83,1223.25 379,1225 C383.17,1226.75 385.33,1226.5 389,1226.5 C392.67,1226.5 396.17,1226.75 401,1225 C405.83,1223.25 412,1220.33 418,1216 C424,1211.67 430.83,1204.67 437,1199 C443.17,1193.33 452,1184.83 455,1182" fill="none" stroke="#1a1a1a" stroke-width="13" opacity="0.18" stroke-linecap="round"/>
<path d="M532,1182 C534.5,1184.83 541.67,1193.33 547,1199 C552.33,1204.67 558.67,1211.67 564,1216 C569.33,1220.33 574.83,1223.25 579,1225 C583.17,1226.75 585.33,1226.5 589,1226.5 C592.67,1226.5 596.17,1226.75 601,1225 C605.83,1223.25 612,1220.33 618,1216 C624,1211.67 630.83,1204.67 637,1199 C643.17,1193.33 652,1184.83 655,1182" fill="none" stroke="#1a1a1a" stroke-width="13" opacity="0.18" stroke-linecap="round"/>
<path d="M165.6,1266 C168,1264.33 175.57,1258.08 180,1256 C184.43,1253.92 186.78,1252.35 192.2,1253.5 C197.62,1254.65 205.2,1258.73 212.5,1262.9 C219.8,1267.07 228.18,1273.32 236,1278.5 C243.82,1283.68 252.9,1290.08 259.4,1294 C265.9,1297.92 270.32,1300.17 275,1302 C279.68,1303.83 282.29,1305 287.5,1305 C292.71,1305 299.22,1304.6 306.25,1302 C313.28,1299.4 321.91,1293.83 329.7,1289.4 C337.49,1284.97 345.18,1280.34 353,1275.4 C360.82,1270.46 370.93,1263.4 376.6,1259.75 C382.27,1256.1 382.89,1253.76 387,1253.5 C391.11,1253.24 393.67,1254.03 401.25,1258.2 C408.83,1262.37 423.38,1272.25 432.5,1278.5 C441.62,1284.75 449.48,1291.53 456,1295.7 C462.52,1299.87 466.67,1301.82 471.6,1303.5 C476.53,1305.18 480.4,1305.8 485.6,1305.8 C490.8,1305.8 496.03,1305.97 502.8,1303.5 C509.57,1301.03 518.43,1295.68 526.25,1291 C534.07,1286.32 541.89,1280.61 549.7,1275.4 C557.51,1270.19 566.59,1263.53 573.1,1259.75 C579.61,1255.97 583.02,1252.99 588.75,1252.7 C594.48,1252.41 604.38,1257.12 607.5,1258" fill="none" stroke="#1a1a1a" stroke-width="13" opacity="0.3" stroke-linecap="round"/>
<path d="M167,1352 C170.17,1352.9 178.42,1357.67 186,1357.4 C193.58,1357.13 202.88,1353.4 212.5,1350.4 C222.12,1347.4 234.63,1342.53 243.75,1339.4 C252.87,1336.27 259.91,1333.42 267.2,1331.6 C274.49,1329.78 280.99,1328.5 287.5,1328.5 C294.01,1328.5 297.92,1329.02 306.25,1331.6 C314.58,1334.18 327.08,1340.35 337.5,1344 C347.92,1347.65 360.58,1351.4 368.75,1353.5 C376.92,1355.6 378.48,1357.38 386.5,1356.6 C394.52,1355.82 406.65,1351.92 416.9,1348.8 C427.15,1345.68 438.88,1341.03 448,1337.9 C457.12,1334.77 465.6,1331.57 471.6,1330 C477.6,1328.43 477.5,1327.71 484,1328.5 C490.5,1329.29 500.95,1331.62 510.6,1334.75 C520.25,1337.88 531.5,1343.88 541.9,1347.25 C552.3,1350.62 565.72,1353.44 573,1355 C580.28,1356.56 579.85,1356.85 585.6,1356.6 C591.35,1356.35 603.85,1354.02 607.5,1353.5" fill="none" stroke="#1a1a1a" stroke-width="13" opacity="0.27" stroke-linecap="round"/>
<path d="M167,1427.9 C177.5,1428.33 209.92,1430.03 230,1430.5 C250.08,1430.97 269.17,1431.17 287.5,1430.75 C305.83,1430.33 323.75,1428.47 340,1428 C356.25,1427.53 370,1427.57 385,1427.9 C400,1428.23 413.75,1429.53 430,1430 C446.25,1430.47 464.38,1431.1 482.5,1430.75 C500.62,1430.4 522.5,1428.28 538.75,1427.9 C555,1427.53 568.54,1428.18 580,1428.5 C591.46,1428.82 602.92,1429.58 607.5,1429.8" fill="none" stroke="#1a1a1a" stroke-width="13" opacity="0.33" stroke-linecap="round"/>
<path d="M165,1490.5 C239.17,1490.5 535.83,1490.5 610,1490.5" fill="none" stroke="#1a1a1a" stroke-width="13" opacity="0.33" stroke-linecap="round"/>
</g>
<g filter="url(#gb0)">
<path d="M135,1184.2 C137.5,1187.03 144.67,1195.53 150,1201.2 C155.33,1206.87 161.67,1213.87 167,1218.2 C172.33,1222.53 177.83,1225.45 182,1227.2 C186.17,1228.95 188.33,1228.7 192,1228.7 C195.67,1228.7 199.17,1228.95 204,1227.2 C208.83,1225.45 215,1222.53 221,1218.2 C227,1213.87 233.83,1206.87 240,1201.2 C246.17,1195.53 255,1187.03 258,1184.2" fill="none" stroke="#1a1a1a" stroke-width="3.8" opacity="0.372" stroke-linecap="round"/>
<path d="M332,1184.2 C334.5,1187.03 341.67,1195.53 347,1201.2 C352.33,1206.87 358.67,1213.87 364,1218.2 C369.33,1222.53 374.83,1225.45 379,1227.2 C383.17,1228.95 385.33,1228.7 389,1228.7 C392.67,1228.7 396.17,1228.95 401,1227.2 C405.83,1225.45 412,1222.53 418,1218.2 C424,1213.87 430.83,1206.87 437,1201.2 C443.17,1195.53 452,1187.03 455,1184.2" fill="none" stroke="#1a1a1a" stroke-width="3.8" opacity="0.372" stroke-linecap="round"/>
<path d="M532,1184.2 C534.5,1187.03 541.67,1195.53 547,1201.2 C552.33,1206.87 558.67,1213.87 564,1218.2 C569.33,1222.53 574.83,1225.45 579,1227.2 C583.17,1228.95 585.33,1228.7 589,1228.7 C592.67,1228.7 596.17,1228.95 601,1227.2 C605.83,1225.45 612,1222.53 618,1218.2 C624,1213.87 630.83,1206.87 637,1201.2 C643.17,1195.53 652,1187.03 655,1184.2" fill="none" stroke="#1a1a1a" stroke-width="3.8" opacity="0.372" stroke-linecap="round"/>
<path d="M165.6,1268.2 C168,1266.53 175.57,1260.28 180,1258.2 C184.43,1256.12 186.78,1254.55 192.2,1255.7 C197.62,1256.85 205.2,1260.93 212.5,1265.1 C219.8,1269.27 228.18,1275.52 236,1280.7 C243.82,1285.88 252.9,1292.28 259.4,1296.2 C265.9,1300.12 270.32,1302.37 275,1304.2 C279.68,1306.03 282.29,1307.2 287.5,1307.2 C292.71,1307.2 299.22,1306.8 306.25,1304.2 C313.28,1301.6 321.91,1296.03 329.7,1291.6 C337.49,1287.17 345.18,1282.54 353,1277.6 C360.82,1272.66 370.93,1265.6 376.6,1261.95 C382.27,1258.3 382.89,1255.96 387,1255.7 C391.11,1255.44 393.67,1256.23 401.25,1260.4 C408.83,1264.57 423.38,1274.45 432.5,1280.7 C441.62,1286.95 449.48,1293.73 456,1297.9 C462.52,1302.07 466.67,1304.02 471.6,1305.7 C476.53,1307.38 480.4,1308 485.6,1308 C490.8,1308 496.03,1308.17 502.8,1305.7 C509.57,1303.23 518.43,1297.88 526.25,1293.2 C534.07,1288.52 541.89,1282.81 549.7,1277.6 C557.51,1272.39 566.59,1265.73 573.1,1261.95 C579.61,1258.17 583.02,1255.19 588.75,1254.9 C594.48,1254.61 604.38,1259.32 607.5,1260.2" fill="none" stroke="#1a1a1a" stroke-width="3.8" opacity="0.62" stroke-linecap="round"/>
<path d="M167,1354.2 C170.17,1355.1 178.42,1359.87 186,1359.6 C193.58,1359.33 202.88,1355.6 212.5,1352.6 C222.12,1349.6 234.63,1344.73 243.75,1341.6 C252.87,1338.47 259.91,1335.62 267.2,1333.8 C274.49,1331.98 280.99,1330.7 287.5,1330.7 C294.01,1330.7 297.92,1331.22 306.25,1333.8 C314.58,1336.38 327.08,1342.55 337.5,1346.2 C347.92,1349.85 360.58,1353.6 368.75,1355.7 C376.92,1357.8 378.48,1359.58 386.5,1358.8 C394.52,1358.02 406.65,1354.12 416.9,1351 C427.15,1347.88 438.88,1343.23 448,1340.1 C457.12,1336.97 465.6,1333.77 471.6,1332.2 C477.6,1330.63 477.5,1329.91 484,1330.7 C490.5,1331.49 500.95,1333.83 510.6,1336.95 C520.25,1340.08 531.5,1346.08 541.9,1349.45 C552.3,1352.83 565.72,1355.64 573,1357.2 C580.28,1358.76 579.85,1359.05 585.6,1358.8 C591.35,1358.55 603.85,1356.22 607.5,1355.7" fill="none" stroke="#1a1a1a" stroke-width="3.8" opacity="0.558" stroke-linecap="round"/>
<path d="M167,1430.1 C177.5,1430.53 209.92,1432.23 230,1432.7 C250.08,1433.17 269.17,1433.37 287.5,1432.95 C305.83,1432.53 323.75,1430.67 340,1430.2 C356.25,1429.73 370,1429.77 385,1430.1 C400,1430.43 413.75,1431.73 430,1432.2 C446.25,1432.67 464.38,1433.3 482.5,1432.95 C500.62,1432.6 522.5,1430.48 538.75,1430.1 C555,1429.73 568.54,1430.38 580,1430.7 C591.46,1431.02 602.92,1431.78 607.5,1432" fill="none" stroke="#1a1a1a" stroke-width="3.8" opacity="0.682" stroke-linecap="round"/>
<path d="M165,1492.7 C239.17,1492.7 535.83,1492.7 610,1492.7" fill="none" stroke="#1a1a1a" stroke-width="3.8" opacity="0.682" stroke-linecap="round"/>
</g>
<line x1="186.7" y1="1180" x2="186.7" y2="1530" stroke="#d8dcf4" stroke-width="4.6" stroke-dasharray="10 6.5" opacity="0.8"/>
<line x1="186.7" y1="1180" x2="186.7" y2="1530" stroke="#4a52a8" stroke-width="2.7" stroke-dasharray="10 6.5" />
<line x1="286" y1="1180" x2="286" y2="1530" stroke="#d8dcf4" stroke-width="4.6" stroke-dasharray="10 6.5" opacity="0.8"/>
<line x1="286" y1="1180" x2="286" y2="1530" stroke="#4a52a8" stroke-width="2.7" stroke-dasharray="10 6.5" />
<line x1="385.6" y1="1180" x2="385.6" y2="1530" stroke="#d8dcf4" stroke-width="4.6" stroke-dasharray="10 6.5" opacity="0.8"/>
<line x1="385.6" y1="1180" x2="385.6" y2="1530" stroke="#4a52a8" stroke-width="2.7" stroke-dasharray="10 6.5" />
<line x1="484.8" y1="1180" x2="484.8" y2="1530" stroke="#d8dcf4" stroke-width="4.6" stroke-dasharray="10 6.5" opacity="0.8"/>
<line x1="484.8" y1="1180" x2="484.8" y2="1530" stroke="#4a52a8" stroke-width="2.7" stroke-dasharray="10 6.5" />
<line x1="584.8" y1="1180" x2="584.8" y2="1530" stroke="#d8dcf4" stroke-width="4.6" stroke-dasharray="10 6.5" opacity="0.8"/>
<line x1="584.8" y1="1180" x2="584.8" y2="1530" stroke="#4a52a8" stroke-width="2.7" stroke-dasharray="10 6.5" />
<path d="M135,1186 C137.5,1188.83 144.67,1197.33 150,1203 C155.33,1208.67 161.67,1215.67 167,1220 C172.33,1224.33 177.83,1227.25 182,1229 C186.17,1230.75 188.33,1230.5 192,1230.5 C195.67,1230.5 199.17,1230.75 204,1229 C208.83,1227.25 215,1224.33 221,1220 C227,1215.67 233.83,1208.67 240,1203 C246.17,1197.33 255,1188.83 258,1186" fill="none" stroke="#e0252d" stroke-width="3.3" stroke-dasharray="0.1 5.8" stroke-linecap="round"/>
<path d="M332,1186 C334.5,1188.83 341.67,1197.33 347,1203 C352.33,1208.67 358.67,1215.67 364,1220 C369.33,1224.33 374.83,1227.25 379,1229 C383.17,1230.75 385.33,1230.5 389,1230.5 C392.67,1230.5 396.17,1230.75 401,1229 C405.83,1227.25 412,1224.33 418,1220 C424,1215.67 430.83,1208.67 437,1203 C443.17,1197.33 452,1188.83 455,1186" fill="none" stroke="#e0252d" stroke-width="3.3" stroke-dasharray="0.1 5.8" stroke-linecap="round"/>
<path d="M532,1186 C534.5,1188.83 541.67,1197.33 547,1203 C552.33,1208.67 558.67,1215.67 564,1220 C569.33,1224.33 574.83,1227.25 579,1229 C583.17,1230.75 585.33,1230.5 589,1230.5 C592.67,1230.5 596.17,1230.75 601,1229 C605.83,1227.25 612,1224.33 618,1220 C624,1215.67 630.83,1208.67 637,1203 C643.17,1197.33 652,1188.83 655,1186" fill="none" stroke="#e0252d" stroke-width="3.3" stroke-dasharray="0.1 5.8" stroke-linecap="round"/>
<path d="M165.6,1270 C168,1268.33 175.57,1262.08 180,1260 C184.43,1257.92 186.78,1256.35 192.2,1257.5 C197.62,1258.65 205.2,1262.73 212.5,1266.9 C219.8,1271.07 228.18,1277.32 236,1282.5 C243.82,1287.68 252.9,1294.08 259.4,1298 C265.9,1301.92 270.32,1304.17 275,1306 C279.68,1307.83 282.29,1309 287.5,1309 C292.71,1309 299.22,1308.6 306.25,1306 C313.28,1303.4 321.91,1297.83 329.7,1293.4 C337.49,1288.97 345.18,1284.34 353,1279.4 C360.82,1274.46 370.93,1267.4 376.6,1263.75 C382.27,1260.1 382.89,1257.76 387,1257.5 C391.11,1257.24 393.67,1258.03 401.25,1262.2 C408.83,1266.37 423.38,1276.25 432.5,1282.5 C441.62,1288.75 449.48,1295.53 456,1299.7 C462.52,1303.87 466.67,1305.82 471.6,1307.5 C476.53,1309.18 480.4,1309.8 485.6,1309.8 C490.8,1309.8 496.03,1309.97 502.8,1307.5 C509.57,1305.03 518.43,1299.68 526.25,1295 C534.07,1290.32 541.89,1284.61 549.7,1279.4 C557.51,1274.19 566.59,1267.53 573.1,1263.75 C579.61,1259.97 583.02,1256.99 588.75,1256.7 C594.48,1256.41 604.38,1261.12 607.5,1262" fill="none" stroke="#e0252d" stroke-width="3.3" stroke-dasharray="0.1 5.8" stroke-linecap="round"/>
<path d="M167,1356 C170.17,1356.9 178.42,1361.67 186,1361.4 C193.58,1361.13 202.88,1357.4 212.5,1354.4 C222.12,1351.4 234.63,1346.53 243.75,1343.4 C252.87,1340.27 259.91,1337.42 267.2,1335.6 C274.49,1333.78 280.99,1332.5 287.5,1332.5 C294.01,1332.5 297.92,1333.02 306.25,1335.6 C314.58,1338.18 327.08,1344.35 337.5,1348 C347.92,1351.65 360.58,1355.4 368.75,1357.5 C376.92,1359.6 378.48,1361.38 386.5,1360.6 C394.52,1359.82 406.65,1355.92 416.9,1352.8 C427.15,1349.68 438.88,1345.03 448,1341.9 C457.12,1338.77 465.6,1335.57 471.6,1334 C477.6,1332.43 477.5,1331.71 484,1332.5 C490.5,1333.29 500.95,1335.62 510.6,1338.75 C520.25,1341.88 531.5,1347.88 541.9,1351.25 C552.3,1354.62 565.72,1357.44 573,1359 C580.28,1360.56 579.85,1360.85 585.6,1360.6 C591.35,1360.35 603.85,1358.02 607.5,1357.5" fill="none" stroke="#e0252d" stroke-width="2.5" stroke-dasharray="9 3 3 3" />
<path d="M167,1433.4 C177.5,1433.83 209.92,1435.53 230,1436 C250.08,1436.47 269.17,1436.67 287.5,1436.25 C305.83,1435.83 323.75,1433.97 340,1433.5 C356.25,1433.03 370,1433.07 385,1433.4 C400,1433.73 413.75,1435.03 430,1435.5 C446.25,1435.97 464.38,1436.6 482.5,1436.25 C500.62,1435.9 522.5,1433.78 538.75,1433.4 C555,1433.03 568.54,1433.68 580,1434 C591.46,1434.32 602.92,1435.08 607.5,1435.3" fill="none" stroke="#e0252d" stroke-width="2.8" stroke-dasharray="9 4" />
<line x1="165" y1="1499" x2="610" y2="1499" stroke="#e2464c" stroke-width="2" />
</g>
<rect x="163.75" y="1182.5" width="443.75" height="344.7" fill="none" stroke="#2a2a2a" stroke-width="2.4" />
<line x1="195.46" y1="1527.2" x2="195.46" y2="1522.2" stroke="#2a2a2a" stroke-width="1.6" />
<line x1="195.46" y1="1182.5" x2="195.46" y2="1187.5" stroke="#2a2a2a" stroke-width="1.6" />
<line x1="258.84" y1="1527.2" x2="258.84" y2="1522.2" stroke="#2a2a2a" stroke-width="1.6" />
<line x1="258.84" y1="1182.5" x2="258.84" y2="1187.5" stroke="#2a2a2a" stroke-width="1.6" />
<line x1="322.22" y1="1527.2" x2="322.22" y2="1522.2" stroke="#2a2a2a" stroke-width="1.6" />
<line x1="322.22" y1="1182.5" x2="322.22" y2="1187.5" stroke="#2a2a2a" stroke-width="1.6" />
<line x1="385.6" y1="1527.2" x2="385.6" y2="1522.2" stroke="#2a2a2a" stroke-width="1.6" />
<line x1="385.6" y1="1182.5" x2="385.6" y2="1187.5" stroke="#2a2a2a" stroke-width="1.6" />
<line x1="448.98" y1="1527.2" x2="448.98" y2="1522.2" stroke="#2a2a2a" stroke-width="1.6" />
<line x1="448.98" y1="1182.5" x2="448.98" y2="1187.5" stroke="#2a2a2a" stroke-width="1.6" />
<line x1="512.36" y1="1527.2" x2="512.36" y2="1522.2" stroke="#2a2a2a" stroke-width="1.6" />
<line x1="512.36" y1="1182.5" x2="512.36" y2="1187.5" stroke="#2a2a2a" stroke-width="1.6" />
<line x1="575.74" y1="1527.2" x2="575.74" y2="1522.2" stroke="#2a2a2a" stroke-width="1.6" />
<line x1="575.74" y1="1182.5" x2="575.74" y2="1187.5" stroke="#2a2a2a" stroke-width="1.6" />
<line x1="179.62" y1="1527.2" x2="179.62" y2="1524.2" stroke="#2a2a2a" stroke-width="1.3" />
<line x1="179.62" y1="1182.5" x2="179.62" y2="1185.5" stroke="#2a2a2a" stroke-width="1.3" />
<line x1="211.31" y1="1527.2" x2="211.31" y2="1524.2" stroke="#2a2a2a" stroke-width="1.3" />
<line x1="211.31" y1="1182.5" x2="211.31" y2="1185.5" stroke="#2a2a2a" stroke-width="1.3" />
<line x1="227.15" y1="1527.2" x2="227.15" y2="1524.2" stroke="#2a2a2a" stroke-width="1.3" />
<line x1="227.15" y1="1182.5" x2="227.15" y2="1185.5" stroke="#2a2a2a" stroke-width="1.3" />
<line x1="243" y1="1527.2" x2="243" y2="1524.2" stroke="#2a2a2a" stroke-width="1.3" />
<line x1="243" y1="1182.5" x2="243" y2="1185.5" stroke="#2a2a2a" stroke-width="1.3" />
<line x1="274.69" y1="1527.2" x2="274.69" y2="1524.2" stroke="#2a2a2a" stroke-width="1.3" />
<line x1="274.69" y1="1182.5" x2="274.69" y2="1185.5" stroke="#2a2a2a" stroke-width="1.3" />
<line x1="290.53" y1="1527.2" x2="290.53" y2="1524.2" stroke="#2a2a2a" stroke-width="1.3" />
<line x1="290.53" y1="1182.5" x2="290.53" y2="1185.5" stroke="#2a2a2a" stroke-width="1.3" />
<line x1="306.38" y1="1527.2" x2="306.38" y2="1524.2" stroke="#2a2a2a" stroke-width="1.3" />
<line x1="306.38" y1="1182.5" x2="306.38" y2="1185.5" stroke="#2a2a2a" stroke-width="1.3" />
<line x1="338.06" y1="1527.2" x2="338.06" y2="1524.2" stroke="#2a2a2a" stroke-width="1.3" />
<line x1="338.06" y1="1182.5" x2="338.06" y2="1185.5" stroke="#2a2a2a" stroke-width="1.3" />
<line x1="353.91" y1="1527.2" x2="353.91" y2="1524.2" stroke="#2a2a2a" stroke-width="1.3" />
<line x1="353.91" y1="1182.5" x2="353.91" y2="1185.5" stroke="#2a2a2a" stroke-width="1.3" />
<line x1="369.75" y1="1527.2" x2="369.75" y2="1524.2" stroke="#2a2a2a" stroke-width="1.3" />
<line x1="369.75" y1="1182.5" x2="369.75" y2="1185.5" stroke="#2a2a2a" stroke-width="1.3" />
<line x1="401.45" y1="1527.2" x2="401.45" y2="1524.2" stroke="#2a2a2a" stroke-width="1.3" />
<line x1="401.45" y1="1182.5" x2="401.45" y2="1185.5" stroke="#2a2a2a" stroke-width="1.3" />
<line x1="417.29" y1="1527.2" x2="417.29" y2="1524.2" stroke="#2a2a2a" stroke-width="1.3" />
<line x1="417.29" y1="1182.5" x2="417.29" y2="1185.5" stroke="#2a2a2a" stroke-width="1.3" />
<line x1="433.14" y1="1527.2" x2="433.14" y2="1524.2" stroke="#2a2a2a" stroke-width="1.3" />
<line x1="433.14" y1="1182.5" x2="433.14" y2="1185.5" stroke="#2a2a2a" stroke-width="1.3" />
<line x1="464.83" y1="1527.2" x2="464.83" y2="1524.2" stroke="#2a2a2a" stroke-width="1.3" />
<line x1="464.83" y1="1182.5" x2="464.83" y2="1185.5" stroke="#2a2a2a" stroke-width="1.3" />
<line x1="480.67" y1="1527.2" x2="480.67" y2="1524.2" stroke="#2a2a2a" stroke-width="1.3" />
<line x1="480.67" y1="1182.5" x2="480.67" y2="1185.5" stroke="#2a2a2a" stroke-width="1.3" />
<line x1="496.52" y1="1527.2" x2="496.52" y2="1524.2" stroke="#2a2a2a" stroke-width="1.3" />
<line x1="496.52" y1="1182.5" x2="496.52" y2="1185.5" stroke="#2a2a2a" stroke-width="1.3" />
<line x1="528.21" y1="1527.2" x2="528.21" y2="1524.2" stroke="#2a2a2a" stroke-width="1.3" />
<line x1="528.21" y1="1182.5" x2="528.21" y2="1185.5" stroke="#2a2a2a" stroke-width="1.3" />
<line x1="544.05" y1="1527.2" x2="544.05" y2="1524.2" stroke="#2a2a2a" stroke-width="1.3" />
<line x1="544.05" y1="1182.5" x2="544.05" y2="1185.5" stroke="#2a2a2a" stroke-width="1.3" />
<line x1="559.89" y1="1527.2" x2="559.89" y2="1524.2" stroke="#2a2a2a" stroke-width="1.3" />
<line x1="559.89" y1="1182.5" x2="559.89" y2="1185.5" stroke="#2a2a2a" stroke-width="1.3" />
<line x1="591.59" y1="1527.2" x2="591.59" y2="1524.2" stroke="#2a2a2a" stroke-width="1.3" />
<line x1="591.59" y1="1182.5" x2="591.59" y2="1185.5" stroke="#2a2a2a" stroke-width="1.3" />
<line x1="163.75" y1="1525.5" x2="168.75" y2="1525.5" stroke="#2a2a2a" stroke-width="1.6" />
<line x1="607.5" y1="1525.5" x2="602.5" y2="1525.5" stroke="#2a2a2a" stroke-width="1.6" />
<line x1="163.75" y1="1468.5" x2="168.75" y2="1468.5" stroke="#2a2a2a" stroke-width="1.6" />
<line x1="607.5" y1="1468.5" x2="602.5" y2="1468.5" stroke="#2a2a2a" stroke-width="1.6" />
<line x1="163.75" y1="1411.5" x2="168.75" y2="1411.5" stroke="#2a2a2a" stroke-width="1.6" />
<line x1="607.5" y1="1411.5" x2="602.5" y2="1411.5" stroke="#2a2a2a" stroke-width="1.6" />
<line x1="163.75" y1="1354.5" x2="168.75" y2="1354.5" stroke="#2a2a2a" stroke-width="1.6" />
<line x1="607.5" y1="1354.5" x2="602.5" y2="1354.5" stroke="#2a2a2a" stroke-width="1.6" />
<line x1="163.75" y1="1297.5" x2="168.75" y2="1297.5" stroke="#2a2a2a" stroke-width="1.6" />
<line x1="607.5" y1="1297.5" x2="602.5" y2="1297.5" stroke="#2a2a2a" stroke-width="1.6" />
<line x1="163.75" y1="1240.5" x2="168.75" y2="1240.5" stroke="#2a2a2a" stroke-width="1.6" />
<line x1="607.5" y1="1240.5" x2="602.5" y2="1240.5" stroke="#2a2a2a" stroke-width="1.6" />
<line x1="163.75" y1="1183.5" x2="168.75" y2="1183.5" stroke="#2a2a2a" stroke-width="1.6" />
<line x1="607.5" y1="1183.5" x2="602.5" y2="1183.5" stroke="#2a2a2a" stroke-width="1.6" />
<line x1="163.75" y1="1514.1" x2="166.75" y2="1514.1" stroke="#2a2a2a" stroke-width="1.3" />
<line x1="607.5" y1="1514.1" x2="604.5" y2="1514.1" stroke="#2a2a2a" stroke-width="1.3" />
<line x1="163.75" y1="1502.7" x2="166.75" y2="1502.7" stroke="#2a2a2a" stroke-width="1.3" />
<line x1="607.5" y1="1502.7" x2="604.5" y2="1502.7" stroke="#2a2a2a" stroke-width="1.3" />
<line x1="163.75" y1="1491.3" x2="166.75" y2="1491.3" stroke="#2a2a2a" stroke-width="1.3" />
<line x1="607.5" y1="1491.3" x2="604.5" y2="1491.3" stroke="#2a2a2a" stroke-width="1.3" />
<line x1="163.75" y1="1479.9" x2="166.75" y2="1479.9" stroke="#2a2a2a" stroke-width="1.3" />
<line x1="607.5" y1="1479.9" x2="604.5" y2="1479.9" stroke="#2a2a2a" stroke-width="1.3" />
<line x1="163.75" y1="1457.1" x2="166.75" y2="1457.1" stroke="#2a2a2a" stroke-width="1.3" />
<line x1="607.5" y1="1457.1" x2="604.5" y2="1457.1" stroke="#2a2a2a" stroke-width="1.3" />
<line x1="163.75" y1="1445.7" x2="166.75" y2="1445.7" stroke="#2a2a2a" stroke-width="1.3" />
<line x1="607.5" y1="1445.7" x2="604.5" y2="1445.7" stroke="#2a2a2a" stroke-width="1.3" />
<line x1="163.75" y1="1434.3" x2="166.75" y2="1434.3" stroke="#2a2a2a" stroke-width="1.3" />
<line x1="607.5" y1="1434.3" x2="604.5" y2="1434.3" stroke="#2a2a2a" stroke-width="1.3" />
<line x1="163.75" y1="1422.9" x2="166.75" y2="1422.9" stroke="#2a2a2a" stroke-width="1.3" />
<line x1="607.5" y1="1422.9" x2="604.5" y2="1422.9" stroke="#2a2a2a" stroke-width="1.3" />
<line x1="163.75" y1="1400.1" x2="166.75" y2="1400.1" stroke="#2a2a2a" stroke-width="1.3" />
<line x1="607.5" y1="1400.1" x2="604.5" y2="1400.1" stroke="#2a2a2a" stroke-width="1.3" />
<line x1="163.75" y1="1388.7" x2="166.75" y2="1388.7" stroke="#2a2a2a" stroke-width="1.3" />
<line x1="607.5" y1="1388.7" x2="604.5" y2="1388.7" stroke="#2a2a2a" stroke-width="1.3" />
<line x1="163.75" y1="1377.3" x2="166.75" y2="1377.3" stroke="#2a2a2a" stroke-width="1.3" />
<line x1="607.5" y1="1377.3" x2="604.5" y2="1377.3" stroke="#2a2a2a" stroke-width="1.3" />
<line x1="163.75" y1="1365.9" x2="166.75" y2="1365.9" stroke="#2a2a2a" stroke-width="1.3" />
<line x1="607.5" y1="1365.9" x2="604.5" y2="1365.9" stroke="#2a2a2a" stroke-width="1.3" />
<line x1="163.75" y1="1343.1" x2="166.75" y2="1343.1" stroke="#2a2a2a" stroke-width="1.3" />
<line x1="607.5" y1="1343.1" x2="604.5" y2="1343.1" stroke="#2a2a2a" stroke-width="1.3" />
<line x1="163.75" y1="1331.7" x2="166.75" y2="1331.7" stroke="#2a2a2a" stroke-width="1.3" />
<line x1="607.5" y1="1331.7" x2="604.5" y2="1331.7" stroke="#2a2a2a" stroke-width="1.3" />
<line x1="163.75" y1="1320.3" x2="166.75" y2="1320.3" stroke="#2a2a2a" stroke-width="1.3" />
<line x1="607.5" y1="1320.3" x2="604.5" y2="1320.3" stroke="#2a2a2a" stroke-width="1.3" />
<line x1="163.75" y1="1308.9" x2="166.75" y2="1308.9" stroke="#2a2a2a" stroke-width="1.3" />
<line x1="607.5" y1="1308.9" x2="604.5" y2="1308.9" stroke="#2a2a2a" stroke-width="1.3" />
<line x1="163.75" y1="1286.1" x2="166.75" y2="1286.1" stroke="#2a2a2a" stroke-width="1.3" />
<line x1="607.5" y1="1286.1" x2="604.5" y2="1286.1" stroke="#2a2a2a" stroke-width="1.3" />
<line x1="163.75" y1="1274.7" x2="166.75" y2="1274.7" stroke="#2a2a2a" stroke-width="1.3" />
<line x1="607.5" y1="1274.7" x2="604.5" y2="1274.7" stroke="#2a2a2a" stroke-width="1.3" />
<line x1="163.75" y1="1263.3" x2="166.75" y2="1263.3" stroke="#2a2a2a" stroke-width="1.3" />
<line x1="607.5" y1="1263.3" x2="604.5" y2="1263.3" stroke="#2a2a2a" stroke-width="1.3" />
<line x1="163.75" y1="1251.9" x2="166.75" y2="1251.9" stroke="#2a2a2a" stroke-width="1.3" />
<line x1="607.5" y1="1251.9" x2="604.5" y2="1251.9" stroke="#2a2a2a" stroke-width="1.3" />
<line x1="163.75" y1="1229.1" x2="166.75" y2="1229.1" stroke="#2a2a2a" stroke-width="1.3" />
<line x1="607.5" y1="1229.1" x2="604.5" y2="1229.1" stroke="#2a2a2a" stroke-width="1.3" />
<line x1="163.75" y1="1217.7" x2="166.75" y2="1217.7" stroke="#2a2a2a" stroke-width="1.3" />
<line x1="607.5" y1="1217.7" x2="604.5" y2="1217.7" stroke="#2a2a2a" stroke-width="1.3" />
<line x1="163.75" y1="1206.3" x2="166.75" y2="1206.3" stroke="#2a2a2a" stroke-width="1.3" />
<line x1="607.5" y1="1206.3" x2="604.5" y2="1206.3" stroke="#2a2a2a" stroke-width="1.3" />
<line x1="163.75" y1="1194.9" x2="166.75" y2="1194.9" stroke="#2a2a2a" stroke-width="1.3" />
<line x1="607.5" y1="1194.9" x2="604.5" y2="1194.9" stroke="#2a2a2a" stroke-width="1.3" />
<text font-family="Liberation Sans, sans-serif" font-size="29.5" text-anchor="end" fill="#1a1a1a" transform="translate(158.5 1535.8) scale(0.940 1)"  stroke="#1a1a1a" stroke-width="0.5">0</text>
<text font-family="Liberation Sans, sans-serif" font-size="29.5" text-anchor="end" fill="#1a1a1a" transform="translate(158.5 1478.8) scale(0.940 1)"  stroke="#1a1a1a" stroke-width="0.5">5</text>
<text font-family="Liberation Sans, sans-serif" font-size="29.5" text-anchor="end" fill="#1a1a1a" transform="translate(158.5 1421.8) scale(0.940 1)"  stroke="#1a1a1a" stroke-width="0.5">10</text>
<text font-family="Liberation Sans, sans-serif" font-size="29.5" text-anchor="end" fill="#1a1a1a" transform="translate(158.5 1364.8) scale(0.940 1)"  stroke="#1a1a1a" stroke-width="0.5">15</text>
<text font-family="Liberation Sans, sans-serif" font-size="29.5" text-anchor="end" fill="#1a1a1a" transform="translate(158.5 1307.8) scale(0.940 1)"  stroke="#1a1a1a" stroke-width="0.5">20</text>
<text font-family="Liberation Sans, sans-serif" font-size="29.5" text-anchor="end" fill="#1a1a1a" transform="translate(158.5 1250.8) scale(0.940 1)"  stroke="#1a1a1a" stroke-width="0.5">25</text>
<text font-family="Liberation Sans, sans-serif" font-size="29.5" text-anchor="end" fill="#1a1a1a" transform="translate(158.5 1193.8) scale(0.940 1)"  stroke="#1a1a1a" stroke-width="0.5">30</text>
<text font-family="Liberation Sans, sans-serif" font-size="29.5" text-anchor="middle" fill="#1a1a1a" transform="translate(194.96 1559) scale(1.020 1)"  stroke="#1a1a1a" stroke-width="0.5">−60</text>
<text font-family="Liberation Sans, sans-serif" font-size="29.5" text-anchor="middle" fill="#1a1a1a" transform="translate(258.34 1559) scale(1.020 1)"  stroke="#1a1a1a" stroke-width="0.5">−40</text>
<text font-family="Liberation Sans, sans-serif" font-size="29.5" text-anchor="middle" fill="#1a1a1a" transform="translate(321.72 1559) scale(1.020 1)"  stroke="#1a1a1a" stroke-width="0.5">−20</text>
<text font-family="Liberation Sans, sans-serif" font-size="29.5" text-anchor="middle" fill="#1a1a1a" transform="translate(385.6 1559) scale(0.940 1)"  stroke="#1a1a1a" stroke-width="0.5">0</text>
<text font-family="Liberation Sans, sans-serif" font-size="29.5" text-anchor="middle" fill="#1a1a1a" transform="translate(448.98 1559) scale(0.940 1)"  stroke="#1a1a1a" stroke-width="0.5">20</text>
<text font-family="Liberation Sans, sans-serif" font-size="29.5" text-anchor="middle" fill="#1a1a1a" transform="translate(512.36 1559) scale(0.940 1)"  stroke="#1a1a1a" stroke-width="0.5">40</text>
<text font-family="Liberation Sans, sans-serif" font-size="29.5" text-anchor="middle" fill="#1a1a1a" transform="translate(575.74 1559) scale(0.940 1)"  stroke="#1a1a1a" stroke-width="0.5">60</text>
<text x="176.5" y="1215.5" font-family="Liberation Serif, serif" font-size="28" fill="#333" stroke="#fff" stroke-width="4.2" stroke-opacity="0.85" stroke-linejoin="round" paint-order="stroke" textLength="38" lengthAdjust="spacingAndGlyphs">(b)</text>
<text x="194" y="1469" font-family="Liberation Serif, serif" font-size="22" fill="#222" stroke="#fff" stroke-width="4.2" stroke-opacity="0.85" stroke-linejoin="round" paint-order="stroke" textLength="118" lengthAdjust="spacingAndGlyphs"><tspan font-style="italic">D</tspan> = 3 <tspan font-weight="bold">mJ/m</tspan><tspan dy="-7" font-size="12" font-weight="bold">2</tspan></text>
<text font-family="Liberation Serif, serif" font-size="29" font-style="italic" fill="#e0252d" transform="translate(390 1217) scale(0.720 1)" stroke="#fff" stroke-width="4.2" stroke-opacity="0.85" stroke-linejoin="round" paint-order="stroke" >ℬ</text>
<text x="410.5" y="1206" font-family="Liberation Serif, serif" font-size="17" fill="#e0252d" stroke="#fff" stroke-width="4.2" stroke-opacity="0.85" stroke-linejoin="round" paint-order="stroke" >V</text>
<text font-family="Liberation Serif, serif" font-size="29" font-style="italic" fill="#e0252d" transform="translate(426 1271.5) scale(0.720 1)" stroke="#fff" stroke-width="4.2" stroke-opacity="0.85" stroke-linejoin="round" paint-order="stroke" >ℬ</text>
<text x="446.5" y="1260.5" font-family="Liberation Serif, serif" font-size="17" fill="#e0252d" stroke="#fff" stroke-width="4.2" stroke-opacity="0.85" stroke-linejoin="round" paint-order="stroke" >VI</text>
<text font-family="Liberation Serif, serif" font-size="29" font-style="italic" fill="#e0252d" transform="translate(404 1343.5) scale(0.720 1)" stroke="#fff" stroke-width="4.2" stroke-opacity="0.85" stroke-linejoin="round" paint-order="stroke" >ℬ</text>
<text x="424.5" y="1332.5" font-family="Liberation Serif, serif" font-size="17" fill="#e0252d" stroke="#fff" stroke-width="4.2" stroke-opacity="0.85" stroke-linejoin="round" paint-order="stroke" >III</text>
<text font-family="Liberation Serif, serif" font-size="29" font-style="italic" fill="#e0252d" transform="translate(403.5 1424) scale(0.720 1)" stroke="#fff" stroke-width="4.2" stroke-opacity="0.85" stroke-linejoin="round" paint-order="stroke" >ℬ</text>
<text x="424" y="1413" font-family="Liberation Serif, serif" font-size="17" fill="#e0252d" stroke="#fff" stroke-width="4.2" stroke-opacity="0.85" stroke-linejoin="round" paint-order="stroke" >II</text>
<text font-family="Liberation Serif, serif" font-size="29" font-style="italic" fill="#e0252d" transform="translate(402 1489) scale(0.720 1)" stroke="#fff" stroke-width="4.2" stroke-opacity="0.85" stroke-linejoin="round" paint-order="stroke" >ℬ</text>
<text x="422.5" y="1478" font-family="Liberation Serif, serif" font-size="17" fill="#e0252d" stroke="#fff" stroke-width="4.2" stroke-opacity="0.85" stroke-linejoin="round" paint-order="stroke" >I</text>
<text x="313" y="1601.5" font-family="Liberation Serif, serif" font-size="41" fill="#222" textLength="129" lengthAdjust="spacingAndGlyphs" stroke="#222" stroke-width="0.6"><tspan font-style="italic">k</tspan> [<tspan font-style="italic">μ</tspan>m<tspan dy="-13" font-size="24">-1</tspan><tspan dy="13">]</tspan></text>
<text x="108.5" y="1233" font-family="Liberation Serif, serif" font-size="41" fill="#222" transform="rotate(-90 108.5 1233)" textLength="127" lengthAdjust="spacingAndGlyphs" stroke="#222" stroke-width="0.6"><tspan font-style="italic">f</tspan> [GHz]</text>
</g>
<g id="panel_e2">
<rect x="938.1" y="808.75" width="39.7" height="346.85" fill="#d9d9d9" />
<rect x="977.8" y="808.75" width="158.2" height="346.85" fill="#fde3cd" />
<line x1="770" y1="808.75" x2="770" y2="1155.6" stroke="#c8c8c8" stroke-width="1.6" stroke-dasharray="7 6" opacity="0.75"/>
<line x1="841.3" y1="808.75" x2="841.3" y2="1155.6" stroke="#c8c8c8" stroke-width="1.6" stroke-dasharray="7 6" opacity="0.75"/>
<line x1="912.6" y1="808.75" x2="912.6" y2="1155.6" stroke="#c8c8c8" stroke-width="1.6" stroke-dasharray="7 6" opacity="0.75"/>
<line x1="983.9" y1="808.75" x2="983.9" y2="1155.6" stroke="#c8c8c8" stroke-width="1.6" stroke-dasharray="7 6" opacity="0.75"/>
<line x1="1055.2" y1="808.75" x2="1055.2" y2="1155.6" stroke="#c8c8c8" stroke-width="1.6" stroke-dasharray="7 6" opacity="0.75"/>
<line x1="1126.5" y1="808.75" x2="1126.5" y2="1155.6" stroke="#c8c8c8" stroke-width="1.6" stroke-dasharray="7 6" opacity="0.75"/>
<line x1="685.25" y1="1062.95" x2="1136" y2="1062.95" stroke="#c8c8c8" stroke-width="1.6" stroke-dasharray="7 6" opacity="0.75"/>
<line x1="685.25" y1="979.65" x2="1136" y2="979.65" stroke="#c8c8c8" stroke-width="1.6" stroke-dasharray="7 6" opacity="0.75"/>
<line x1="685.25" y1="896.35" x2="1136" y2="896.35" stroke="#c8c8c8" stroke-width="1.6" stroke-dasharray="7 6" opacity="0.75"/>
<line x1="938.1" y1="808.75" x2="938.1" y2="1155.6" stroke="#222" stroke-width="2.4" stroke-dasharray="9 4 2 4" />
<line x1="977.8" y1="808.75" x2="977.8" y2="1155.6" stroke="#111" stroke-width="3" stroke-dasharray="9 4 2 4" />
<path d="M704.4,1146.24 C705.07,1146.24 707.09,1146.23 708.43,1146.2 C709.77,1146.18 711.11,1146.16 712.45,1146.11 C713.79,1146.07 715.13,1146.02 716.47,1145.94 C717.82,1145.87 719.16,1145.78 720.5,1145.66 C721.84,1145.55 723.18,1145.42 724.52,1145.25 C725.86,1145.09 727.2,1144.9 728.54,1144.68 C729.89,1144.45 731.23,1144.2 732.57,1143.9 C733.91,1143.61 735.25,1143.28 736.59,1142.91 C737.93,1142.54 739.27,1142.12 740.61,1141.66 C741.96,1141.19 743.3,1140.69 744.64,1140.12 C745.98,1139.56 747.32,1138.94 748.66,1138.27 C750,1137.59 751.34,1136.86 752.68,1136.06 C754.03,1135.26 755.37,1134.41 756.71,1133.47 C758.05,1132.54 759.39,1131.54 760.73,1130.47 C762.07,1129.39 763.41,1128.25 764.75,1127.01 C766.1,1125.78 767.44,1124.47 768.78,1123.08 C770.12,1121.68 771.46,1120.2 772.8,1118.62 C774.14,1117.04 775.48,1115.38 776.82,1113.61 C778.17,1111.85 779.51,1109.99 780.85,1108.02 C782.19,1106.05 783.53,1103.99 784.87,1101.8 C786.21,1099.62 787.55,1097.34 788.89,1094.93 C790.24,1092.53 791.58,1090.01 792.92,1087.37 C794.26,1084.73 795.6,1081.97 796.94,1079.08 C798.28,1076.19 799.62,1073.18 800.96,1070.03 C802.31,1066.88 803.65,1063.6 804.99,1060.18 C806.33,1056.75 807.67,1053.2 809.01,1049.49 C810.35,1045.78 811.69,1041.94 813.03,1037.93 C814.38,1033.93 816.39,1027.54 817.06,1025.46 L828,1054.4" fill="none" stroke="#e0252d" stroke-width="3.6" stroke-dasharray="8 3.5 2.5 3.5" stroke-linejoin="round"/>
<path d="M704.4,1146.24 C705.26,1146.23 707.82,1146.22 709.52,1146.19 C711.23,1146.17 712.93,1146.13 714.64,1146.07 C716.35,1146.01 718.05,1145.93 719.76,1145.83 C721.47,1145.72 723.17,1145.59 724.88,1145.43 C726.58,1145.26 728.29,1145.07 730,1144.83 C731.7,1144.6 733.41,1144.33 735.11,1144 C736.82,1143.68 738.53,1143.31 740.23,1142.89 C741.94,1142.47 743.64,1142 745.35,1141.46 C747.06,1140.93 748.76,1140.34 750.47,1139.67 C752.18,1139.01 753.88,1138.29 755.59,1137.48 C757.29,1136.68 759,1135.81 760.71,1134.85 C762.41,1133.89 764.12,1132.86 765.82,1131.73 C767.53,1130.6 769.24,1129.39 770.94,1128.08 C772.65,1126.77 774.35,1125.37 776.06,1123.86 C777.77,1122.35 779.47,1120.75 781.18,1119.03 C782.88,1117.31 784.59,1115.49 786.3,1113.54 C788,1111.6 789.71,1109.54 791.42,1107.36 C793.12,1105.17 794.83,1102.87 796.53,1100.43 C798.24,1097.99 799.95,1095.43 801.65,1092.72 C803.36,1090.02 805.06,1087.18 806.77,1084.19 C808.48,1081.19 810.18,1078.07 811.89,1074.78 C813.59,1071.49 815.3,1068.06 817.01,1064.46 C818.71,1060.86 820.42,1057.1 822.13,1053.18 C823.83,1049.25 825.54,1045.17 827.24,1040.9 C828.95,1036.63 830.66,1032.2 832.36,1027.57 C834.07,1022.95 835.77,1018.16 837.48,1013.16 C839.19,1008.17 840.89,1003 842.6,997.62 C844.3,992.24 846.86,983.69 847.72,980.9 L865.6,1031.9" fill="none" stroke="#2a48b0" stroke-width="3.6" stroke-dasharray="10 5" stroke-linejoin="round"/>
<path d="M704.4,1146.24 C705.8,1146.23 709.97,1146.22 712.75,1146.17 C715.53,1146.13 718.32,1146.07 721.1,1145.96 C723.88,1145.85 726.66,1145.72 729.45,1145.52 C732.23,1145.33 735.01,1145.09 737.79,1144.79 C740.58,1144.48 743.36,1144.13 746.14,1143.69 C748.92,1143.25 751.7,1142.75 754.49,1142.15 C757.27,1141.56 760.05,1140.89 762.83,1140.11 C765.62,1139.34 768.4,1138.48 771.18,1137.5 C773.96,1136.52 776.75,1135.45 779.53,1134.25 C782.31,1133.04 785.09,1131.74 787.88,1130.29 C790.66,1128.84 793.44,1127.27 796.22,1125.56 C799.01,1123.84 801.79,1122 804.57,1119.99 C807.35,1117.99 810.14,1115.84 812.92,1113.53 C815.7,1111.21 818.48,1108.75 821.26,1106.1 C824.05,1103.46 826.83,1100.65 829.61,1097.65 C832.39,1094.65 835.18,1091.48 837.96,1088.11 C840.74,1084.74 843.52,1081.18 846.31,1077.42 C849.09,1073.65 851.87,1069.69 854.65,1065.51 C857.44,1061.33 860.22,1056.95 863,1052.33 C865.78,1047.72 868.57,1042.89 871.35,1037.82 C874.13,1032.75 876.91,1027.45 879.7,1021.91 C882.48,1016.36 885.26,1010.58 888.04,1004.54 C890.82,998.49 893.61,992.21 896.39,985.65 C899.17,979.09 901.95,972.28 904.74,965.19 C907.52,958.09 910.3,950.74 913.08,943.09 C915.87,935.44 918.65,927.51 921.43,919.29 C924.21,911.06 927,902.55 929.78,893.73 C932.56,884.91 936.73,870.92 938.13,866.36 L977.5,1007.5" fill="none" stroke="#0a0a0a" stroke-width="3.6" stroke-linejoin="miter"/>
<line x1="938.1" y1="855.6" x2="1200" y2="867.8" stroke="#1f8a3a" stroke-width="2.6" stroke-dasharray="8 3.5" />
<polygon points="1213,868.3 1199,860.5 1202,868 1198.5,875.5" fill="#1f8a3a" />
<circle cx="938.1" cy="855.6" r="4.2" fill="#1f8a3a" />
<line x1="979.4" y1="1010.3" x2="1199" y2="1089.7" stroke="#8a1a22" stroke-width="2.6" stroke-dasharray="8 3.5" />
<polygon points="1211.5,1094 1196,1096 1200.5,1090 1201,1082" fill="#8a1a22" />
<circle cx="979.4" cy="1010.3" r="4.2" fill="#8a1a22" />
<rect x="685.25" y="808.75" width="450.75" height="346.85" fill="none" stroke="#333" stroke-width="2.2" />
<line x1="770" y1="1155.6" x2="770" y2="1151.1" stroke="#333" stroke-width="1.6" />
<line x1="770" y1="808.75" x2="770" y2="813.25" stroke="#333" stroke-width="1.6" />
<line x1="841.3" y1="1155.6" x2="841.3" y2="1151.1" stroke="#333" stroke-width="1.6" />
<line x1="841.3" y1="808.75" x2="841.3" y2="813.25" stroke="#333" stroke-width="1.6" />
<line x1="912.6" y1="1155.6" x2="912.6" y2="1151.1" stroke="#333" stroke-width="1.6" />
<line x1="912.6" y1="808.75" x2="912.6" y2="813.25" stroke="#333" stroke-width="1.6" />
<line x1="983.9" y1="1155.6" x2="983.9" y2="1151.1" stroke="#333" stroke-width="1.6" />
<line x1="983.9" y1="808.75" x2="983.9" y2="813.25" stroke="#333" stroke-width="1.6" />
<line x1="1055.2" y1="1155.6" x2="1055.2" y2="1151.1" stroke="#333" stroke-width="1.6" />
<line x1="1055.2" y1="808.75" x2="1055.2" y2="813.25" stroke="#333" stroke-width="1.6" />
<line x1="1126.5" y1="1155.6" x2="1126.5" y2="1151.1" stroke="#333" stroke-width="1.6" />
<line x1="1126.5" y1="808.75" x2="1126.5" y2="813.25" stroke="#333" stroke-width="1.6" />
<line x1="712.96" y1="1155.6" x2="712.96" y2="1152.8" stroke="#333" stroke-width="1.3" />
<line x1="712.96" y1="808.75" x2="712.96" y2="811.55" stroke="#333" stroke-width="1.3" />
<line x1="727.22" y1="1155.6" x2="727.22" y2="1152.8" stroke="#333" stroke-width="1.3" />
<line x1="727.22" y1="808.75" x2="727.22" y2="811.55" stroke="#333" stroke-width="1.3" />
<line x1="741.48" y1="1155.6" x2="741.48" y2="1152.8" stroke="#333" stroke-width="1.3" />
<line x1="741.48" y1="808.75" x2="741.48" y2="811.55" stroke="#333" stroke-width="1.3" />
<line x1="755.74" y1="1155.6" x2="755.74" y2="1152.8" stroke="#333" stroke-width="1.3" />
<line x1="755.74" y1="808.75" x2="755.74" y2="811.55" stroke="#333" stroke-width="1.3" />
<line x1="784.26" y1="1155.6" x2="784.26" y2="1152.8" stroke="#333" stroke-width="1.3" />
<line x1="784.26" y1="808.75" x2="784.26" y2="811.55" stroke="#333" stroke-width="1.3" />
<line x1="798.52" y1="1155.6" x2="798.52" y2="1152.8" stroke="#333" stroke-width="1.3" />
<line x1="798.52" y1="808.75" x2="798.52" y2="811.55" stroke="#333" stroke-width="1.3" />
<line x1="812.78" y1="1155.6" x2="812.78" y2="1152.8" stroke="#333" stroke-width="1.3" />
<line x1="812.78" y1="808.75" x2="812.78" y2="811.55" stroke="#333" stroke-width="1.3" />
<line x1="827.04" y1="1155.6" x2="827.04" y2="1152.8" stroke="#333" stroke-width="1.3" />
<line x1="827.04" y1="808.75" x2="827.04" y2="811.55" stroke="#333" stroke-width="1.3" />
<line x1="855.56" y1="1155.6" x2="855.56" y2="1152.8" stroke="#333" stroke-width="1.3" />
<line x1="855.56" y1="808.75" x2="855.56" y2="811.55" stroke="#333" stroke-width="1.3" />
<line x1="869.82" y1="1155.6" x2="869.82" y2="1152.8" stroke="#333" stroke-width="1.3" />
<line x1="869.82" y1="808.75" x2="869.82" y2="811.55" stroke="#333" stroke-width="1.3" />
<line x1="884.08" y1="1155.6" x2="884.08" y2="1152.8" stroke="#333" stroke-width="1.3" />
<line x1="884.08" y1="808.75" x2="884.08" y2="811.55" stroke="#333" stroke-width="1.3" />
<line x1="898.34" y1="1155.6" x2="898.34" y2="1152.8" stroke="#333" stroke-width="1.3" />
<line x1="898.34" y1="808.75" x2="898.34" y2="811.55" stroke="#333" stroke-width="1.3" />
<line x1="926.86" y1="1155.6" x2="926.86" y2="1152.8" stroke="#333" stroke-width="1.3" />
<line x1="926.86" y1="808.75" x2="926.86" y2="811.55" stroke="#333" stroke-width="1.3" />
<line x1="941.12" y1="1155.6" x2="941.12" y2="1152.8" stroke="#333" stroke-width="1.3" />
<line x1="941.12" y1="808.75" x2="941.12" y2="811.55" stroke="#333" stroke-width="1.3" />
<line x1="955.38" y1="1155.6" x2="955.38" y2="1152.8" stroke="#333" stroke-width="1.3" />
<line x1="955.38" y1="808.75" x2="955.38" y2="811.55" stroke="#333" stroke-width="1.3" />
<line x1="969.64" y1="1155.6" x2="969.64" y2="1152.8" stroke="#333" stroke-width="1.3" />
<line x1="969.64" y1="808.75" x2="969.64" y2="811.55" stroke="#333" stroke-width="1.3" />
<line x1="998.16" y1="1155.6" x2="998.16" y2="1152.8" stroke="#333" stroke-width="1.3" />
<line x1="998.16" y1="808.75" x2="998.16" y2="811.55" stroke="#333" stroke-width="1.3" />
<line x1="1012.42" y1="1155.6" x2="1012.42" y2="1152.8" stroke="#333" stroke-width="1.3" />
<line x1="1012.42" y1="808.75" x2="1012.42" y2="811.55" stroke="#333" stroke-width="1.3" />
<line x1="1026.68" y1="1155.6" x2="1026.68" y2="1152.8" stroke="#333" stroke-width="1.3" />
<line x1="1026.68" y1="808.75" x2="1026.68" y2="811.55" stroke="#333" stroke-width="1.3" />
<line x1="1040.94" y1="1155.6" x2="1040.94" y2="1152.8" stroke="#333" stroke-width="1.3" />
<line x1="1040.94" y1="808.75" x2="1040.94" y2="811.55" stroke="#333" stroke-width="1.3" />
<line x1="1069.46" y1="1155.6" x2="1069.46" y2="1152.8" stroke="#333" stroke-width="1.3" />
<line x1="1069.46" y1="808.75" x2="1069.46" y2="811.55" stroke="#333" stroke-width="1.3" />
<line x1="1083.72" y1="1155.6" x2="1083.72" y2="1152.8" stroke="#333" stroke-width="1.3" />
<line x1="1083.72" y1="808.75" x2="1083.72" y2="811.55" stroke="#333" stroke-width="1.3" />
<line x1="1097.98" y1="1155.6" x2="1097.98" y2="1152.8" stroke="#333" stroke-width="1.3" />
<line x1="1097.98" y1="808.75" x2="1097.98" y2="811.55" stroke="#333" stroke-width="1.3" />
<line x1="1112.24" y1="1155.6" x2="1112.24" y2="1152.8" stroke="#333" stroke-width="1.3" />
<line x1="1112.24" y1="808.75" x2="1112.24" y2="811.55" stroke="#333" stroke-width="1.3" />
<line x1="685.25" y1="1146.25" x2="689.75" y2="1146.25" stroke="#333" stroke-width="1.6" />
<line x1="1136" y1="1146.25" x2="1131.5" y2="1146.25" stroke="#333" stroke-width="1.6" />
<line x1="685.25" y1="1062.95" x2="689.75" y2="1062.95" stroke="#333" stroke-width="1.6" />
<line x1="1136" y1="1062.95" x2="1131.5" y2="1062.95" stroke="#333" stroke-width="1.6" />
<line x1="685.25" y1="979.65" x2="689.75" y2="979.65" stroke="#333" stroke-width="1.6" />
<line x1="1136" y1="979.65" x2="1131.5" y2="979.65" stroke="#333" stroke-width="1.6" />
<line x1="685.25" y1="896.35" x2="689.75" y2="896.35" stroke="#333" stroke-width="1.6" />
<line x1="1136" y1="896.35" x2="1131.5" y2="896.35" stroke="#333" stroke-width="1.6" />
<line x1="685.25" y1="813.05" x2="689.75" y2="813.05" stroke="#333" stroke-width="1.6" />
<line x1="1136" y1="813.05" x2="1131.5" y2="813.05" stroke="#333" stroke-width="1.6" />
<line x1="685.25" y1="1125.42" x2="688.05" y2="1125.42" stroke="#333" stroke-width="1.3" />
<line x1="1136" y1="1125.42" x2="1133.2" y2="1125.42" stroke="#333" stroke-width="1.3" />
<line x1="685.25" y1="1104.6" x2="688.05" y2="1104.6" stroke="#333" stroke-width="1.3" />
<line x1="1136" y1="1104.6" x2="1133.2" y2="1104.6" stroke="#333" stroke-width="1.3" />
<line x1="685.25" y1="1083.78" x2="688.05" y2="1083.78" stroke="#333" stroke-width="1.3" />
<line x1="1136" y1="1083.78" x2="1133.2" y2="1083.78" stroke="#333" stroke-width="1.3" />
<line x1="685.25" y1="1042.12" x2="688.05" y2="1042.12" stroke="#333" stroke-width="1.3" />
<line x1="1136" y1="1042.12" x2="1133.2" y2="1042.12" stroke="#333" stroke-width="1.3" />
<line x1="685.25" y1="1021.3" x2="688.05" y2="1021.3" stroke="#333" stroke-width="1.3" />
<line x1="1136" y1="1021.3" x2="1133.2" y2="1021.3" stroke="#333" stroke-width="1.3" />
<line x1="685.25" y1="1000.48" x2="688.05" y2="1000.48" stroke="#333" stroke-width="1.3" />
<line x1="1136" y1="1000.48" x2="1133.2" y2="1000.48" stroke="#333" stroke-width="1.3" />
<line x1="685.25" y1="958.83" x2="688.05" y2="958.83" stroke="#333" stroke-width="1.3" />
<line x1="1136" y1="958.83" x2="1133.2" y2="958.83" stroke="#333" stroke-width="1.3" />
<line x1="685.25" y1="938" x2="688.05" y2="938" stroke="#333" stroke-width="1.3" />
<line x1="1136" y1="938" x2="1133.2" y2="938" stroke="#333" stroke-width="1.3" />
<line x1="685.25" y1="917.17" x2="688.05" y2="917.17" stroke="#333" stroke-width="1.3" />
<line x1="1136" y1="917.17" x2="1133.2" y2="917.17" stroke="#333" stroke-width="1.3" />
<line x1="685.25" y1="875.53" x2="688.05" y2="875.53" stroke="#333" stroke-width="1.3" />
<line x1="1136" y1="875.53" x2="1133.2" y2="875.53" stroke="#333" stroke-width="1.3" />
<line x1="685.25" y1="854.7" x2="688.05" y2="854.7" stroke="#333" stroke-width="1.3" />
<line x1="1136" y1="854.7" x2="1133.2" y2="854.7" stroke="#333" stroke-width="1.3" />
<line x1="685.25" y1="833.88" x2="688.05" y2="833.88" stroke="#333" stroke-width="1.3" />
<line x1="1136" y1="833.88" x2="1133.2" y2="833.88" stroke="#333" stroke-width="1.3" />
<text font-family="Liberation Sans, sans-serif" font-size="29.5" text-anchor="end" fill="#1a1a1a" transform="translate(680.5 1156.55) scale(0.940 1)"  stroke="#1a1a1a" stroke-width="0.5">0</text>
<text font-family="Liberation Sans, sans-serif" font-size="29.5" text-anchor="end" fill="#1a1a1a" transform="translate(680.5 1073.25) scale(0.940 1)"  stroke="#1a1a1a" stroke-width="0.5">2</text>
<text font-family="Liberation Sans, sans-serif" font-size="29.5" text-anchor="end" fill="#1a1a1a" transform="translate(680.5 989.95) scale(0.940 1)"  stroke="#1a1a1a" stroke-width="0.5">4</text>
<text font-family="Liberation Sans, sans-serif" font-size="29.5" text-anchor="end" fill="#1a1a1a" transform="translate(680.5 906.65) scale(0.940 1)"  stroke="#1a1a1a" stroke-width="0.5">6</text>
<text font-family="Liberation Sans, sans-serif" font-size="29.5" text-anchor="end" fill="#1a1a1a" transform="translate(680.5 823.35) scale(0.940 1)"  stroke="#1a1a1a" stroke-width="0.5">8</text>
<text x="706.5" y="848" font-family="Liberation Serif, serif" font-size="28" fill="#333" textLength="38.5" lengthAdjust="spacingAndGlyphs" stroke="#333" stroke-width="0.5">(c)</text>
<text x="701" y="892" font-family="Liberation Serif, serif" font-size="23.5" fill="#222" textLength="112.5" lengthAdjust="spacingAndGlyphs" stroke="#222" stroke-width="0.5"><tspan font-style="italic">a</tspan> = 100 nm</text>
<text x="701" y="925" font-family="Liberation Serif, serif" font-size="23.5" fill="#3a4aa8" textLength="112.5" lengthAdjust="spacingAndGlyphs" stroke="#3a4aa8" stroke-width="0.5"><tspan font-style="italic">a</tspan> = 200 nm</text>
<text x="701" y="959" font-family="Liberation Serif, serif" font-size="23.5" fill="#e0303a" textLength="112.5" lengthAdjust="spacingAndGlyphs" stroke="#e0303a" stroke-width="0.5"><tspan font-style="italic">a</tspan> = 300 nm</text>
<line x1="826" y1="887" x2="886" y2="887" stroke="#0a0a0a" stroke-width="3.2" />
<line x1="826" y1="919.5" x2="886" y2="919.5" stroke="#2a48b0" stroke-width="3.6" stroke-dasharray="10 5" />
<line x1="826" y1="954.5" x2="886" y2="954.5" stroke="#e0252d" stroke-width="3.6" stroke-dasharray="8 3.5 2.5 3.5" />
<text x="1011" y="930.5" font-family="Liberation Serif, serif" font-size="23" font-weight="bold" font-style="italic" fill="#3a2a20" textLength="107" lengthAdjust="spacingAndGlyphs" stroke="#3a2a20" stroke-width="0.5">Flat bands</text>
<text x="650.6" y="1038" font-family="Liberation Serif, serif" font-size="40" fill="#222" transform="rotate(-90 650.6 1038)" textLength="138.5" lengthAdjust="spacingAndGlyphs" stroke="#222" stroke-width="0.6"><tspan font-style="italic">Δk</tspan> [<tspan font-style="italic">μ</tspan>m<tspan dy="-13" font-size="24">-1</tspan><tspan dy="13">]</tspan></text>
<rect x="938.1" y="1182.8" width="39.7" height="344.7" fill="#d9d9d9" />
<rect x="977.8" y="1182.8" width="158.2" height="344.7" fill="#fde3cd" />
<line x1="770" y1="1182.8" x2="770" y2="1527.5" stroke="#c8c8c8" stroke-width="1.6" stroke-dasharray="7 6" opacity="0.75"/>
<line x1="841.3" y1="1182.8" x2="841.3" y2="1527.5" stroke="#c8c8c8" stroke-width="1.6" stroke-dasharray="7 6" opacity="0.75"/>
<line x1="912.6" y1="1182.8" x2="912.6" y2="1527.5" stroke="#c8c8c8" stroke-width="1.6" stroke-dasharray="7 6" opacity="0.75"/>
<line x1="983.9" y1="1182.8" x2="983.9" y2="1527.5" stroke="#c8c8c8" stroke-width="1.6" stroke-dasharray="7 6" opacity="0.75"/>
<line x1="1055.2" y1="1182.8" x2="1055.2" y2="1527.5" stroke="#c8c8c8" stroke-width="1.6" stroke-dasharray="7 6" opacity="0.75"/>
<line x1="1126.5" y1="1182.8" x2="1126.5" y2="1527.5" stroke="#c8c8c8" stroke-width="1.6" stroke-dasharray="7 6" opacity="0.75"/>
<line x1="685.25" y1="1462.4" x2="1136" y2="1462.4" stroke="#c8c8c8" stroke-width="1.6" stroke-dasharray="7 6" opacity="0.75"/>
<line x1="685.25" y1="1406.5" x2="1136" y2="1406.5" stroke="#c8c8c8" stroke-width="1.6" stroke-dasharray="7 6" opacity="0.75"/>
<line x1="685.25" y1="1350.6" x2="1136" y2="1350.6" stroke="#c8c8c8" stroke-width="1.6" stroke-dasharray="7 6" opacity="0.75"/>
<line x1="685.25" y1="1294.7" x2="1136" y2="1294.7" stroke="#c8c8c8" stroke-width="1.6" stroke-dasharray="7 6" opacity="0.75"/>
<line x1="685.25" y1="1238.8" x2="1136" y2="1238.8" stroke="#c8c8c8" stroke-width="1.6" stroke-dasharray="7 6" opacity="0.75"/>
<line x1="938.1" y1="1182.8" x2="938.1" y2="1527.5" stroke="#222" stroke-width="2.4" stroke-dasharray="9 4 2 4" />
<line x1="977.8" y1="1182.8" x2="977.8" y2="1527.5" stroke="#111" stroke-width="3" stroke-dasharray="9 4 2 4" />
<path d="M699.75,1517 C709.38,1516.12 739.12,1513.79 757.5,1511.75 C775.88,1509.71 795.42,1507.67 810,1504.75 C824.58,1501.83 833.33,1498.04 845,1494.25 C856.67,1490.46 868.33,1484.92 880,1482 C891.67,1479.08 905.08,1477.92 915,1476.75 C924.92,1475.58 929,1475.71 939.5,1475 C950,1474.29 961.67,1473.55 978,1472.5 C994.33,1471.45 1012.7,1470.15 1037.5,1468.7 C1062.3,1467.25 1111.92,1464.62 1126.8,1463.8" fill="none" stroke="#e0252d" stroke-width="3.6" stroke-dasharray="8 3.5 2.5 3.5" />
<path d="M699.75,1517 C709.38,1515.83 739.12,1513.5 757.5,1510 C775.88,1506.5 795.42,1500.67 810,1496 C824.58,1491.33 833.33,1487.25 845,1482 C856.67,1476.75 868.33,1469.75 880,1464.5 C891.67,1459.25 905.08,1453.88 915,1450.5 C924.92,1447.12 929,1447.12 939.5,1444.2 C950,1441.28 964.58,1436.03 978,1433 C991.42,1429.97 1004.25,1428.33 1020,1426 C1035.75,1423.67 1054.7,1421.5 1072.5,1419 C1090.3,1416.5 1117.75,1412.33 1126.8,1411" fill="none" stroke="#4a56b4" stroke-width="3.6" stroke-dasharray="12 6" />
<path d="M699.75,1517.5 C706.46,1516.92 727.46,1515.83 740,1514 C752.54,1512.17 763.33,1510 775,1506.5 C786.67,1503 798.33,1498.67 810,1493 C821.67,1487.33 833.33,1480.25 845,1472.5 C856.67,1464.75 868.33,1455.25 880,1446.5 C891.67,1437.75 904.17,1428.42 915,1420 C925.83,1411.58 934.5,1405.5 945,1396 C955.5,1386.5 968,1374.33 978,1363 C988,1351.67 995.08,1341.17 1005,1328 C1014.92,1314.83 1026.67,1297.33 1037.5,1284 C1048.33,1270.67 1059.5,1258.17 1070,1248 C1080.5,1237.83 1091.03,1230.38 1100.5,1223 C1109.97,1215.62 1122.42,1206.96 1126.8,1203.75" fill="none" stroke="#0a0a0a" stroke-width="3.4" />
<rect x="685.25" y="1182.8" width="450.75" height="344.7" fill="none" stroke="#333" stroke-width="2.2" />
<line x1="770" y1="1527.5" x2="770" y2="1523" stroke="#333" stroke-width="1.6" />
<line x1="770" y1="1182.8" x2="770" y2="1187.3" stroke="#333" stroke-width="1.6" />
<line x1="841.3" y1="1527.5" x2="841.3" y2="1523" stroke="#333" stroke-width="1.6" />
<line x1="841.3" y1="1182.8" x2="841.3" y2="1187.3" stroke="#333" stroke-width="1.6" />
<line x1="912.6" y1="1527.5" x2="912.6" y2="1523" stroke="#333" stroke-width="1.6" />
<line x1="912.6" y1="1182.8" x2="912.6" y2="1187.3" stroke="#333" stroke-width="1.6" />
<line x1="983.9" y1="1527.5" x2="983.9" y2="1523" stroke="#333" stroke-width="1.6" />
<line x1="983.9" y1="1182.8" x2="983.9" y2="1187.3" stroke="#333" stroke-width="1.6" />
<line x1="1055.2" y1="1527.5" x2="1055.2" y2="1523" stroke="#333" stroke-width="1.6" />
<line x1="1055.2" y1="1182.8" x2="1055.2" y2="1187.3" stroke="#333" stroke-width="1.6" />
<line x1="1126.5" y1="1527.5" x2="1126.5" y2="1523" stroke="#333" stroke-width="1.6" />
<line x1="1126.5" y1="1182.8" x2="1126.5" y2="1187.3" stroke="#333" stroke-width="1.6" />
<line x1="712.96" y1="1527.5" x2="712.96" y2="1524.7" stroke="#333" stroke-width="1.3" />
<line x1="712.96" y1="1182.8" x2="712.96" y2="1185.6" stroke="#333" stroke-width="1.3" />
<line x1="727.22" y1="1527.5" x2="727.22" y2="1524.7" stroke="#333" stroke-width="1.3" />
<line x1="727.22" y1="1182.8" x2="727.22" y2="1185.6" stroke="#333" stroke-width="1.3" />
<line x1="741.48" y1="1527.5" x2="741.48" y2="1524.7" stroke="#333" stroke-width="1.3" />
<line x1="741.48" y1="1182.8" x2="741.48" y2="1185.6" stroke="#333" stroke-width="1.3" />
<line x1="755.74" y1="1527.5" x2="755.74" y2="1524.7" stroke="#333" stroke-width="1.3" />
<line x1="755.74" y1="1182.8" x2="755.74" y2="1185.6" stroke="#333" stroke-width="1.3" />
<line x1="784.26" y1="1527.5" x2="784.26" y2="1524.7" stroke="#333" stroke-width="1.3" />
<line x1="784.26" y1="1182.8" x2="784.26" y2="1185.6" stroke="#333" stroke-width="1.3" />
<line x1="798.52" y1="1527.5" x2="798.52" y2="1524.7" stroke="#333" stroke-width="1.3" />
<line x1="798.52" y1="1182.8" x2="798.52" y2="1185.6" stroke="#333" stroke-width="1.3" />
<line x1="812.78" y1="1527.5" x2="812.78" y2="1524.7" stroke="#333" stroke-width="1.3" />
<line x1="812.78" y1="1182.8" x2="812.78" y2="1185.6" stroke="#333" stroke-width="1.3" />
<line x1="827.04" y1="1527.5" x2="827.04" y2="1524.7" stroke="#333" stroke-width="1.3" />
<line x1="827.04" y1="1182.8" x2="827.04" y2="1185.6" stroke="#333" stroke-width="1.3" />
<line x1="855.56" y1="1527.5" x2="855.56" y2="1524.7" stroke="#333" stroke-width="1.3" />
<line x1="855.56" y1="1182.8" x2="855.56" y2="1185.6" stroke="#333" stroke-width="1.3" />
<line x1="869.82" y1="1527.5" x2="869.82" y2="1524.7" stroke="#333" stroke-width="1.3" />
<line x1="869.82" y1="1182.8" x2="869.82" y2="1185.6" stroke="#333" stroke-width="1.3" />
<line x1="884.08" y1="1527.5" x2="884.08" y2="1524.7" stroke="#333" stroke-width="1.3" />
<line x1="884.08" y1="1182.8" x2="884.08" y2="1185.6" stroke="#333" stroke-width="1.3" />
<line x1="898.34" y1="1527.5" x2="898.34" y2="1524.7" stroke="#333" stroke-width="1.3" />
<line x1="898.34" y1="1182.8" x2="898.34" y2="1185.6" stroke="#333" stroke-width="1.3" />
<line x1="926.86" y1="1527.5" x2="926.86" y2="1524.7" stroke="#333" stroke-width="1.3" />
<line x1="926.86" y1="1182.8" x2="926.86" y2="1185.6" stroke="#333" stroke-width="1.3" />
<line x1="941.12" y1="1527.5" x2="941.12" y2="1524.7" stroke="#333" stroke-width="1.3" />
<line x1="941.12" y1="1182.8" x2="941.12" y2="1185.6" stroke="#333" stroke-width="1.3" />
<line x1="955.38" y1="1527.5" x2="955.38" y2="1524.7" stroke="#333" stroke-width="1.3" />
<line x1="955.38" y1="1182.8" x2="955.38" y2="1185.6" stroke="#333" stroke-width="1.3" />
<line x1="969.64" y1="1527.5" x2="969.64" y2="1524.7" stroke="#333" stroke-width="1.3" />
<line x1="969.64" y1="1182.8" x2="969.64" y2="1185.6" stroke="#333" stroke-width="1.3" />
<line x1="998.16" y1="1527.5" x2="998.16" y2="1524.7" stroke="#333" stroke-width="1.3" />
<line x1="998.16" y1="1182.8" x2="998.16" y2="1185.6" stroke="#333" stroke-width="1.3" />
<line x1="1012.42" y1="1527.5" x2="1012.42" y2="1524.7" stroke="#333" stroke-width="1.3" />
<line x1="1012.42" y1="1182.8" x2="1012.42" y2="1185.6" stroke="#333" stroke-width="1.3" />
<line x1="1026.68" y1="1527.5" x2="1026.68" y2="1524.7" stroke="#333" stroke-width="1.3" />
<line x1="1026.68" y1="1182.8" x2="1026.68" y2="1185.6" stroke="#333" stroke-width="1.3" />
<line x1="1040.94" y1="1527.5" x2="1040.94" y2="1524.7" stroke="#333" stroke-width="1.3" />
<line x1="1040.94" y1="1182.8" x2="1040.94" y2="1185.6" stroke="#333" stroke-width="1.3" />
<line x1="1069.46" y1="1527.5" x2="1069.46" y2="1524.7" stroke="#333" stroke-width="1.3" />
<line x1="1069.46" y1="1182.8" x2="1069.46" y2="1185.6" stroke="#333" stroke-width="1.3" />
<line x1="1083.72" y1="1527.5" x2="1083.72" y2="1524.7" stroke="#333" stroke-width="1.3" />
<line x1="1083.72" y1="1182.8" x2="1083.72" y2="1185.6" stroke="#333" stroke-width="1.3" />
<line x1="1097.98" y1="1527.5" x2="1097.98" y2="1524.7" stroke="#333" stroke-width="1.3" />
<line x1="1097.98" y1="1182.8" x2="1097.98" y2="1185.6" stroke="#333" stroke-width="1.3" />
<line x1="1112.24" y1="1527.5" x2="1112.24" y2="1524.7" stroke="#333" stroke-width="1.3" />
<line x1="1112.24" y1="1182.8" x2="1112.24" y2="1185.6" stroke="#333" stroke-width="1.3" />
<line x1="685.25" y1="1518.3" x2="689.75" y2="1518.3" stroke="#333" stroke-width="1.6" />
<line x1="1136" y1="1518.3" x2="1131.5" y2="1518.3" stroke="#333" stroke-width="1.6" />
<line x1="685.25" y1="1462.4" x2="689.75" y2="1462.4" stroke="#333" stroke-width="1.6" />
<line x1="1136" y1="1462.4" x2="1131.5" y2="1462.4" stroke="#333" stroke-width="1.6" />
<line x1="685.25" y1="1406.5" x2="689.75" y2="1406.5" stroke="#333" stroke-width="1.6" />
<line x1="1136" y1="1406.5" x2="1131.5" y2="1406.5" stroke="#333" stroke-width="1.6" />
<line x1="685.25" y1="1350.6" x2="689.75" y2="1350.6" stroke="#333" stroke-width="1.6" />
<line x1="1136" y1="1350.6" x2="1131.5" y2="1350.6" stroke="#333" stroke-width="1.6" />
<line x1="685.25" y1="1294.7" x2="689.75" y2="1294.7" stroke="#333" stroke-width="1.6" />
<line x1="1136" y1="1294.7" x2="1131.5" y2="1294.7" stroke="#333" stroke-width="1.6" />
<line x1="685.25" y1="1238.8" x2="689.75" y2="1238.8" stroke="#333" stroke-width="1.6" />
<line x1="1136" y1="1238.8" x2="1131.5" y2="1238.8" stroke="#333" stroke-width="1.6" />
<line x1="685.25" y1="1507.12" x2="688.05" y2="1507.12" stroke="#333" stroke-width="1.3" />
<line x1="1136" y1="1507.12" x2="1133.2" y2="1507.12" stroke="#333" stroke-width="1.3" />
<line x1="685.25" y1="1495.94" x2="688.05" y2="1495.94" stroke="#333" stroke-width="1.3" />
<line x1="1136" y1="1495.94" x2="1133.2" y2="1495.94" stroke="#333" stroke-width="1.3" />
<line x1="685.25" y1="1484.76" x2="688.05" y2="1484.76" stroke="#333" stroke-width="1.3" />
<line x1="1136" y1="1484.76" x2="1133.2" y2="1484.76" stroke="#333" stroke-width="1.3" />
<line x1="685.25" y1="1473.58" x2="688.05" y2="1473.58" stroke="#333" stroke-width="1.3" />
<line x1="1136" y1="1473.58" x2="1133.2" y2="1473.58" stroke="#333" stroke-width="1.3" />
<line x1="685.25" y1="1451.22" x2="688.05" y2="1451.22" stroke="#333" stroke-width="1.3" />
<line x1="1136" y1="1451.22" x2="1133.2" y2="1451.22" stroke="#333" stroke-width="1.3" />
<line x1="685.25" y1="1440.04" x2="688.05" y2="1440.04" stroke="#333" stroke-width="1.3" />
<line x1="1136" y1="1440.04" x2="1133.2" y2="1440.04" stroke="#333" stroke-width="1.3" />
<line x1="685.25" y1="1428.86" x2="688.05" y2="1428.86" stroke="#333" stroke-width="1.3" />
<line x1="1136" y1="1428.86" x2="1133.2" y2="1428.86" stroke="#333" stroke-width="1.3" />
<line x1="685.25" y1="1417.68" x2="688.05" y2="1417.68" stroke="#333" stroke-width="1.3" />
<line x1="1136" y1="1417.68" x2="1133.2" y2="1417.68" stroke="#333" stroke-width="1.3" />
<line x1="685.25" y1="1395.32" x2="688.05" y2="1395.32" stroke="#333" stroke-width="1.3" />
<line x1="1136" y1="1395.32" x2="1133.2" y2="1395.32" stroke="#333" stroke-width="1.3" />
<line x1="685.25" y1="1384.14" x2="688.05" y2="1384.14" stroke="#333" stroke-width="1.3" />
<line x1="1136" y1="1384.14" x2="1133.2" y2="1384.14" stroke="#333" stroke-width="1.3" />
<line x1="685.25" y1="1372.96" x2="688.05" y2="1372.96" stroke="#333" stroke-width="1.3" />
<line x1="1136" y1="1372.96" x2="1133.2" y2="1372.96" stroke="#333" stroke-width="1.3" />
<line x1="685.25" y1="1361.78" x2="688.05" y2="1361.78" stroke="#333" stroke-width="1.3" />
<line x1="1136" y1="1361.78" x2="1133.2" y2="1361.78" stroke="#333" stroke-width="1.3" />
<line x1="685.25" y1="1339.42" x2="688.05" y2="1339.42" stroke="#333" stroke-width="1.3" />
<line x1="1136" y1="1339.42" x2="1133.2" y2="1339.42" stroke="#333" stroke-width="1.3" />
<line x1="685.25" y1="1328.24" x2="688.05" y2="1328.24" stroke="#333" stroke-width="1.3" />
<line x1="1136" y1="1328.24" x2="1133.2" y2="1328.24" stroke="#333" stroke-width="1.3" />
<line x1="685.25" y1="1317.06" x2="688.05" y2="1317.06" stroke="#333" stroke-width="1.3" />
<line x1="1136" y1="1317.06" x2="1133.2" y2="1317.06" stroke="#333" stroke-width="1.3" />
<line x1="685.25" y1="1305.88" x2="688.05" y2="1305.88" stroke="#333" stroke-width="1.3" />
<line x1="1136" y1="1305.88" x2="1133.2" y2="1305.88" stroke="#333" stroke-width="1.3" />
<line x1="685.25" y1="1283.52" x2="688.05" y2="1283.52" stroke="#333" stroke-width="1.3" />
<line x1="1136" y1="1283.52" x2="1133.2" y2="1283.52" stroke="#333" stroke-width="1.3" />
<line x1="685.25" y1="1272.34" x2="688.05" y2="1272.34" stroke="#333" stroke-width="1.3" />
<line x1="1136" y1="1272.34" x2="1133.2" y2="1272.34" stroke="#333" stroke-width="1.3" />
<line x1="685.25" y1="1261.16" x2="688.05" y2="1261.16" stroke="#333" stroke-width="1.3" />
<line x1="1136" y1="1261.16" x2="1133.2" y2="1261.16" stroke="#333" stroke-width="1.3" />
<line x1="685.25" y1="1249.98" x2="688.05" y2="1249.98" stroke="#333" stroke-width="1.3" />
<line x1="1136" y1="1249.98" x2="1133.2" y2="1249.98" stroke="#333" stroke-width="1.3" />
<line x1="685.25" y1="1227.62" x2="688.05" y2="1227.62" stroke="#333" stroke-width="1.3" />
<line x1="1136" y1="1227.62" x2="1133.2" y2="1227.62" stroke="#333" stroke-width="1.3" />
<line x1="685.25" y1="1216.44" x2="688.05" y2="1216.44" stroke="#333" stroke-width="1.3" />
<line x1="1136" y1="1216.44" x2="1133.2" y2="1216.44" stroke="#333" stroke-width="1.3" />
<line x1="685.25" y1="1205.26" x2="688.05" y2="1205.26" stroke="#333" stroke-width="1.3" />
<line x1="1136" y1="1205.26" x2="1133.2" y2="1205.26" stroke="#333" stroke-width="1.3" />
<line x1="685.25" y1="1194.08" x2="688.05" y2="1194.08" stroke="#333" stroke-width="1.3" />
<line x1="1136" y1="1194.08" x2="1133.2" y2="1194.08" stroke="#333" stroke-width="1.3" />
<text font-family="Liberation Sans, sans-serif" font-size="29.5" text-anchor="end" fill="#1a1a1a" transform="translate(680.5 1528.6) scale(0.940 1)"  stroke="#1a1a1a" stroke-width="0.5">0</text>
<text font-family="Liberation Sans, sans-serif" font-size="29.5" text-anchor="end" fill="#1a1a1a" transform="translate(680.5 1472.7) scale(0.940 1)"  stroke="#1a1a1a" stroke-width="0.5">1</text>
<text font-family="Liberation Sans, sans-serif" font-size="29.5" text-anchor="end" fill="#1a1a1a" transform="translate(680.5 1416.8) scale(0.940 1)"  stroke="#1a1a1a" stroke-width="0.5">2</text>
<text font-family="Liberation Sans, sans-serif" font-size="29.5" text-anchor="end" fill="#1a1a1a" transform="translate(680.5 1360.9) scale(0.940 1)"  stroke="#1a1a1a" stroke-width="0.5">3</text>
<text font-family="Liberation Sans, sans-serif" font-size="29.5" text-anchor="end" fill="#1a1a1a" transform="translate(680.5 1305) scale(0.940 1)"  stroke="#1a1a1a" stroke-width="0.5">4</text>
<text font-family="Liberation Sans, sans-serif" font-size="29.5" text-anchor="end" fill="#1a1a1a" transform="translate(680.5 1249.1) scale(0.940 1)"  stroke="#1a1a1a" stroke-width="0.5">5</text>
<text font-family="Liberation Sans, sans-serif" font-size="29.5" text-anchor="end" fill="#1a1a1a" transform="translate(680.5 1193.2) scale(0.940 1)"  stroke="#1a1a1a" stroke-width="0.5">6</text>
<text font-family="Liberation Sans, sans-serif" font-size="29.5" text-anchor="middle" fill="#1a1a1a" transform="translate(699.7 1559.5) scale(0.940 1)"  stroke="#1a1a1a" stroke-width="0.5">0.0</text>
<text font-family="Liberation Sans, sans-serif" font-size="29.5" text-anchor="middle" fill="#1a1a1a" transform="translate(771 1559.5) scale(0.940 1)"  stroke="#1a1a1a" stroke-width="0.5">0.5</text>
<text font-family="Liberation Sans, sans-serif" font-size="29.5" text-anchor="middle" fill="#1a1a1a" transform="translate(842.3 1559.5) scale(0.940 1)"  stroke="#1a1a1a" stroke-width="0.5">1.0</text>
<text font-family="Liberation Sans, sans-serif" font-size="29.5" text-anchor="middle" fill="#1a1a1a" transform="translate(913.6 1559.5) scale(0.940 1)"  stroke="#1a1a1a" stroke-width="0.5">1.5</text>
<text font-family="Liberation Sans, sans-serif" font-size="29.5" text-anchor="middle" fill="#1a1a1a" transform="translate(984.9 1559.5) scale(0.940 1)"  stroke="#1a1a1a" stroke-width="0.5">2.0</text>
<text font-family="Liberation Sans, sans-serif" font-size="29.5" text-anchor="middle" fill="#1a1a1a" transform="translate(1056.2 1559.5) scale(0.940 1)"  stroke="#1a1a1a" stroke-width="0.5">2.5</text>
<text font-family="Liberation Sans, sans-serif" font-size="29.5" text-anchor="middle" fill="#1a1a1a" transform="translate(1127.5 1559.5) scale(0.940 1)"  stroke="#1a1a1a" stroke-width="0.5">3.0</text>
<text x="706" y="1221.5" font-family="Liberation Serif, serif" font-size="28" fill="#333" textLength="39.5" lengthAdjust="spacingAndGlyphs" stroke="#333" stroke-width="0.5">(d)</text>
<text x="839.5" y="1603" font-family="Liberation Serif, serif" font-size="41" fill="#222" textLength="160" lengthAdjust="spacingAndGlyphs" stroke="#222" stroke-width="0.6"><tspan font-style="italic">D</tspan> [mJ/m<tspan dy="-13" font-size="24">2</tspan><tspan dy="13">]</tspan></text>
<text x="649.7" y="1488.5" font-family="Liberation Serif, serif" font-size="40" fill="#222" transform="rotate(-90 649.7 1488.5)" textLength="259" lengthAdjust="spacingAndGlyphs" stroke="#222" stroke-width="0.6">1<tspan dy="-13" font-size="23">st</tspan><tspan dy="13"> bandgap [GHz]</tspan></text>
</g>
<g id="panel_e3">
<line x1="1370.5" y1="822.8" x2="1370.5" y2="990.6" stroke="#2a48b0" stroke-width="2.6" stroke-dasharray="10 6" />
<path d="M1264.4,848 C1266.8,847.17 1273.98,842.77 1278.8,843 C1283.62,843.23 1287.5,845.92 1293.3,849.4 C1299.1,852.88 1305.4,858.6 1313.6,863.9 C1321.8,869.2 1334.32,876.97 1342.5,881.2 C1350.68,885.43 1358.03,887.83 1362.7,889.3 C1367.37,890.77 1366.63,890.62 1370.5,890 C1374.37,889.38 1378.52,888.98 1385.9,885.6 C1393.28,882.22 1405.17,875.25 1414.8,869.7 C1424.43,864.15 1435.02,856.88 1443.7,852.3 C1452.38,847.72 1461.35,843.88 1466.9,842.2 C1472.45,840.52 1475.32,842.2 1477,842.2" fill="none" stroke="#e0252d" stroke-width="2" stroke-dasharray="8 4" />
<path d="M1264.4,938.5 C1270.17,938.12 1288.4,937.3 1299,936.2 C1309.6,935.1 1319.55,932.97 1328,931.9 C1336.45,930.83 1342.47,929.8 1349.7,929.8 C1356.93,929.8 1362.97,930.83 1371.4,931.9 C1379.83,932.97 1388.25,935 1400.3,936.2 C1412.35,937.4 1430.92,938.85 1443.7,939.1 C1456.48,939.35 1471.45,937.93 1477,937.7" fill="none" stroke="#e0252d" stroke-width="2" />
<line x1="1367" y1="884" x2="1358.5" y2="872" stroke="#e0252d" stroke-width="1.8" />
<polygon points="1356,868 1363,873 1357,877" fill="#e0252d" />
<line x1="1345" y1="933" x2="1324" y2="946" stroke="#e0252d" stroke-width="2.2" />
<polygon points="1318.5,949.5 1324.5,941.5 1328.5,948.5" fill="#e0252d" />
<circle cx="1370.5" cy="889.3" r="5.2" fill="#ffd21f" stroke="#e0252d" stroke-width="1.8" />
<circle cx="1350.3" cy="929.8" r="5.2" fill="#ffd21f" stroke="#e0252d" stroke-width="1.8" />
<text font-family="Liberation Serif, serif" font-size="29" font-style="italic" fill="#e0252d" transform="translate(1309 857) scale(0.720 1)"  stroke="#e0252d" stroke-width="0.5">ℬ</text>
<text x="1331" y="843.5" font-family="Liberation Serif, serif" font-size="19" fill="#e0252d"  stroke="#e0252d" stroke-width="0.5">II</text>
<text x="1328" y="863" font-family="Liberation Serif, serif" font-size="19" fill="#e0252d"  stroke="#e0252d" stroke-width="0.5">min</text>
<text font-family="Liberation Serif, serif" font-size="29" font-style="italic" fill="#e0252d" transform="translate(1275 965) scale(0.720 1)"  stroke="#e0252d" stroke-width="0.5">ℬ</text>
<text x="1295" y="954.5" font-family="Liberation Serif, serif" font-size="19" fill="#e0252d"  stroke="#e0252d" stroke-width="0.5">I</text>
<text x="1293.5" y="972.5" font-family="Liberation Serif, serif" font-size="19" fill="#e0252d"  stroke="#e0252d" stroke-width="0.5">max</text>
<text x="1432" y="910" font-family="Liberation Serif, serif" font-size="28" fill="#333" textLength="38" lengthAdjust="spacingAndGlyphs" stroke="#333" stroke-width="0.5">(e)</text>
<text x="1337" y="982.5" font-family="Liberation Serif, serif" font-size="20.5" fill="#3a8a4a" textLength="134.5" lengthAdjust="spacingAndGlyphs" stroke="#3a8a4a" stroke-width="0.5"><tspan font-style="italic">D</tspan> = 1.68 mJ/m<tspan dy="-7" font-size="11">2</tspan></text>
<text x="1352.5" y="811" font-family="Liberation Serif, serif" font-size="16" font-weight="bold" fill="#2a48b0" textLength="56.5" lengthAdjust="spacingAndGlyphs" stroke="#2a48b0" stroke-width="0.5">2<tspan dy="-5" font-size="9">nd</tspan><tspan dy="5"> BZ</tspan></text>
<rect x="1261.5" y="822.8" width="215.5" height="167.8" fill="none" stroke="#2a2a2a" stroke-width="2.6" />
<line x1="1270.2" y1="990.6" x2="1270.2" y2="986.1" stroke="#2a2a2a" stroke-width="1.6" />
<line x1="1270.2" y1="822.8" x2="1270.2" y2="827.3" stroke="#2a2a2a" stroke-width="1.6" />
<line x1="1361.31" y1="990.6" x2="1361.31" y2="986.1" stroke="#2a2a2a" stroke-width="1.6" />
<line x1="1361.31" y1="822.8" x2="1361.31" y2="827.3" stroke="#2a2a2a" stroke-width="1.6" />
<line x1="1452.42" y1="990.6" x2="1452.42" y2="986.1" stroke="#2a2a2a" stroke-width="1.6" />
<line x1="1452.42" y1="822.8" x2="1452.42" y2="827.3" stroke="#2a2a2a" stroke-width="1.6" />
<line x1="1285.38" y1="990.6" x2="1285.38" y2="987.8" stroke="#2a2a2a" stroke-width="1.3" />
<line x1="1285.38" y1="822.8" x2="1285.38" y2="825.6" stroke="#2a2a2a" stroke-width="1.3" />
<line x1="1300.57" y1="990.6" x2="1300.57" y2="987.8" stroke="#2a2a2a" stroke-width="1.3" />
<line x1="1300.57" y1="822.8" x2="1300.57" y2="825.6" stroke="#2a2a2a" stroke-width="1.3" />
<line x1="1315.76" y1="990.6" x2="1315.76" y2="987.8" stroke="#2a2a2a" stroke-width="1.3" />
<line x1="1315.76" y1="822.8" x2="1315.76" y2="825.6" stroke="#2a2a2a" stroke-width="1.3" />
<line x1="1330.94" y1="990.6" x2="1330.94" y2="987.8" stroke="#2a2a2a" stroke-width="1.3" />
<line x1="1330.94" y1="822.8" x2="1330.94" y2="825.6" stroke="#2a2a2a" stroke-width="1.3" />
<line x1="1346.12" y1="990.6" x2="1346.12" y2="987.8" stroke="#2a2a2a" stroke-width="1.3" />
<line x1="1346.12" y1="822.8" x2="1346.12" y2="825.6" stroke="#2a2a2a" stroke-width="1.3" />
<line x1="1376.5" y1="990.6" x2="1376.5" y2="987.8" stroke="#2a2a2a" stroke-width="1.3" />
<line x1="1376.5" y1="822.8" x2="1376.5" y2="825.6" stroke="#2a2a2a" stroke-width="1.3" />
<line x1="1391.68" y1="990.6" x2="1391.68" y2="987.8" stroke="#2a2a2a" stroke-width="1.3" />
<line x1="1391.68" y1="822.8" x2="1391.68" y2="825.6" stroke="#2a2a2a" stroke-width="1.3" />
<line x1="1406.87" y1="990.6" x2="1406.87" y2="987.8" stroke="#2a2a2a" stroke-width="1.3" />
<line x1="1406.87" y1="822.8" x2="1406.87" y2="825.6" stroke="#2a2a2a" stroke-width="1.3" />
<line x1="1422.05" y1="990.6" x2="1422.05" y2="987.8" stroke="#2a2a2a" stroke-width="1.3" />
<line x1="1422.05" y1="822.8" x2="1422.05" y2="825.6" stroke="#2a2a2a" stroke-width="1.3" />
<line x1="1437.24" y1="990.6" x2="1437.24" y2="987.8" stroke="#2a2a2a" stroke-width="1.3" />
<line x1="1437.24" y1="822.8" x2="1437.24" y2="825.6" stroke="#2a2a2a" stroke-width="1.3" />
<line x1="1467.61" y1="990.6" x2="1467.61" y2="987.8" stroke="#2a2a2a" stroke-width="1.3" />
<line x1="1467.61" y1="822.8" x2="1467.61" y2="825.6" stroke="#2a2a2a" stroke-width="1.3" />
<line x1="1261.5" y1="980.2" x2="1266" y2="980.2" stroke="#2a2a2a" stroke-width="1.6" />
<line x1="1477" y1="980.2" x2="1472.5" y2="980.2" stroke="#2a2a2a" stroke-width="1.6" />
<line x1="1261.5" y1="940.7" x2="1266" y2="940.7" stroke="#2a2a2a" stroke-width="1.6" />
<line x1="1477" y1="940.7" x2="1472.5" y2="940.7" stroke="#2a2a2a" stroke-width="1.6" />
<line x1="1261.5" y1="901.2" x2="1266" y2="901.2" stroke="#2a2a2a" stroke-width="1.6" />
<line x1="1477" y1="901.2" x2="1472.5" y2="901.2" stroke="#2a2a2a" stroke-width="1.6" />
<line x1="1261.5" y1="861.7" x2="1266" y2="861.7" stroke="#2a2a2a" stroke-width="1.6" />
<line x1="1477" y1="861.7" x2="1472.5" y2="861.7" stroke="#2a2a2a" stroke-width="1.6" />
<line x1="1261.5" y1="960.45" x2="1264.3" y2="960.45" stroke="#2a2a2a" stroke-width="1.3" />
<line x1="1477" y1="960.45" x2="1474.2" y2="960.45" stroke="#2a2a2a" stroke-width="1.3" />
<line x1="1261.5" y1="920.95" x2="1264.3" y2="920.95" stroke="#2a2a2a" stroke-width="1.3" />
<line x1="1477" y1="920.95" x2="1474.2" y2="920.95" stroke="#2a2a2a" stroke-width="1.3" />
<line x1="1261.5" y1="881.45" x2="1264.3" y2="881.45" stroke="#2a2a2a" stroke-width="1.3" />
<line x1="1477" y1="881.45" x2="1474.2" y2="881.45" stroke="#2a2a2a" stroke-width="1.3" />
<line x1="1261.5" y1="841.95" x2="1264.3" y2="841.95" stroke="#2a2a2a" stroke-width="1.3" />
<line x1="1477" y1="841.95" x2="1474.2" y2="841.95" stroke="#2a2a2a" stroke-width="1.3" />
<text x="1255" y="988.2" font-family="Liberation Sans, sans-serif" font-size="22.5" text-anchor="end" fill="#1a1a1a"  stroke="#1a1a1a" stroke-width="0.5">10</text>
<text x="1255" y="948.7" font-family="Liberation Sans, sans-serif" font-size="22.5" text-anchor="end" fill="#1a1a1a"  stroke="#1a1a1a" stroke-width="0.5">12</text>
<text x="1255" y="909.2" font-family="Liberation Sans, sans-serif" font-size="22.5" text-anchor="end" fill="#1a1a1a"  stroke="#1a1a1a" stroke-width="0.5">14</text>
<text x="1255" y="869.7" font-family="Liberation Sans, sans-serif" font-size="22.5" text-anchor="end" fill="#1a1a1a"  stroke="#1a1a1a" stroke-width="0.5">16</text>
<text x="1255" y="830.2" font-family="Liberation Sans, sans-serif" font-size="22.5" text-anchor="end" fill="#1a1a1a"  stroke="#1a1a1a" stroke-width="0.5">18</text>
<line x1="1370.5" y1="1009" x2="1370.5" y2="1176.3" stroke="#2a48b0" stroke-width="2.6" stroke-dasharray="10 6" />
<path d="M1264.4,1065 C1266.67,1063.67 1273.67,1058.93 1278,1057 C1282.33,1055.07 1286.4,1053.57 1290.4,1053.4 C1294.4,1053.23 1298.13,1054.57 1302,1056 C1305.87,1057.43 1306.85,1057.87 1313.6,1062 C1320.35,1066.13 1333.02,1076.13 1342.5,1080.8 C1351.98,1085.47 1360.87,1089.27 1370.5,1090 C1380.13,1090.73 1390.5,1087.7 1400.3,1085.2 C1410.1,1082.7 1419.65,1078.62 1429.3,1075 C1438.95,1071.38 1450.25,1066.63 1458.2,1063.5 C1466.15,1060.37 1473.87,1057.42 1477,1056.2" fill="none" stroke="#e0252d" stroke-width="2" stroke-dasharray="8 4" />
<path d="M1264.4,1151 C1272.6,1150.88 1295.92,1151.1 1313.6,1150.3 C1331.28,1149.5 1353.63,1146.3 1370.5,1146.2 C1387.37,1146.1 1397.05,1148.9 1414.8,1149.7 C1432.55,1150.5 1466.63,1150.78 1477,1151" fill="none" stroke="#e0252d" stroke-width="2" />
<circle cx="1370.5" cy="1090" r="5.2" fill="#ffd21f" stroke="#e0252d" stroke-width="1.8" />
<circle cx="1370.5" cy="1146.2" r="5.2" fill="#ffd21f" stroke="#e0252d" stroke-width="1.8" />
<text x="1337" y="1040.5" font-family="Liberation Serif, serif" font-size="20.5" fill="#8a3a40" textLength="134.5" lengthAdjust="spacingAndGlyphs" stroke="#8a3a40" stroke-width="0.5"><tspan font-style="italic">D</tspan> = 1.96 mJ/m<tspan dy="-7" font-size="11">2</tspan></text>
<text x="1432" y="1110" font-family="Liberation Serif, serif" font-size="28" fill="#333" textLength="34" lengthAdjust="spacingAndGlyphs" stroke="#333" stroke-width="0.5">(f)</text>
<rect x="1261.5" y="1009" width="215.5" height="167.3" fill="none" stroke="#2a2a2a" stroke-width="2.6" />
<line x1="1270.2" y1="1176.3" x2="1270.2" y2="1171.8" stroke="#2a2a2a" stroke-width="1.6" />
<line x1="1270.2" y1="1009" x2="1270.2" y2="1013.5" stroke="#2a2a2a" stroke-width="1.6" />
<line x1="1361.31" y1="1176.3" x2="1361.31" y2="1171.8" stroke="#2a2a2a" stroke-width="1.6" />
<line x1="1361.31" y1="1009" x2="1361.31" y2="1013.5" stroke="#2a2a2a" stroke-width="1.6" />
<line x1="1452.42" y1="1176.3" x2="1452.42" y2="1171.8" stroke="#2a2a2a" stroke-width="1.6" />
<line x1="1452.42" y1="1009" x2="1452.42" y2="1013.5" stroke="#2a2a2a" stroke-width="1.6" />
<line x1="1285.38" y1="1176.3" x2="1285.38" y2="1173.5" stroke="#2a2a2a" stroke-width="1.3" />
<line x1="1285.38" y1="1009" x2="1285.38" y2="1011.8" stroke="#2a2a2a" stroke-width="1.3" />
<line x1="1300.57" y1="1176.3" x2="1300.57" y2="1173.5" stroke="#2a2a2a" stroke-width="1.3" />
<line x1="1300.57" y1="1009" x2="1300.57" y2="1011.8" stroke="#2a2a2a" stroke-width="1.3" />
<line x1="1315.76" y1="1176.3" x2="1315.76" y2="1173.5" stroke="#2a2a2a" stroke-width="1.3" />
<line x1="1315.76" y1="1009" x2="1315.76" y2="1011.8" stroke="#2a2a2a" stroke-width="1.3" />
<line x1="1330.94" y1="1176.3" x2="1330.94" y2="1173.5" stroke="#2a2a2a" stroke-width="1.3" />
<line x1="1330.94" y1="1009" x2="1330.94" y2="1011.8" stroke="#2a2a2a" stroke-width="1.3" />
<line x1="1346.12" y1="1176.3" x2="1346.12" y2="1173.5" stroke="#2a2a2a" stroke-width="1.3" />
<line x1="1346.12" y1="1009" x2="1346.12" y2="1011.8" stroke="#2a2a2a" stroke-width="1.3" />
<line x1="1376.5" y1="1176.3" x2="1376.5" y2="1173.5" stroke="#2a2a2a" stroke-width="1.3" />
<line x1="1376.5" y1="1009" x2="1376.5" y2="1011.8" stroke="#2a2a2a" stroke-width="1.3" />
<line x1="1391.68" y1="1176.3" x2="1391.68" y2="1173.5" stroke="#2a2a2a" stroke-width="1.3" />
<line x1="1391.68" y1="1009" x2="1391.68" y2="1011.8" stroke="#2a2a2a" stroke-width="1.3" />
<line x1="1406.87" y1="1176.3" x2="1406.87" y2="1173.5" stroke="#2a2a2a" stroke-width="1.3" />
<line x1="1406.87" y1="1009" x2="1406.87" y2="1011.8" stroke="#2a2a2a" stroke-width="1.3" />
<line x1="1422.05" y1="1176.3" x2="1422.05" y2="1173.5" stroke="#2a2a2a" stroke-width="1.3" />
<line x1="1422.05" y1="1009" x2="1422.05" y2="1011.8" stroke="#2a2a2a" stroke-width="1.3" />
<line x1="1437.24" y1="1176.3" x2="1437.24" y2="1173.5" stroke="#2a2a2a" stroke-width="1.3" />
<line x1="1437.24" y1="1009" x2="1437.24" y2="1011.8" stroke="#2a2a2a" stroke-width="1.3" />
<line x1="1467.61" y1="1176.3" x2="1467.61" y2="1173.5" stroke="#2a2a2a" stroke-width="1.3" />
<line x1="1467.61" y1="1009" x2="1467.61" y2="1011.8" stroke="#2a2a2a" stroke-width="1.3" />
<line x1="1261.5" y1="1167" x2="1266" y2="1167" stroke="#2a2a2a" stroke-width="1.6" />
<line x1="1477" y1="1167" x2="1472.5" y2="1167" stroke="#2a2a2a" stroke-width="1.6" />
<line x1="1261.5" y1="1127.4" x2="1266" y2="1127.4" stroke="#2a2a2a" stroke-width="1.6" />
<line x1="1477" y1="1127.4" x2="1472.5" y2="1127.4" stroke="#2a2a2a" stroke-width="1.6" />
<line x1="1261.5" y1="1087.8" x2="1266" y2="1087.8" stroke="#2a2a2a" stroke-width="1.6" />
<line x1="1477" y1="1087.8" x2="1472.5" y2="1087.8" stroke="#2a2a2a" stroke-width="1.6" />
<line x1="1261.5" y1="1048.2" x2="1266" y2="1048.2" stroke="#2a2a2a" stroke-width="1.6" />
<line x1="1477" y1="1048.2" x2="1472.5" y2="1048.2" stroke="#2a2a2a" stroke-width="1.6" />
<line x1="1261.5" y1="1147.2" x2="1264.3" y2="1147.2" stroke="#2a2a2a" stroke-width="1.3" />
<line x1="1477" y1="1147.2" x2="1474.2" y2="1147.2" stroke="#2a2a2a" stroke-width="1.3" />
<line x1="1261.5" y1="1107.6" x2="1264.3" y2="1107.6" stroke="#2a2a2a" stroke-width="1.3" />
<line x1="1477" y1="1107.6" x2="1474.2" y2="1107.6" stroke="#2a2a2a" stroke-width="1.3" />
<line x1="1261.5" y1="1068" x2="1264.3" y2="1068" stroke="#2a2a2a" stroke-width="1.3" />
<line x1="1477" y1="1068" x2="1474.2" y2="1068" stroke="#2a2a2a" stroke-width="1.3" />
<line x1="1261.5" y1="1028.4" x2="1264.3" y2="1028.4" stroke="#2a2a2a" stroke-width="1.3" />
<line x1="1477" y1="1028.4" x2="1474.2" y2="1028.4" stroke="#2a2a2a" stroke-width="1.3" />
<text x="1255" y="1175" font-family="Liberation Sans, sans-serif" font-size="22.5" text-anchor="end" fill="#1a1a1a"  stroke="#1a1a1a" stroke-width="0.5">10</text>
<text x="1255" y="1135.4" font-family="Liberation Sans, sans-serif" font-size="22.5" text-anchor="end" fill="#1a1a1a"  stroke="#1a1a1a" stroke-width="0.5">12</text>
<text x="1255" y="1095.8" font-family="Liberation Sans, sans-serif" font-size="22.5" text-anchor="end" fill="#1a1a1a"  stroke="#1a1a1a" stroke-width="0.5">14</text>
<text x="1255" y="1056.2" font-family="Liberation Sans, sans-serif" font-size="22.5" text-anchor="end" fill="#1a1a1a"  stroke="#1a1a1a" stroke-width="0.5">16</text>
<text x="1255" y="1016.6" font-family="Liberation Sans, sans-serif" font-size="22.5" text-anchor="end" fill="#1a1a1a"  stroke="#1a1a1a" stroke-width="0.5">18</text>
<text x="1270.2" y="1203" font-family="Liberation Sans, sans-serif" font-size="22.5" text-anchor="middle" fill="#1a1a1a"  stroke="#1a1a1a" stroke-width="0.5">30</text>
<text x="1361.31" y="1203" font-family="Liberation Sans, sans-serif" font-size="22.5" text-anchor="middle" fill="#1a1a1a"  stroke="#1a1a1a" stroke-width="0.5">60</text>
<text x="1452.42" y="1203" font-family="Liberation Sans, sans-serif" font-size="22.5" text-anchor="middle" fill="#1a1a1a"  stroke="#1a1a1a" stroke-width="0.5">90</text>
<text x="1323.5" y="1229.8" font-family="Liberation Serif, serif" font-size="32" fill="#222" textLength="97.5" lengthAdjust="spacingAndGlyphs" stroke="#222" stroke-width="0.6"><tspan font-style="italic">k</tspan> [<tspan font-style="italic">μ</tspan>m<tspan dy="-10" font-size="18">-1</tspan><tspan dy="10">]</tspan></text>
<text x="1218" y="1053.5" font-family="Liberation Serif, serif" font-size="32.5" fill="#222" transform="rotate(-90 1218 1053.5)" textLength="100" lengthAdjust="spacingAndGlyphs" stroke="#222" stroke-width="0.6"><tspan font-style="italic">f</tspan> [GHz]</text>
<path d="M1228.3,1276 C1230.35,1279.33 1236.15,1289.29 1240.6,1296 C1245.05,1302.71 1249.27,1308.58 1255,1316.25 C1260.73,1323.92 1267.83,1334.33 1275,1342 C1282.17,1349.67 1289.33,1356 1298,1362.25 C1306.67,1368.5 1317.4,1374.94 1327,1379.5 C1336.6,1384.06 1343.63,1386.48 1355.6,1389.6 C1367.57,1392.72 1384.42,1395.57 1398.8,1398.2 C1413.18,1400.83 1427.53,1403.27 1441.9,1405.4 C1456.27,1407.53 1473.02,1409.07 1485,1411 C1496.98,1412.93 1506.85,1415.45 1513.8,1417 C1520.75,1418.55 1524.55,1419.75 1526.7,1420.3 L1526.7,1268.8 L1228.3,1268.8 Z" fill="#fde3cd" />
<path d="M1228.3,1276 C1230.35,1279.33 1236.15,1289.29 1240.6,1296 C1245.05,1302.71 1249.27,1308.58 1255,1316.25 C1260.73,1323.92 1267.83,1334.33 1275,1342 C1282.17,1349.67 1289.33,1356 1298,1362.25 C1306.67,1368.5 1317.4,1374.94 1327,1379.5 C1336.6,1384.06 1343.63,1386.48 1355.6,1389.6 C1367.57,1392.72 1384.42,1395.57 1398.8,1398.2 C1413.18,1400.83 1427.53,1403.27 1441.9,1405.4 C1456.27,1407.53 1473.02,1409.07 1485,1411 C1496.98,1412.93 1506.85,1415.45 1513.8,1417 C1520.75,1418.55 1524.55,1419.75 1526.7,1420.3 L1526.7,1427 L1485,1422 L1441.9,1417.5 L1398.8,1411 L1355.6,1401 L1327,1391 L1298,1376.6 L1275,1359.4 L1255,1339.25 L1240.6,1322 L1228.3,1304.75 Z" fill="#d6d6d6" />
<path d="M1228.3,1304.75 C1230.35,1307.62 1236.15,1316.25 1240.6,1322 C1245.05,1327.75 1249.27,1333.02 1255,1339.25 C1260.73,1345.48 1267.83,1353.18 1275,1359.4 C1282.17,1365.62 1289.33,1371.33 1298,1376.6 C1306.67,1381.87 1317.4,1386.93 1327,1391 C1336.6,1395.07 1343.63,1397.67 1355.6,1401 C1367.57,1404.33 1384.42,1408.25 1398.8,1411 C1413.18,1413.75 1427.53,1415.67 1441.9,1417.5 C1456.27,1419.33 1470.87,1420.42 1485,1422 C1499.13,1423.58 1519.75,1426.17 1526.7,1427" fill="none" stroke="#2aa33a" stroke-width="2.6" />
<path d="M1228.3,1276 C1230.35,1279.33 1236.15,1289.29 1240.6,1296 C1245.05,1302.71 1249.27,1308.58 1255,1316.25 C1260.73,1323.92 1267.83,1334.33 1275,1342 C1282.17,1349.67 1289.33,1356 1298,1362.25 C1306.67,1368.5 1317.4,1374.94 1327,1379.5 C1336.6,1384.06 1343.63,1386.48 1355.6,1389.6 C1367.57,1392.72 1384.42,1395.57 1398.8,1398.2 C1413.18,1400.83 1427.53,1403.27 1441.9,1405.4 C1456.27,1407.53 1473.02,1409.07 1485,1411 C1496.98,1412.93 1506.85,1415.45 1513.8,1417 C1520.75,1418.55 1524.55,1419.75 1526.7,1420.3" fill="none" stroke="#3a2418" stroke-width="2" />
<rect x="1228.3" y="1268.8" width="298.4" height="229.5" fill="none" stroke="#555" stroke-width="2" />
<line x1="1302.9" y1="1498.3" x2="1302.9" y2="1494.3" stroke="#555" stroke-width="1.6" />
<line x1="1302.9" y1="1268.8" x2="1302.9" y2="1272.8" stroke="#555" stroke-width="1.6" />
<line x1="1377.5" y1="1498.3" x2="1377.5" y2="1494.3" stroke="#555" stroke-width="1.6" />
<line x1="1377.5" y1="1268.8" x2="1377.5" y2="1272.8" stroke="#555" stroke-width="1.6" />
<line x1="1452.1" y1="1498.3" x2="1452.1" y2="1494.3" stroke="#555" stroke-width="1.6" />
<line x1="1452.1" y1="1268.8" x2="1452.1" y2="1272.8" stroke="#555" stroke-width="1.6" />
<line x1="1243.22" y1="1498.3" x2="1243.22" y2="1495.8" stroke="#555" stroke-width="1.3" />
<line x1="1243.22" y1="1268.8" x2="1243.22" y2="1271.3" stroke="#555" stroke-width="1.3" />
<line x1="1258.14" y1="1498.3" x2="1258.14" y2="1495.8" stroke="#555" stroke-width="1.3" />
<line x1="1258.14" y1="1268.8" x2="1258.14" y2="1271.3" stroke="#555" stroke-width="1.3" />
<line x1="1273.06" y1="1498.3" x2="1273.06" y2="1495.8" stroke="#555" stroke-width="1.3" />
<line x1="1273.06" y1="1268.8" x2="1273.06" y2="1271.3" stroke="#555" stroke-width="1.3" />
<line x1="1287.98" y1="1498.3" x2="1287.98" y2="1495.8" stroke="#555" stroke-width="1.3" />
<line x1="1287.98" y1="1268.8" x2="1287.98" y2="1271.3" stroke="#555" stroke-width="1.3" />
<line x1="1317.82" y1="1498.3" x2="1317.82" y2="1495.8" stroke="#555" stroke-width="1.3" />
<line x1="1317.82" y1="1268.8" x2="1317.82" y2="1271.3" stroke="#555" stroke-width="1.3" />
<line x1="1332.74" y1="1498.3" x2="1332.74" y2="1495.8" stroke="#555" stroke-width="1.3" />
<line x1="1332.74" y1="1268.8" x2="1332.74" y2="1271.3" stroke="#555" stroke-width="1.3" />
<line x1="1347.66" y1="1498.3" x2="1347.66" y2="1495.8" stroke="#555" stroke-width="1.3" />
<line x1="1347.66" y1="1268.8" x2="1347.66" y2="1271.3" stroke="#555" stroke-width="1.3" />
<line x1="1362.58" y1="1498.3" x2="1362.58" y2="1495.8" stroke="#555" stroke-width="1.3" />
<line x1="1362.58" y1="1268.8" x2="1362.58" y2="1271.3" stroke="#555" stroke-width="1.3" />
<line x1="1392.42" y1="1498.3" x2="1392.42" y2="1495.8" stroke="#555" stroke-width="1.3" />
<line x1="1392.42" y1="1268.8" x2="1392.42" y2="1271.3" stroke="#555" stroke-width="1.3" />
<line x1="1407.34" y1="1498.3" x2="1407.34" y2="1495.8" stroke="#555" stroke-width="1.3" />
<line x1="1407.34" y1="1268.8" x2="1407.34" y2="1271.3" stroke="#555" stroke-width="1.3" />
<line x1="1422.26" y1="1498.3" x2="1422.26" y2="1495.8" stroke="#555" stroke-width="1.3" />
<line x1="1422.26" y1="1268.8" x2="1422.26" y2="1271.3" stroke="#555" stroke-width="1.3" />
<line x1="1437.18" y1="1498.3" x2="1437.18" y2="1495.8" stroke="#555" stroke-width="1.3" />
<line x1="1437.18" y1="1268.8" x2="1437.18" y2="1271.3" stroke="#555" stroke-width="1.3" />
<line x1="1467.02" y1="1498.3" x2="1467.02" y2="1495.8" stroke="#555" stroke-width="1.3" />
<line x1="1467.02" y1="1268.8" x2="1467.02" y2="1271.3" stroke="#555" stroke-width="1.3" />
<line x1="1481.94" y1="1498.3" x2="1481.94" y2="1495.8" stroke="#555" stroke-width="1.3" />
<line x1="1481.94" y1="1268.8" x2="1481.94" y2="1271.3" stroke="#555" stroke-width="1.3" />
<line x1="1496.86" y1="1498.3" x2="1496.86" y2="1495.8" stroke="#555" stroke-width="1.3" />
<line x1="1496.86" y1="1268.8" x2="1496.86" y2="1271.3" stroke="#555" stroke-width="1.3" />
<line x1="1511.78" y1="1498.3" x2="1511.78" y2="1495.8" stroke="#555" stroke-width="1.3" />
<line x1="1511.78" y1="1268.8" x2="1511.78" y2="1271.3" stroke="#555" stroke-width="1.3" />
<line x1="1228.3" y1="1326.3" x2="1232.3" y2="1326.3" stroke="#555" stroke-width="1.6" />
<line x1="1526.7" y1="1326.3" x2="1522.7" y2="1326.3" stroke="#555" stroke-width="1.6" />
<line x1="1228.3" y1="1383.25" x2="1232.3" y2="1383.25" stroke="#555" stroke-width="1.6" />
<line x1="1526.7" y1="1383.25" x2="1522.7" y2="1383.25" stroke="#555" stroke-width="1.6" />
<line x1="1228.3" y1="1440.75" x2="1232.3" y2="1440.75" stroke="#555" stroke-width="1.6" />
<line x1="1526.7" y1="1440.75" x2="1522.7" y2="1440.75" stroke="#555" stroke-width="1.6" />
<line x1="1228.3" y1="1280.27" x2="1230.8" y2="1280.27" stroke="#555" stroke-width="1.3" />
<line x1="1526.7" y1="1280.27" x2="1524.2" y2="1280.27" stroke="#555" stroke-width="1.3" />
<line x1="1228.3" y1="1291.75" x2="1230.8" y2="1291.75" stroke="#555" stroke-width="1.3" />
<line x1="1526.7" y1="1291.75" x2="1524.2" y2="1291.75" stroke="#555" stroke-width="1.3" />
<line x1="1228.3" y1="1303.22" x2="1230.8" y2="1303.22" stroke="#555" stroke-width="1.3" />
<line x1="1526.7" y1="1303.22" x2="1524.2" y2="1303.22" stroke="#555" stroke-width="1.3" />
<line x1="1228.3" y1="1314.7" x2="1230.8" y2="1314.7" stroke="#555" stroke-width="1.3" />
<line x1="1526.7" y1="1314.7" x2="1524.2" y2="1314.7" stroke="#555" stroke-width="1.3" />
<line x1="1228.3" y1="1337.65" x2="1230.8" y2="1337.65" stroke="#555" stroke-width="1.3" />
<line x1="1526.7" y1="1337.65" x2="1524.2" y2="1337.65" stroke="#555" stroke-width="1.3" />
<line x1="1228.3" y1="1349.12" x2="1230.8" y2="1349.12" stroke="#555" stroke-width="1.3" />
<line x1="1526.7" y1="1349.12" x2="1524.2" y2="1349.12" stroke="#555" stroke-width="1.3" />
<line x1="1228.3" y1="1360.6" x2="1230.8" y2="1360.6" stroke="#555" stroke-width="1.3" />
<line x1="1526.7" y1="1360.6" x2="1524.2" y2="1360.6" stroke="#555" stroke-width="1.3" />
<line x1="1228.3" y1="1372.08" x2="1230.8" y2="1372.08" stroke="#555" stroke-width="1.3" />
<line x1="1526.7" y1="1372.08" x2="1524.2" y2="1372.08" stroke="#555" stroke-width="1.3" />
<line x1="1228.3" y1="1395.02" x2="1230.8" y2="1395.02" stroke="#555" stroke-width="1.3" />
<line x1="1526.7" y1="1395.02" x2="1524.2" y2="1395.02" stroke="#555" stroke-width="1.3" />
<line x1="1228.3" y1="1406.5" x2="1230.8" y2="1406.5" stroke="#555" stroke-width="1.3" />
<line x1="1526.7" y1="1406.5" x2="1524.2" y2="1406.5" stroke="#555" stroke-width="1.3" />
<line x1="1228.3" y1="1417.97" x2="1230.8" y2="1417.97" stroke="#555" stroke-width="1.3" />
<line x1="1526.7" y1="1417.97" x2="1524.2" y2="1417.97" stroke="#555" stroke-width="1.3" />
<line x1="1228.3" y1="1429.45" x2="1230.8" y2="1429.45" stroke="#555" stroke-width="1.3" />
<line x1="1526.7" y1="1429.45" x2="1524.2" y2="1429.45" stroke="#555" stroke-width="1.3" />
<line x1="1228.3" y1="1452.4" x2="1230.8" y2="1452.4" stroke="#555" stroke-width="1.3" />
<line x1="1526.7" y1="1452.4" x2="1524.2" y2="1452.4" stroke="#555" stroke-width="1.3" />
<line x1="1228.3" y1="1463.88" x2="1230.8" y2="1463.88" stroke="#555" stroke-width="1.3" />
<line x1="1526.7" y1="1463.88" x2="1524.2" y2="1463.88" stroke="#555" stroke-width="1.3" />
<line x1="1228.3" y1="1475.35" x2="1230.8" y2="1475.35" stroke="#555" stroke-width="1.3" />
<line x1="1526.7" y1="1475.35" x2="1524.2" y2="1475.35" stroke="#555" stroke-width="1.3" />
<line x1="1228.3" y1="1486.83" x2="1230.8" y2="1486.83" stroke="#555" stroke-width="1.3" />
<line x1="1526.7" y1="1486.83" x2="1524.2" y2="1486.83" stroke="#555" stroke-width="1.3" />
<text x="1219" y="1278.3" font-family="Liberation Sans, sans-serif" font-size="26.8" text-anchor="end" fill="#1a1a1a"  stroke="#1a1a1a" stroke-width="0.5">2.0</text>
<text x="1219" y="1335.8" font-family="Liberation Sans, sans-serif" font-size="26.8" text-anchor="end" fill="#1a1a1a"  stroke="#1a1a1a" stroke-width="0.5">1.5</text>
<text x="1219" y="1392.75" font-family="Liberation Sans, sans-serif" font-size="26.8" text-anchor="end" fill="#1a1a1a"  stroke="#1a1a1a" stroke-width="0.5">1.0</text>
<text x="1219" y="1450.25" font-family="Liberation Sans, sans-serif" font-size="26.8" text-anchor="end" fill="#1a1a1a"  stroke="#1a1a1a" stroke-width="0.5">0.5</text>
<text x="1219" y="1507.8" font-family="Liberation Sans, sans-serif" font-size="26.8" text-anchor="end" fill="#1a1a1a"  stroke="#1a1a1a" stroke-width="0.5">0.0</text>
<text x="1230" y="1531" font-family="Liberation Sans, sans-serif" font-size="26.8" text-anchor="middle" fill="#1a1a1a"  stroke="#1a1a1a" stroke-width="0.5">100</text>
<text x="1303" y="1531" font-family="Liberation Sans, sans-serif" font-size="26.8" text-anchor="middle" fill="#1a1a1a"  stroke="#1a1a1a" stroke-width="0.5">200</text>
<text x="1377.8" y="1531" font-family="Liberation Sans, sans-serif" font-size="26.8" text-anchor="middle" fill="#1a1a1a"  stroke="#1a1a1a" stroke-width="0.5">300</text>
<text x="1452" y="1531" font-family="Liberation Sans, sans-serif" font-size="26.8" text-anchor="middle" fill="#1a1a1a"  stroke="#1a1a1a" stroke-width="0.5">400</text>
<text x="1526.7" y="1531" font-family="Liberation Sans, sans-serif" font-size="26.8" text-anchor="middle" fill="#1a1a1a"  stroke="#1a1a1a" stroke-width="0.5">500</text>
<text x="1373" y="1319.5" font-family="Liberation Serif, serif" font-size="23" font-weight="bold" font-style="italic" fill="#3a2a20" textLength="106.5" lengthAdjust="spacingAndGlyphs" stroke="#3a2a20" stroke-width="0.5">Flat bands</text>
<text x="1242" y="1476" font-family="Liberation Serif, serif" font-size="28" fill="#333" textLength="40" lengthAdjust="spacingAndGlyphs" stroke="#333" stroke-width="0.5">(g)</text>
<text x="1332.5" y="1560.6" font-family="Liberation Serif, serif" font-size="31" fill="#222" textLength="82.5" lengthAdjust="spacingAndGlyphs" stroke="#222" stroke-width="0.6"><tspan font-style="italic">a</tspan> [nm]</text>
<text x="1170" y="1457" font-family="Liberation Serif, serif" font-size="33.5" fill="#222" transform="rotate(-90 1170 1457)" textLength="129.5" lengthAdjust="spacingAndGlyphs" stroke="#222" stroke-width="0.6"><tspan font-style="italic">D</tspan> [mJ/m<tspan dy="-11" font-size="19">2</tspan><tspan dy="11">]</tspan></text>
</g>
</svg>
</body>
</html>
